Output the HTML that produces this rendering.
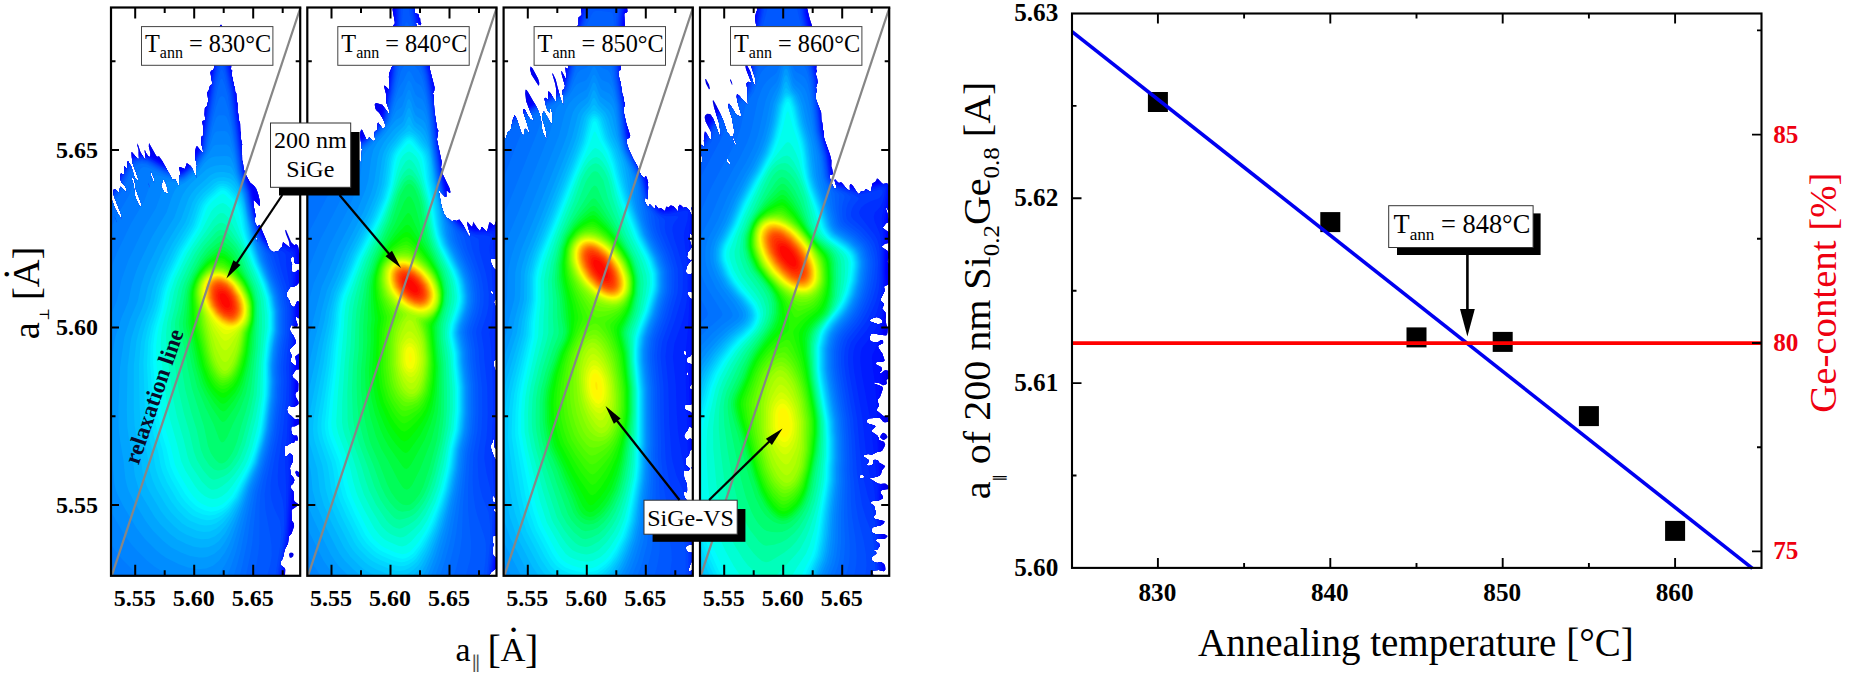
<!DOCTYPE html>
<html lang="en"><head><meta charset="utf-8"><title>Figure</title><style>html,body{margin:0;padding:0;background:#fff}svg{display:block}text{font-family:"Liberation Serif","DejaVu Serif",serif}.b{font-weight:bold}.r{font-weight:normal}</style></head><body>
<svg width="1850" height="676" viewBox="0 0 1850 676">
<defs></defs>
<rect width="1850" height="676" fill="#fff"/>
<clipPath id="r0"><rect x="111.0" y="7.5" width="189.2" height="568.3"/></clipPath><clipPath id="c0" clip-path="url(#r0)"><path clip-rule="evenodd" d="M221 24.6l1.5 1.9 0.5 4 0.7 1 -0.2 3 0.7 1 -1 4 5 14 2.2 8 0.2 3 0.7 1 -0.4 4 1.3 1 -0.6 5 0.9 2 0.2 3 0.9 2 0.2 3 1.2 2 0.1 4 1.2 2 0.3 7 0.9 3 -0.1 8 0.8 2 0.8 7 1.1 3 0.2 8 0.5 1 -0.4 4 1.8 8 -0.9 6 0.7 1 0.1 9 0.8 2 0.6 6 2.2 6 4.3 7.9 4 3.4 2.1 2.7 1.9 5.1 2 8.2 0 3.9 -1-0.3 -5-5.4 -0.7 0.5 0.3 5 2.2 11 -1.6 2 0.4 3 1.3 3 2.1 2.6 1-2.3 1 0.7 6 14.2 3 8.8 2 2.3 3 1.4 2-0.9 2 0.1 1.2-0.9 0.9-2 0.9-0.8 1.2-0.2 0.8-5.5 6 5.1 1 0 -0.7-4.6 -3.3-8.2 -1-3.8 1-0.7 5.4 12.7 2.6 2.5 1-0.1 1-1 2 2.1 1 5.9 3 8.6 0 2.3 -1 1.2 -5 0 -1.9-1.5 0.2-4 -0.7-2 -0.6-0.6 -1 0.7 -1.3 1.9 -0.1 2 1.5 4 -0.9 6 0.8 1.3 2 0.8 2-0.8 2-2.1 1 0.5 0.7 2.3 -0.3 9 -1 2 -2.4 2.2 -2 0.8 -3 0.1 -1 0.7 -3 4.8 -0.6 2.4 0.6 2.6 2.4 3.4 1.1 4 1.5 2.1 2 0.5 0.9-0.6 2.1-5 1-0.4 4.1 3.4 0.3 7 -1.4 6 -1 1 -1-0.1 -3-1.9 -0.4 1 0.4 2.8 1.6 4.2 -0.6 2.8 -1 0.7 -1-0.5 -1.8-2 -1.2-0.5 -1 0.2 -0.8 1.3 -0.3 3 0.4 2 2.7 3.5 2.7 5.5 0.2 2 -1.1 2 -5.4 5 -0.2 1 2.5 5 -1.2 5 0.7 2 3.8 3.1 1 0.2 0.4-2.3 -1-7 3.6-3.1 1 0 2.1 5.1 0.2 3 -0.3 2.3 -2 4.9 -1 0.9 -3 0 -4 5.9 0.9 2 4.7 4 0.9 2 -0.2 7 -0.5 1 -2 1 -0.6 2 0.3 2 2.9 5 0.3 2 -0.7 1.2 -4 2.3 -5-1.2 -1.1 0.7 -0.9 3 0.4 3 1.5 2 2.1 1.3 4 3.8 3-0.9 2 0.7 1.3 3.1 -0.3 1.2 -1 0.9 -2 0.2 -3 1.5 -3-0.1 -0.9 1.3 0 3 0.9 3.5 2 1.7 3-0.3 1 3.1 -0.4 2 -0.6 0.6 -1-0.8 -1 0.2 -1 2.3 -3 0.3 -4 2.5 -2 0.2 -0.8 1.7 0.2 6 0.6 2.4 1 0.7 1-0.2 2-2.3 1-0.5 2 1.1 0.9 1.8 0 5 -2.7 5 -0.2 2 0.8 6 3.2 4 0.4 2 -1.4 3.2 -2.2 1.8 -0.6 2 3.3 4 0.6 9 0.6 1 3.2 2 0.2 1 -1.2 2 -4.9 2.9 -0.6 1.1 0.4 10 2.2 3 0.1 3 -2.5 7 -2.9 3 -0.7 7.1 -3.3 5.9 -1.9 9 -2.3 3 0.5 4 3 2.1 1.2 1.9 -0.3 8 -2.9 0.5 -173 0.5 -1-1 0.4-366 0.6-1.8 2 3.2 0.7-0.4 -3-11 0-10 0.3-0.8 1 2.4 2 7.4 3 7.9 6 10.7 1 0.1 -1-5.5 -6.5-16.2 -0.9-3 -0.1-4 0.5-1.3 1 0 4 3.6 0.6-1.3 0.4-4.2 1-0.5 5.1 5.7 0.5-1 -0.6-3.4 -1-2.4 -3-2.8 -1-1.7 -1-4.7 1-3.2 2 1.4 1.1-0.2 -0.1-8.4 3 2.7 0.3-0.3 -0.2-6 0.9-1.6 3.2 5.6 3.4 11 2.4 2.8 1.4 0.2 -0.5-3 -5.5-15 -1.1-10 0.7-0.5 6 7.5 1-0.9 -0.5-9.1 -1.5-4.9 0-2.3 0.2 2.2 0.8 0.2 2.6 7.8 4.4 7.2 1-0.1 -1.5-9.1 0.5-0.2 1.4 3.2 2.1 3 1.5 0.5 0.4-0.5 0-3 -1.6-7 0.2-3.4 7 12.5 1 1.1 2-0.5 3 4.4 10 18.3 1 1.1 2-0.8 4 7.2 0.6-1.9 -0.2-8 1-3 -1.4-6 1-0.5 5 2 1.6-5.5 0.4-0.2 3 2.2 1.7 2 4.3 10 1 0.7 -0.8-8.7 0.8-4 -1.9-8 0.2-7 0.7-3.3 1-1.3 5 6.7 1.1-0.1 -0.2-3 -1.4-5 -0.2-5 0.3-3 1.8-1 0.1-7 -1.3-7 0.8-0.8 2-0.1 0.3-1.1 -0.7-5 0.2-6 0.4-1 1.6-1 1.5-6 -1.1-8 1.5-2 1.3-4.7 2-1.2 0.3-1.1 -1.9-11 0.6-1.5 2.5-1.5 0.8-2 -0.3-4 1.7-8 -1.2-7 0.5-1 1.2 0 0.8-1 -0.9-14 1.6-4zM151 170.9l-0.7 0.6 0.6 4 3.1 8.2 0.5-1.2 -0.5-4.8zM132 176.3l-0.6 0.2 0.3 2 2 7 1.3 10.7 3 7.4 2 2.8 1 0.4 0.5-1.3 -0.2-2 -5.7-15 -1.1-9zM164 179.6l-1 0.4 -2 5.5 1 2.9 2 3.5 3 1.8 1-0.5 -0.1-3.7 -1.9-5.9zM148 182.2l0 1.7 2 4.6 0-2.3zM114 216.2l3 7.1 0.1-1.8 -2.1-4.8zM255 235.2l0 1.9 2 5 1-0.5 -0.8-3.1zM301 461l0.5 1.5 -0.3 1 -1.2 0.3 -0.1-2.3zM296 470.7l2 0.5 1.3 1.3 1.2 3 -0.5 1.7 -2-0.1 -1.5-1.6 -1.1-3zM291 552.6l2 0.5 0.7 1.4 -0.6 2 -2.1 1.4 -1.1-0.4 -0.8-3 0.4-1z"/></clipPath><g clip-path="url(#c0)" fill-rule="evenodd"><rect x="111.0" y="7.5" width="189.2" height="568.3" fill="#0000e2"/><path fill="#0000f0" d="M221 21.3l2.3 1.2 2.3 4 8.4 30.7 4 11.1 2 2.8 18 4.2 15 5.6 15 7.8 7 4.5 7 5.4 0 115.5 -17 5.7 -9 3.7 -6.1 4 -1.9 2 -0.7 2 1 4 1.9 3 1.8 1.5 2 0.5 9-0.8 10 3.1 6-0.5 1.9 1.2 0.7 2 -0.6 9 -0.2 19 -0.9 9 0.3 37 -0.9 10 -0.3 74 -1 10.7 -0.1 30.3 -0.9 10 0.2 25 -3.8 56 -6.4 42 -178 0.2 0-443 9-11.5 10-10.5 15.8-14.2 10.2-7.6 11-6.6 11-5.1 12-4.1 14-3.2 2-1.2 2-3.7 2-6.1 5.1-28.4 1.1-4 2.8-5.2 2-1.7z"/><path fill="#0000fa" d="M221 25.9l1 0.7 1.1 1.9 2.2 7 7.2 29 4.8 23 6.8 51 3.9 21 3 8.4 8.5 12.6 1.8 4 1.1 4 0.3 7 -2.7 10 -0.8 7 0.8 6.3 3 11.9 2.8 5.8 3.2 3.9 2 1.6 3 0.6 7-1 3 0.2 8 2.6 6 0.5 1 0.7 0.6 1.9 -0.4 26 -0.7 9 0.2 36 -0.9 11 -0.3 74 -1 10 -0.1 31 -0.9 10 0.1 25 -4 56 -6.5 42 -176.1 0.1 0-388.3 16.2-29.8 3.8-3.8 7-3 5-0.9 8 1.3 4 1.7 14.7 8.7 10.3 4.3 2-0.2 2-1.1 5.1-5 7.9-12.1 2-5.2 8-45.7 1.8-14 5-25 3.8-26 0.9-3 1.5-3.2 1-1z"/><path fill="#0005ff" d="M220 29l1 0.3 1 1.3 1.5 3.9 8.9 36 4.5 23 4.1 36 5 38.2 2 8.4 4.6 13.4 4.4 25.8 5 16.6 3 5.6 4 4.6 2 1.4 3 0.4 7-0.9 3 0.2 8 2.7 4 0.8 1.3 0.8 0.7 2 -0.1 23 -0.7 10 0.3 36 -0.8 10 -0.5 74 -0.9 11 -0.2 31 -0.8 9 0.1 25 -3.9 56 -6.6 43 -174.9 0.1 0-386.3 3-3.9 7.5-14.9 6.8-12 3.7-3.6 7-2.9 5-0.6 8 1.8 17.1 10.3 10.9 4.9 2 0.1 2.1-1 4.9-4 2-2.4 9-14.6 1-3.7 7.4-46.3 2-15 4.6-22.9 4-26.1 1-3.3 1-1.6z"/><path fill="#0010ff" d="M220 32.4l1.4 1.1 1.6 3.8 8.4 33.2 4.6 24 9 74.6 2 8 4.5 13.4 3.9 23 5.6 18.4 3 5.8 4 4.8 2 1.7 3 0.9 8-0.9 3.1 0.3 10.9 3.9 1.1 1.1 0.6 2 -0.1 21 -0.7 9 0.5 37 -0.8 9 -0.6 76 -0.9 10 -0.2 30 -0.9 10 0.2 25 -3.8 56 -6.5 43 -173.9 0.1 0-385 3-3.2 8.6-16.9 7-12 3.4-3 6-2.4 5-0.7 7 1.5 4 2 13.7 8.6 11.3 5.2 2 0 2.7-1.2 4.8-4 2.5-2.8 8-12.8 1.8-4.4 7.7-48 1.9-15 4.5-22 4.1-25.2 1-3z"/><path fill="#001bff" d="M220 36.7l1 0.3 1 1.8 2 5.8 6.5 25.9 4.7 24 8.8 74 1.9 8 4.7 14 4.2 24 5.3 17 2.9 6.2 4 5 3 2.6 3 0.9 8-0.8 4 0.7 8.2 3.4 1.8 2 0.4 2 -0.1 19 -0.7 8 0.7 38 -0.8 9 -0.5 22 -0.2 53 -1 10 -0.2 31 -0.9 10 0.2 25 -3.5 56 -6.2 39 -0.3 4 -172.9 0.1 0-384 2-1.5 2-2.7 7.5-14.9 7.4-13 3.1-3 6-2.5 5-0.7 7 1.6 17.7 10.6 11.3 5.1 2.8-0.1 2.2-1.2 5-4 3-3.6 8-12.8 1.6-4.4 7.6-47 2.1-16 4.5-22 3.1-19z"/><path fill="#0025ff" d="M221 41.5l1 1.3 2 5.4 4.3 16.3 5.9 29 5.5 47 4.2 31 5.9 19 4.2 23.6 5.7 18.4 3 6 6.3 7.3 2 1.1 2 0.4 8-0.5 3.8 0.7 7.2 3.5 1.2 1.5 0.6 2 -0.6 26 0.9 37 -0.7 10 -0.7 27 -0.3 48 -0.9 10 -0.4 31 -0.9 10 0.3 25 -3 55 -6.2 39 -0.4 5 -171.9 0.1 0-383 2.7-2.1 1.6-2 8.1-16 7.5-13 3.1-2.6 5-2.1 5-0.7 7 1.6 18 10.8 8.4 4 3.1 1 2.5-0.2 2-1.1 5-4 3-3.2 8.5-13.5 1.7-4 10.7-68 3.6-17 2.5-15.3 2-5.7z"/><path fill="#0030ff" d="M221 45.6l2 3.2 4.4 15.7 6 29 9.6 77 1.5 6 4.9 15 3.8 22 5.8 19 3 6.2 4.5 5.8 2.5 2.5 4 1.5 8-0.1 3 0.6 6.1 3.5 0.9 1.1 0.5 1.9 -0.1 24 1.4 27 0.1 11 -1.7 38 -0.3 46 -1 11 -0.6 30 -0.9 10 0.4 25 -0.7 23 -1.7 33 -6.1 39 -0.4 5 -170.9 0.1 0-382.2 3-2.1 2.1-2.8 8.2-16 6.8-12 2.9-2.7 5-2.2 5-0.8 6 1.3 4 2 14 8.7 10 4.7 3 0.8 2-0.3 3-1.6 5-4.2 2.5-2.7 8.8-14 1.6-4 10.8-68 6-30 1.3-3.5z"/><path fill="#003bff" d="M221 49.8l1 0.9 4 12 5.7 25.8 1.2 7 9.3 74 1.6 7 5 15 3.7 21 1.5 6 5.9 18 2.1 3.4 5 6.5 2 1.8 3 1.4 10 1.4 3.1 2.5 0.7 2 0.5 11 3.7 22.2 1.4 18.8 0.1 11 -2.5 49 0.4 14 -0.4 19 -1.1 11 -0.9 22 -1.8 22 0 10 1 24 -0.4 33 -0.8 12.4 -5.9 37.6 -0.3 5 -169.8 0.1 0-381.3 3-1.9 2.4-2.9 8.6-16.8 6.4-11.2 2.6-2.8 5-2.3 5-0.8 6 1.3 18 10.6 12 5.4 2 0.1 3-1.2 5.5-4.3 3-3 9.5-14.9 1.5-4.1 10.8-67 5.7-26.5 1-3.4z"/><path fill="#0046ff" d="M221 55.1l1 0.5 1 1.7 2 5.6 6 26.5 10.6 80.1 1.6 7 5.3 16 4.5 24.6 5 16.4 3 6.2 7 9 3 1.9 4.9 1.9 2 2 3.3 15 5.3 17 1.9 10 1.2 12 0.1 10 -0.6 17 -2 18 -1 14 0.7 14 -0.7 17 -3.3 34 -4.3 30 -0.8 14 0.6 9 4.2 14 1.3 10 0.3 12 -0.3 10 -1.8 14.8 -4.2 26.2 -0.4 5 -168.4 0.1 0-380.4 4-2.7 2.4-3 8.1-16 6.5-11.5 2.3-2.5 4.7-2.3 5-0.8 6 1.3 18 10.6 10 4.6 3 0.8 2-0.2 3-1.6 5.5-4.4 2.5-2.6 9.2-14.4 1.8-4 3.6-20 7.6-48 4.8-21.3 1-2.9z"/><path fill="#004fff" d="M222 59.9l1 1.4 2 5.4 6 27.4 10 75.4 1.6 7 5.3 16 4.4 24 5.1 17 2.1 5 6.5 9.5 6.1 5.5 1.3 2 11.1 36 2.9 17 -0.1 25 -3.1 20 -1.2 14 0.8 14 -0.9 18 -3.7 33 -5.4 30 -2.6 16 -0.6 7 0.1 9 0.9 6 2.6 8 5.8 12.3 1.2 9.7 -0.2 7.2 -1 8.7 -4.1 26.1 -0.4 5 -166.5 0.1 0-379.5 4-2.4 2.7-3.2 8.3-16.3 6.6-11.7 2.4-2.4 4-2 5-0.9 5.9 1.3 17.1 10 10 4.7 4 1.2 2-0.2 3-1.5 8.3-7.2 9.6-15 1.8-4 11.5-68 3.8-16.1 2-4.6z"/><path fill="#0058ff" d="M222 64.4l1.4 2.1 1.6 5 5 22.6 10.4 75.4 1.7 7 5.3 16 4.4 24 6.5 21 5.7 9.3 5.1 6.7 1.1 2 11.2 34 1.6 6 2.2 14 0 23 -2.6 15 -1.9 18 -0.1 7 0.8 9 -0.7 7 -0.2 10 -4.6 38 -9.4 44 -1.9 14 0.8 15 4.5 24 1.6 12 0.2 10 -1.3 9 -3.9 13 -157.5 0 0-378.4 4-2.3 3-3.2 15-28.1 3-3 3-1.5 5-0.9 5 0.9 18 10.4 10 4.5 4 1.2 2-0.2 3-1.5 8.3-6.9 10.4-16 1.7-4 11.6-66.7 4-15.6 1-1.7z"/><path fill="#0060ff" d="M222 69.6l1 1.4 1 3 5.1 21.5 10.9 75 1.5 6 5.5 16.6 4.5 24.4 5.6 19 10.3 18 1.7 6 9.4 26 2.5 9 2.3 15 0 22 -3.3 20 -1.3 14 0 7 0.8 8 -0.7 7 -0.3 10 -4.8 38 -7 31 -3.8 14 -2.4 12 -0.9 13 -0.2 37 -1.1 10 -1.8 10 -3.4 14 -144.1 0 0-377.2 4-2.2 3.6-3.6 15-28 2.4-2.8 4-2 4-0.6 5 0.9 18 10.2 10 4.5 4 1.1 2-0.2 3-1.4 9-7.5 9.9-15.2 1.9-4 12.2-66.1 3-11.4 1-2.1z"/><path fill="#0069ff" d="M222 78.7l1 1.5 2 5.6 2.8 10.7 11.6 74 1.4 6 5.7 17 4.5 24 5.5 19 8.6 17 2 7 10.3 28 2.1 8 2.3 15 0 21 -3.7 22 -1 13 0.7 14 -0.7 7 -0.1 9 -3.8 32 -4.9 23 -10.9 40 -1.6 12 -3.6 39 -1.8 11 -4.9 23 -136.5 0 0-375.8 5-2.7 3.4-3.5 14.9-28 2.7-3 3-1.5 4-0.8 5 1 17 9.4 14 5.8 3 0 2-0.8 4-2.7 6-5.2 10.8-16.2 1.8-4 12.4-62 2-6.7 1-1.9z"/><path fill="#0072ff" d="M222 95.9l2 1 1 1.7 3 9.8 3.6 18.1 7.1 44 1.8 7 5.5 16 4.9 26 4.9 17 6.9 15 3.1 10 10.2 27 2.1 8 2.4 15 -0.1 21 -2.6 14 -2 19 -0.1 8 0.7 8 -0.6 6 -0.2 10 -3.9 32 -2.3 12 -5.9 23 -8.4 27 -4.8 28 -3.1 22 -4.7 23 -3.2 13 -130.3 0 0-373.2 6-3.7 3.9-4.1 14.2-27 2.1-3 3.2-2 3.6-0.8 4.7 0.8 16.3 8.7 11 4.8 4 1.2 3 0 3-1.3 9-7.2 3.3-4.2 8.4-13 1.4-3 6.9-31.8 3-11.7 3-8.5 1-1.6z"/><path fill="#007bff" d="M224 115.2l2 1.2 1 1.5 3 9.2 4 19.9 4.2 24.5 7.2 22 4 22 5 19 5.5 13 4.1 13 10.7 28 2.2 8 2.2 13 0.1 23 -2.6 14 -2 19 -0.1 8 0.7 8 -0.8 16 -4 32 -2.9 14 -5.8 22 -8.6 25 -5.9 27 -6.4 33 -3.6 14 -4 13 -122 0 -2.2-2.3 0-343.5 9-17.8 11-18.4 6.8-18 2.9-6 2-3 1.4-1 1.9-0.5 3.8 0.5 16.2 7.5 13 5 4 0.1 3-1.2 10.3-8.4 12-18 1.4-4 5.3-21.8 3-8.4 1-1.5 2-1.5z"/><path fill="#0084ff" d="M225 131.1l2 0.8 1 1.1 2 4 4.3 17.5 3.4 18 7.3 22 3.9 21 4.8 19 5 13 4.4 14 3.4 8 7.1 19 2.2 8 2.2 13 0.2 22 -2.6 14 -2.1 20 0 8 0.6 8 -0.7 15 -4.8 37 -4 17 -4 14 -9.4 26 -15.5 62 -4.7 14 -4.8 11 -84.8 0 -7.4-6.4 -12-12.2 -6.8-8.4 -6.2-8.9 0-267 4-12.1 4.1-10 13.9-29 13-21.8 5.8-16.2 4.5-9 1.7-1.2 3 0.2 19 5.7 4-0.4 3-1.5 8-6.3 2.5-2.5 10.9-16 2-4 4.6-14.4 2-3.5 1-0.8 2-0.6z"/><path fill="#008dff" d="M226 144.6l2 0.6 2 2.1 3 8.1 4.4 19.1 7 20 4.1 22 5.1 20 8.4 25 3.9 9 6.7 18 2.5 9 2.2 14 0.1 18 -0.3 4 -3.3 18 -1.2 13 -0.1 9 0.7 8 -0.9 16 -4 32 -5.1 22 -4.5 15 -8.6 22 -17 58 -4.1 10.4 -4 8.1 -5 7.5 -5.1 5 -40.2 0 -12.7-6.3 -8-5 -7-5.8 -11-10.9 -5.2-6 -6.6-9 -15.2-26.2 0-187.6 2.9-8.2 5.1-12 4.6-21 6.7-19 14.8-31 12.9-21.4 6.3-17.6 3.4-7 1.3-1.3 2-0.7 10 1.2 3-0.5 3-1.5 9-7.1 2.9-3.1 11.3-16 4.8-8.1 2-1.3 2-0.4z"/><path fill="#0099ff" d="M225 155.9l3 0.3 2 1 1 1.3 2 4.5 3.7 12.5 7.3 20 4.4 23 4.7 19 7.8 24 4.4 10 7.3 20 1.6 6 2.2 14 0 20 -2.4 12.6 -1.3 9.4 -1 13 0.6 15 -0.8 15 -3.8 31 -3.2 15 -6.2 22 -9.3 23 -5.1 16 -11.9 34 -3 7.3 -4 7.7 -6 8.3 -6 4.9 -7 2.9 -8 0.6 -10-1.6 -9-3.3 -13-6.6 -5-3.5 -5-4.2 -11.5-11.5 -7.7-10 -13.2-22 -6-12 -2.2-6 -1.2-6 -1.8-20 -3.4-23.7 0-40.2 1.5-29.1 3.6-26 1.4-7 6.1-19 6.7-16 3.6-17 4.2-13 3.6-9 12.5-26 14.3-24 5.9-17 2.8-6 2.3-3 7.5-3.7 10.3-8.3 2.9-3 6.8-9 4-3.7 3-1.6 3-0.8z"/><path fill="#00a5ff" d="M225 165l5 1.1 2 1.9 6 13.7 5 12.9 2 8.4 2.7 15.5 4.5 19 7.8 24 8.6 21 4.5 14 2.5 15 0.1 19 -2.7 15 -2 18.3 -0.1 9.7 0.6 8 -0.7 14 -4.3 34 -1.9 9 -7 25 -9.7 23 -5.4 16 -7.5 18.5 -6 13.8 -4 7.3 -5 6.8 -6 5.2 -7 2.9 -4 0.6 -4 0 -9-1.6 -9-3.6 -10-5.2 -8-6.4 -10.2-10.3 -6.8-8.9 -12.6-21.1 -4.5-9 -1.7-5 -1.9-8 -1.8-18 -3.4-20 -1.4-12 -0.3-18 1.6-43 4.3-30 5.7-18 7.6-18 3.2-15 3.8-12 3.7-9 12-25 14-23 6.4-18 2.2-5 3.1-5 4.9-6 15.6-14 4.5-2.5 4-1.3 5-0.7z"/><path fill="#00b2ff" d="M224 171.9l6 1.3 3 2.4 4 6.9 5 11.8 2 7.3 3.5 18.9 4.1 18 7.5 23 8.7 21 4.5 14 2.6 15 0 19 -3.7 22 -1.1 13 0.6 16 -0.8 15 -3.9 31 -3 14 -6.4 22 -10 23 -5.9 16 -7.7 16.4 -8 14.6 -6 7.4 -5 3.8 -6 2.5 -7 0.6 -7-1 -8-3 -9-4.5 -7.4-5.8 -9-9 -6.2-8 -12.6-21 -3.3-7 -3.7-13 -2-17 -4-21 -1.5-11 -0.5-17 0.8-43 2.8-23 1.1-6 5.3-17 5.3-12 2.9-8 2.7-13 3.6-11 9.2-21 6-12 14.5-23.9 7.6-21.1 3-5 4.4-5.5 14-12.5 3-1.8 3-1.1 4-0.7z"/><path fill="#00beff" d="M224 177l6 1.6 4 3 5 8.6 3 7.1 2 7.7 3.7 20.5 2.9 13 7.6 23 8.8 21 4.6 14 2.6 16 0 18 -3.7 22 -1.1 13 0.5 16 -0.6 14 -4.1 32 -3 14 -6.5 22 -9.9 22 -6.4 16 -7.4 14 -6 9.5 -6 7.2 -5 4 -6 2.5 -7 0.6 -7-1.2 -9-3.7 -6-3.3 -6-5.1 -7.4-7.5 -5.6-7.3 -11.7-19.7 -2.7-6 -3.9-13 -2.3-17 -2.9-13 -2.9-17 -0.8-17 0-43 2.6-24 2.7-11 3.2-10 4.7-10.8 3-8.6 2.4-11.6 3.1-10 3.2-8 7-15 6.6-13 12.7-20.5 2.7-6.5 4.7-14 4.1-7 5.2-6 11.3-9.9 5-2.2z"/><path fill="#00caff" d="M223 180.7l5 1.1 3 1.6 2 1.8 6 8.5 3 7 7.7 37.8 8.1 24 8.8 21 4.5 14 2.4 15 0 18 -2.6 14 -2.1 19 -0.1 10 0.5 8 -0.6 14 -4.5 34 -1.9 9 -7.1 24 -10.5 23 -5.8 14 -9.8 16.1 -6 7.4 -7 5.8 -6 2.6 -6 0.6 -7-1.2 -10-4.2 -5-3.4 -7.1-6.7 -4.5-5 -4.3-6 -9.9-17 -3.5-8 -3.1-10 -2.4-16 -3.5-15 -3-16 -1-16 -0.7-43 1.9-22 2.2-10 3.3-11 5.6-14.4 2.3-7.6 2.3-11 5.8-16 12-25 14.5-24 6.7-19 2.6-5 4.8-6 11.2-10 3.8-2.2z"/><path fill="#00d6ff" d="M223 183.6l4 0.9 4 2.6 7 8.5 3 5.8 1.9 7.1 3.4 20 2.4 10 8.3 24 9 21.5 4.3 13.5 2.5 15 0 17 -2.6 15 -2.1 19 -0.1 11 0.4 7 -0.6 14 -4.5 34 -2.2 10 -6.8 23 -16.5 36 -8.8 13.2 -7 7.3 -6 4.2 -5 1.9 -6 0.5 -6-1.1 -9-3.8 -4.5-3.2 -7.3-7 -6.9-9 -9.2-16 -3.6-8 -2.9-9 -2.7-16 -3.6-14 -3.2-16 -1.3-16 -1.4-44 1.4-20 2-10 2.4-9 4.8-12.7 2.8-9.3 2.8-13 5.5-15 12-25 14.1-23 2.8-6.8 4.3-13.2 2.1-4 4.7-6 10.9-9.7 3-1.7z"/><path fill="#00e3ff" d="M223 186l4 1 3 2.3 7.7 9.2 3.1 6 2.2 9.6 2.5 15.4 2.2 9 8.8 25 8.5 20 4.6 14 2.4 15 0.1 17 -2.7 15 -2 19 0.2 18 -0.4 13 -2.2 18.1 -3.5 21.9 -3.5 13.3 -4 12.8 -3 7.3 -8.3 16.6 -5.7 12.6 -8 11.3 -6 5.8 -5 3.2 -6 2.4 -5 0.4 -6-1.1 -8-3.4 -4-2.9 -7-6.8 -5.1-6.5 -9.8-17 -4.8-11 -1.7-6 -2.6-14.3 -3.8-13.7 -3.5-16 -1.5-15 -2.2-41 1.2-24 3.2-15 5.7-17 2.4-9 2.5-12 5.7-15 11.5-24 11.3-18 3.3-6 6.7-19 2.1-4 4.4-5.6 10-8.9 3-1.7z"/><path fill="#00efff" d="M223 188.1l3 0.8 3 2.3 8 9.3 2.9 6 2.2 9 2.2 14 2.4 9 8.9 25 8.6 20 4.5 14 2.5 15 0.1 17 -2.7 15 -2 19 0.2 18 -0.5 13 -2.3 19 -3 19.3 -4 15.3 -4 12.5 -5 11.4 -6.6 12.5 -2.4 5.6 -3.8 7.4 -2.2 3.1 -6 7.1 -5 3.9 -7 3.2 -6 0.8 -6-1.1 -7-3.1 -4-2.9 -6.2-6 -4.6-6 -9.8-17 -4.9-11 -1.4-5 -2.5-13 -4-14 -3.7-16 -1.8-15 -2.9-41 0.4-19 1.6-11 2-9 4.9-15 4.7-21 5.6-15 11.5-24 11.4-18 3.2-6 6.4-18 1.8-4 4.6-6 8.9-8 2.8-1.9z"/><path fill="#00fbff" d="M223 190.3l2 0.5 2 1.4 6.7 7.3 2.9 4 1.9 4 2.3 9 2 12 2.8 10 9 25 4.4 9.4 5 12.6 3.8 12 2.5 15 0.1 16 -2.7 16 -2 19 0.2 18 -0.7 15 -4.2 31 -2 9.2 -4 14.3 -5 14.1 -13 25.6 -4 7.1 -6 6.8 -4 3.3 -6 2.8 -6 1 -6-1.2 -6.6-3 -3.4-2.5 -5.5-5.5 -4.6-6 -9.9-17 -4.4-10 -3.8-17 -4.3-14 -3.9-16 -2-15 -3.5-41 0.1-18 1.3-10 1.5-7.4 5.2-17.6 3.8-18 2.8-9 3.2-8 11.5-24 14.7-24 3.2-8 3.6-10.8 1.5-3.2 4.5-5.8 8.1-7.2 2.9-1.9z"/><path fill="#00ffed" d="M223 193.8l2 0.9 6 5.8 3 3.7 2 3.5 2.8 8.8 2.6 13 2.8 9 9.3 25 4.5 9.8 7 18.3 2 7.2 2 12.7 0.2 17 -2.5 15 -2.1 20 0.1 18 -0.7 15 -4.2 30 -1.8 8.5 -4 14.5 -4 11.8 -2 4.4 -16 29.3 -6 6.5 -4 3 -4.7 2 -5.3 0.8 -4.1-0.8 -6.6-3 -3.3-2.4 -4.6-4.6 -4.4-5.9 -10-16.8 -4.1-9.3 -4-17 -5.9-19.5 -2.5-10.5 -2-14 -4.2-41 -0.1-17 1.1-10 1.6-9 4.6-16 3.5-17.4 3-9.5 2.8-7.1 11.2-23.4 15.7-25.6 6.3-16.8 2-4.1 5-5.8 7-5.9z"/><path fill="#00ffd4" d="M223 203.1l3 1.3 3.4 3.1 2.6 3.6 2.7 5.4 5.7 17 12 31 4.6 10 5 12.7 3.4 11.3 2.2 17 0 12 -2.2 15 -2.1 20 -0.9 33 -4.7 30 -5.7 22.6 -4 11.5 -3 6.3 -4 7.1 -9 13.3 -5 6 -5 3.9 -5 2.3 -4 0.5 -4-0.8 -4-1.9 -3.6-2.8 -3.4-3.6 -3-4 -9.7-15.4 -4-9 -4.4-18 -7.2-25 -3-16 -5.1-41 -0.8-17 0.4-9 1.4-10 5-20 2.5-13 4.9-14.2 11.9-24.8 15.3-24 8.8-17.7 2.5-3.3 3.5-3.1 3-1.7z"/><path fill="#00ffbb" d="M222 212.9l2 0.6 3 2.7 3 3.7 3 5.3 11 22 7.3 19.3 8.1 19 2.5 8 1.6 7 1.4 14 0.1 13 -3.7 35 -1.5 33 -3.9 22 -7.2 29 -5.4 14 -4.3 7.6 -5 6.8 -6 6.5 -6 4.9 -5 2.8 -4 0.7 -2-0.4 -3-1.6 -6-6.1 -10.3-15.2 -2.4-5 -1.7-5 -4-17 -6.7-23 -3.6-17 -5.6-40 -1.3-14 -0.3-12 1.1-11 4.1-17 2.8-14 3.6-11 6.4-14 8.9-16.9 12.7-18.1 7.3-11.5 5-5.5 2-1.2z"/><path fill="#00ffa2" d="M222 222.7l3 1.3 4 3.7 11.1 16.8 3.4 7 5.8 16 7.7 18 2.4 8 1.6 8 0.9 14 0 12 -1.6 22 -1.4 13 -2.3 33 -3.9 20 -7.7 29.7 -5.3 13.3 -3.7 6.1 -4.6 5.9 -3.4 3.2 -4 2.5 -6 2.6 -4 0.9 -2-0.4 -2.7-1.8 -6.3-7.6 -5.9-9.4 -3.3-9 -4.3-19 -5.6-19 -5.3-23 -7.4-52 -0.5-11 0.6-6 3.5-14 3.6-18 2.7-8 7.4-16 6.5-12.6 6.3-9.4 13.7-17.2 4-3z"/><path fill="#00ff89" d="M221 229.7l4 1 3 2.5 9 11.3 4.4 8 5 14 8.2 19 2 6 2.1 11 0.4 18 -1.2 28 -1.6 14 -2.7 32 -3.8 18 -7.8 29 -4.9 13 -6.1 9.4 -3 3.2 -3 2 -3 1 -4 0.4 -4-1 -4.6-4 -5.3-8 -3.2-8 -4.3-20 -5.3-17 -6.1-23 -7.2-44 -2.3-11 -0.8-10 0.6-5 2.7-10 4.2-21 2-6 5.9-13 7.2-14 5.9-9 12.6-14.2 2.4-1.8z"/><path fill="#00fe70" d="M222 235.3l2 0.5 2 1.4 6 6.1 4 4.8 3.1 5.4 4.9 13 8.7 19 1.7 5 2.4 11 0.4 14 -1.6 33 -4.4 39 -1.5 9 -3.7 14.4 -4.7 14.6 -4.2 16 -3.1 8.1 -2 3.9 -4.1 6 -2.9 2.8 -3 1.2 -2-0.2 -1.6-0.8 -3.4-3.2 -4-5.9 -3-7.5 -4-19.4 -12.1-38 -4.1-20 -2.9-17 -1.7-8 -3.4-12 -0.9-7 0.5-5 2.2-9 3.7-21 1.8-6 4.4-10 8.6-16 5.9-8.6 12-12.1 2-1.2z"/><path fill="#00fd59" d="M222 241.4l2 0.6 4 2.9 4 3.7 3 3.8 2.3 4.1 6.8 15 4.7 9 3.5 8 2.3 8 1.2 7 0.1 10 -2.4 35 -3.8 27 -3.7 18 -6 16 -7.3 15 -5.7 13 -3 4.3 -2 0.6 -1.4-0.9 -1.6-2.7 -5.3-14.3 -8.2-17 -8.2-20 -4.9-19 -5.1-26 -3.8-13 -0.8-6 4.5-33 1.7-6 3.7-9 9.4-16.2 6-7.5 3-3.1 6-4.9 3-1.9z"/><path fill="#00fd41" d="M222 246.3l2 0.5 3 1.9 3 2.5 3 3.5 3 4.8 11.4 21 3.3 7 2.6 8 1.5 7 0.2 6 -0.3 12 -1.9 14 -1.1 14 -2.8 18 -4.3 19 -3.1 9 -6.7 13 -7.8 11.6 -2 2.1 -2 0.8 -1-0.3 -2-1.9 -8-11.9 -7-12.8 -4.4-9.6 -5.2-18 -5.3-26 -3.7-13 -0.6-5 2.7-31 1.6-7 3.7-9 6.2-10.7 6-8.1 8-7.4 5-3.3z"/><path fill="#00fc29" d="M222 249.9l2 0.5 3 1.9 5 5.2 14.2 23 3.4 7 2.6 7 1.6 7 0.5 7 -0.5 13 -2.4 13 -2 19 -2.2 12 -4.4 17 -3.8 9.5 -5 8.2 -7 9 -2 1.7 -2 0.5 -3-1.7 -6-7.3 -6.4-9.9 -4.5-9 -5.6-18 -5-24 -3.5-13 -0.7-6 1.4-29 1.7-8 3.2-8 6-10 6.4-8 9-7.3 4-2z"/><path fill="#00fb12" d="M221 253l2 0.2 2 0.9 6 5.5 14.1 20.9 3.6 7 2.7 7 1.9 8 0.3 5 -0.1 9 -0.8 7 -2.5 11 -2.4 20 -2 10 -2.6 10 -3.7 10 -4.5 8.2 -8 9.1 -2 1.5 -2 0.5 -2-0.6 -2-1.7 -6-6.8 -4.9-7.2 -3.3-7 -5.3-16 -5.1-24 -3.2-12 -0.8-6 0.4-28 1.1-7 2.9-8 4.4-8 7.8-9.8 9-6.7z"/><path fill="#05fa00" d="M221 255.7l2 0.3 2 1 5 4.3 7 8.9 7.8 11.3 3.5 7 2.3 6 1.9 7 0.5 6 -0.1 9 -0.7 6 -3.1 12 -2.6 20 -2.2 10 -2.6 9 -4.2 10 -3.5 5.6 -6 6.2 -3 2.1 -2 0.4 -2-0.5 -3-2.2 -6.7-7.6 -4.3-7.8 -4.2-11.2 -10.2-43 -0.8-26 0.2-7 1.2-6 2.5-7 3.3-5.9 5-6.7 5-4.9 8-5.1z"/><path fill="#16fb00" d="M221 258.1l2 0.4 2 1.1 5 4.2 7 8.2 7 9.8 3.5 6.7 2.8 7 1.8 7 0.4 5 -0.1 9 -0.8 6 -3.4 11 -2.7 20 -2.6 11 -2.5 8 -4.1 9 -3.3 4.8 -6 5.3 -2 1 -2 0.5 -2-0.5 -3-1.9 -3-2.8 -2.7-3.4 -4.3-7.8 -3.9-10.2 -9.6-41 -1.7-28 0.3-6 1.3-6 2.3-6 3.4-6 4.9-6.1 4-3.6 7-4.2z"/><path fill="#27fb00" d="M220 260.4l2 0.1 2 0.8 5 3.7 7 7.4 7 9.1 3.3 6 3 7 2 7 0.6 5 0 9 -0.8 6 -3.8 12 -2.8 19 -3.9 15 -3.2 8 -4.4 7.3 -5 4.4 -3 1.5 -2 0.4 -2-0.3 -2-1.1 -3-2.5 -2.2-2.7 -4.6-8 -3.9-10 -9.1-39 -2.4-29 0.3-6 1.4-6 2-5 2.9-5 4.6-5.6 4-3.6 6-3.3z"/><path fill="#39fc00" d="M220 262.4l4 1 5 3.5 6 5.8 7.8 9.8 2.8 5 3.4 8 2 7 0.5 5 -0.1 8 -0.8 6 -4.3 12 -2.9 19 -3.8 14 -3.3 8 -4.3 6.4 -4 3.2 -5 1.7 -2-0.3 -2-1 -4-4 -4.3-7 -3.9-10 -2.5-9 -6.4-29 -3.2-30 0.2-5 1.4-6 2-5 3.1-5 4.6-5.3 4-3.1 6-2.9z"/><path fill="#4afc00" d="M219 264.2l4 0.6 5 2.9 7 6.4 6.3 7.4 3.1 5 3.7 8 2.1 7 0.7 5 0 9 -0.7 5 -1.2 4.4 -3.6 8.6 -2.8 18 -3.6 13.2 -3.3 7.8 -3.7 5.6 -4 3.4 -5 1.4 -2-0.3 -2-1.1 -3.7-4 -4.1-7 -3.1-8 -2.7-10 -5.9-27 -1-10 -2.3-13 -0.7-8 0.4-5 1.5-6 2.2-5 2.4-3.6 4-4.5 3-2.4 6-2.9z"/><path fill="#5bfd00" d="M219 265.7l5 1.2 5 3 6 5.4 6 6.9 3.3 5.3 3.6 8 1.8 6 0.8 5 -0.1 9 -0.8 5 -1.1 4 -3.7 8 -3.3 19 -3.3 12 -3.2 7.4 -3 4.8 -4 3.5 -4 1.2 -2-0.1 -2-0.9 -3.1-2.9 -3.9-6.2 -3.6-8.8 -2.8-10 -5.5-26 -1.2-10 -2.8-13 -0.8-8 0.2-4 1.3-6 2.1-5 2.5-4 3.6-3.9 4-3.1 5-2.1z"/><path fill="#6dfe00" d="M218 267l5 0.9 5 2.6 6 4.9 6 6.6 3.1 4.5 3.9 8.3 2.2 6.7 0.8 5 -0.1 8 -0.8 6 -1.3 4 -3.9 8 -3.4 19 -3.5 11.9 -3 6.6 -3 4.5 -3 2.6 -4 1.1 -2-0.3 -2-1 -3-3.2 -3.6-6.2 -2.7-7 -2.6-9 -5.5-26 -1.5-10 -3.1-13 -0.9-8 0.1-4 1.3-6 1.6-4 2.4-4 3.5-3.9 3-2.4 4-2z"/><path fill="#7efe00" d="M218 268.2l5 0.9 5 2.5 6 4.8 5.6 6.1 3.3 5 3.8 8 2 6 0.8 5 -0.1 8 -0.7 5 -1.6 5 -4.1 8 -3.4 18 -3.6 12 -2.7 6 -2.6 4 -2.7 2.6 -3 1 -3.4-0.6 -3.3-3 -3.3-5.5 -3-7.3 -2.6-9.2 -5.6-26 -1.4-9 -3.3-12 -1.2-9 0-4 1.3-6 1.8-4.3 2.4-3.7 3.6-3.8 3-2.1 4-1.7z"/><path fill="#8fff00" d="M217 269.3l5 0.5 5 2.2 6 4.4 5.8 6.1 3.2 4.6 4 8.1 2.1 6.3 0.9 5 -0.1 8 -0.9 5.6 -1.6 4.4 -3.1 5 -1.2 3 -4 19 -3.1 9.7 -2 4.5 -3 5 -2 2.1 -3 1.2 -3-0.7 -3-3.1 -3.2-5.7 -2.8-7.2 -2.2-7.8 -7.2-34 -3.6-12.1 -1.3-8.9 0-4 1-5 1.4-4 2.3-4 3.6-3.8 3-2.2 3-1.3z"/><path fill="#a1ff00" d="M217 270.2l5 0.6 5 2.1 6 4.5 5 5.1 3 4.1 4.1 7.9 2.2 6 1.1 6 0 8 -0.9 5 -1.5 4.2 -3.7 5.8 -1.3 3 -4 16.6 -3 9.1 -2 4.8 -3 5 -2 2.2 -2 0.8 -2-0.6 -3-3.4 -3-5.6 -3-8.1 -9.3-37.8 -3.8-12 -1.4-9 0-4 0.9-5 1.5-4 2.1-3.6 3-3.3 3-2.2 3-1.4z"/><path fill="#b2ff00" d="M217 271l4 0.4 5 1.9 6 4.1 5.1 5.1 3.7 5 4.1 8 2.1 6 0.9 5 -0.2 9 -1.7 6.4 -5.8 9.6 -5.2 15.2 -3 6.9 -4 6.8 -2 1.6 -1 0.2 -2-0.9 -2-2.6 -5-10.4 -10.4-33.8 -3.5-10 -1.8-10 0-4 0.8-5 1.6-4 1.7-3 2.6-3 3-2.2 3-1.4z"/><path fill="#c3ff00" d="M216 272l4 0 5 1.6 6 3.9 4.4 4 4 5 3.6 6.4 2.4 5.6 1.8 7 -0.2 10 -2 6.7 -5.7 8.3 -9.3 15.8 -3 3.4 -2 0.7 -2-1.1 -2-2.6 -8-16 -9.2-24.2 -1.6-5 -0.8-5 -0.4-5 0.5-4 1.1-4 2-4 2.4-3 3-2.4 3-1.4z"/><path fill="#d4ff00" d="M216 272.7l4 0.1 5 1.6 5 3.1 5 4.5 4 5 3.6 6.5 2.4 5.6 1.6 6.4 0.2 4 -0.4 6 -0.7 3 -1.7 3.8 -2 2.9 -9 10.3 -4 3.7 -3 1.6 -2-0.4 -3-2.8 -7-10.8 -3-5.7 -5.5-12.6 -2.1-6 -1.1-5 -0.4-5 0.4-5 0.7-3 1.8-4 2.2-3 3-2.5 3-1.5z"/><path fill="#e5ff00" d="M216 273.5l4 0 5 1.7 5 3.1 4 3.5 3.9 4.7 3.6 6 2.6 6 1.7 6 0.4 5 -0.4 5 -0.9 4 -1.9 3.8 -3 3.7 -4 3.4 -5 3.3 -4 1.6 -3-0.4 -2-1.4 -4-4.5 -4-5.6 -3-4.9 -4.4-9 -3.3-10 -0.5-5 0.2-5 0.5-3 1.6-4 1.9-2.9 2.2-2.1 2.8-1.8z"/><path fill="#f6ff00" d="M214 274.7l4-0.7 4 0.7 4 1.8 5 3.4 3.7 3.6 3.1 4 3.5 6 2.2 5 1.4 5 0.7 5 -0.3 5 -0.9 4 -2 4 -2.4 3.1 -3 2.5 -4 2 -4 0.9 -3-0.1 -3-1.3 -4-3.3 -3-3.2 -4-5.5 -4-7.1 -2.5-6 -1.2-4 -0.6-4 0-6 0.6-4 1.6-4 2.1-3 3-2.4z"/><path fill="#fff800" d="M213 275.8l4-1 3 0.1 4 1.3 5 2.9 4 3.4 2.6 3 3.9 6 2.6 5 1.7 5 1 5 0.1 4 -0.7 5 -1.2 3.4 -2.3 3.6 -2.7 2.6 -3 1.7 -4 1 -4-0.3 -3-1.1 -4-2.6 -3-2.8 -4-4.8 -5.5-9.7 -2.8-9 -0.3-5 0.3-5 0.7-3 2-4 2.6-2.9z"/><path fill="#ffe900" d="M213 276.6l4-1.1 3 0.1 4 1.2 4 2.4 4 3.1 2.8 3.2 6.2 10 1.6 4 1.4 6 0.3 4 -0.4 4 -1.1 4 -1.6 3 -2.2 2.6 -3 2.1 -3 1.1 -4 0.1 -3-0.7 -4-2.1 -4-3.2 -3.6-3.9 -5.6-9 -2.4-6 -1-4 0-10 1.2-4 1.6-3 1.9-2z"/><path fill="#ffdb00" d="M214 276.9l3-0.8 3 0.1 4 1.3 4 2.4 3.3 2.6 2.8 3 6.2 10 1.6 4 1.3 5 0.5 4 -0.3 4 -0.9 4 -1.5 2.9 -2.5 3.1 -2.5 1.8 -3 1 -4 0 -4-1.2 -3-1.7 -3-2.3 -4-4.1 -5.4-8.5 -2.5-6 -1-4 0-10 1.2-4 1.7-2.9 2.2-2.1z"/><path fill="#ffcc00" d="M214 277.7l3-0.9 3 0.1 4 1.3 4 2.4 5.4 4.9 6.3 10 1.6 4 1.3 5 0.3 7 -0.8 4 -1.4 3 -2.3 3 -2.4 1.9 -3 1 -3 0.1 -3-0.6 -4-1.9 -3-2.1 -4-3.9 -5.7-8.5 -3.3-9 -0.5-4 0.1-6 1-4 1.6-3 1.8-2z"/><path fill="#ffbe00" d="M214 278.4l3-0.9 3 0.1 3 0.8 4 2.2 3.7 2.9 2.3 2.4 6.1 9.6 1.6 4 1.3 5 0.5 4 -0.3 4 -0.8 3 -1.5 3 -2.6 3 -2.3 1.5 -3 0.7 -3-0.2 -3-0.8 -4-2.2 -6.4-6 -5.1-8 -3.1-9 -0.1-9 0.7-3 1.4-3 1.6-2z"/><path fill="#ffaf00" d="M214 279.2l3-1 3 0 3 0.9 4 2.2 3 2.3 2.8 2.9 5.6 9 1.7 4 1.3 5 0.5 4 -0.2 3 -0.6 3 -1.4 3 -2.4 3 -2.3 1.6 -3 0.8 -3-0.1 -3-1 -4-2.2 -6-5.7 -4.8-7.4 -3.1-9 -0.2-9 0.8-3 1.3-2.7 2-2.3z"/><path fill="#ffa100" d="M214 280l3-1.1 3 0 3 0.9 3.2 1.7 5.9 5 5.7 9 2.8 8 0.6 7 -0.5 3 -1.2 3 -2.2 3 -2.3 1.8 -3 0.9 -3-0.2 -6-2.5 -6-5.4 -5-7.3 -3.1-8.3 -0.4-9 0.5-3 1.4-3 1.6-2z"/><path fill="#ff9200" d="M215 280.3l3-0.8 3 0.3 6 2.9 5.1 4.8 5.6 9 2.5 8 0.5 4 -0.2 3 -0.8 3 -1.7 3 -2 2.2 -2 1.2 -2 0.5 -3-0.1 -3-1 -3.2-1.8 -2.8-2.2 -3.6-3.8 -4.4-7 -2.7-8 -0.2-8 0.6-3 1.3-2.6 2-2.4z"/><path fill="#ff8400" d="M215 281.1l3-0.8 2.8 0.2 3.2 1.2 3 1.8 5 4.8 5 8.2 2.6 8 0.4 6 -0.7 3 -1.3 2.8 -2 2.4 -2 1.4 -2 0.6 -3-0.2 -3-1 -3-1.7 -5.8-5.3 -4.2-6.4 -2.8-7.6 -0.5-8 1.3-5.2 2-2.8z"/><path fill="#ff7600" d="M216 281.5l2-0.5 3 0.3 3 1.1 3 1.9 5 5 4.3 7.2 2.6 8 0.4 6 -1.7 5 -1.6 2.1 -2 1.6 -2 0.7 -3-0.1 -5.3-2.3 -5.7-5.1 -4.6-6.9 -2.8-8 -0.1-8 0.5-2.3 1.4-2.7 1.6-1.8z"/><path fill="#ff6800" d="M216 282.4l2-0.5 3 0.2 3 1.1 3 1.9 4.4 4.4 4.2 7 2.4 7 0.7 4 -0.1 3 -1.6 4.5 -2 2.5 -1.5 1 -2.5 0.6 -2-0.2 -5.5-2.4 -5.5-5.1 -3.8-5.9 -2.9-8 -0.2-7 0.6-3 1-2 1.3-1.7z"/><path fill="#ff5a00" d="M216 283.5l2-0.7 2 0 3 0.8 3 1.7 4.5 4.2 4.4 7 2.2 6 0.8 7 -0.6 3 -1 2 -1.6 2 -1.7 1.2 -2 0.5 -2-0.2 -5-2.1 -5-4.4 -4.1-6 -2.6-7 -0.5-7 1.2-4.8z"/><path fill="#ff4c00" d="M216.5 284.5l2.5-0.7 2 0.2 5 2.3 4 3.8 4 6.3 2.2 6.1 0.9 6 -1.1 4.6 -3 3.4 -3 0.6 -5-1.7 -5-4 -4-5.6 -2.9-7.3 -0.5-5 0.4-4 0.7-2 1.3-1.8z"/><path fill="#ff3e00" d="M217 285.8l2-0.7 2 0.1 5 2.3 4 4 3 4.8 2.3 6.2 0.8 6 -1.1 4 -1.6 2 -1.4 1 -2 0.4 -2-0.3 -4-2 -4-3.5 -3.2-4.6 -2.5-6 -0.7-5 0.6-5 1-2z"/><path fill="#ff3100" d="M218 287.2l3-0.5 4.4 1.8 3.6 3.3 3 4.7 2 5 1 6 -1 3.9 -2 2.2 -3 0.6 -4-1.3 -4-3.3 -3-4.1 -2.6-6 -0.7-5 0.3-2.9 0.7-2.1z"/><path fill="#ff2300" d="M219 289l3-0.3 3.9 1.8 2.1 2 3 4.5 2 5.1 0.6 4.4 -0.6 3.1 -2 2.2 -3 0.5 -3-1.1 -3.4-2.7 -2.8-4 -2.1-5 -0.7-4 0.7-4 1.3-1.9z"/><path fill="#ff1500" d="M220 291l2-0.3 3 1.1 2.8 2.7 2.2 3.6 1.4 3.4 0.6 4 -0.7 3 -1.3 1.3 -2 0.5 -3-0.9 -3-2.7 -2-3 -2-4.8 -0.4-3.4 0.8-3z"/><path fill="#ff0700" d="M221 293.5l2-0.2 2 1 3 3.9 1.4 3.3 0.6 3 -0.5 2 -0.9 1 -1.6 0.3 -2-0.9 -3-3.5 -2.3-5.9 0.3-2.9z"/></g>
<clipPath id="r1"><rect x="307.3" y="7.5" width="189.2" height="568.3"/></clipPath><clipPath id="c1" clip-path="url(#r1)"><path clip-rule="evenodd" d="M406.3 4.8l7.4 0.7 1.5 8 3.1 0.6 0.8 3.4 1.1 1 0.1 3 1 2 -1 1.8 -1.5-0.8 -1.5-2.3 -1 0 -0.3 1.3 1.5 6 8.1 19 2.8 8 -0.2 4 1 1 -0.3 3 0.7 1 0.1 3 4.9 19 -0.3 3 -1.4 3 0.7 2 0.7 15 2.8 18 1.2 2 -1.4 9 4.7 22 -0.6 6 1.8 7 6.5 13.3 1.1 3.7 -0.1 1.2 -1 0 -2-1.9 -1 0 0.1 5.7 -1.1 0.5 -6-6.6 -0.5 1.1 2.5 14.1 2.5 7.9 2.5 4.1 3 1.3 2 2.1 1 0.3 2-1 2 0.6 3-1.3 4 5.7 5 9.7 2 2 0.3-1.5 -3.3-11 0-3 4 5 1 0.2 1-5.2 3.6 6 3.4 4.3 1-4.7 1 0 4 4.4 1-0.3 2-9.2 1 0.2 4 3.8 1.5-4.5 0.5-0.6 2-0.4 0.5 7 -0.8 9 0.8 9 -0.5 17.1 -1.9-3.1 -1.1-0.7 -3.2-0.3 -1.8 1 1 4 2 4.2 1.7 1.8 3.3 1.5 0.6 4.5 -0.1 22 -0.5 5.1 -3-3 -1 0.6 -0.3 2.3 0.9 3 3.4 2.3 0.6 17.7 -1.1 10 0.9 6 0.1 15 -0.5 4 -1.2-1 -1.8-0.2 -1.1 1.2 -0.6 3 0.8 5 0.9 1.6 3 0.8 0.4 2.6 -0.4 7.4 -1 0.2 -0.8 1.4 -0.7 3 0.5 3 2 4.6 0.5 4.4 -0.2 33 -0.3 4 -1.2 2 1.2 2.5 0.1 5.5 -0.1 1.3 -3 2.8 -0.9-2.1 0.1-5 -1.2-3.6 -0.5 0.6 -0.4 4 -2 3 0.9 4.2 3 8.1 2 2.5 1-2.3 1-0.4 0.4 19.9 -0.4 8.6 -0.9 1.4 1.3 7 -0.4 14.4 -2 0.5 -2-1.1 -1.1 1.2 0.1 1.3 1 0.9 2 0.6 2 3.2 0 6.2 -0.6 3.8 0.7 6 -0.1 5 -1 0.2 -3-1.4 -1.1 0.2 -0.7 5 0.9 4 -1.1 7 1 4 3.3 3 1.4 6 -1.7 3.7 -5.5 4.3 -0.9 2 0 3 -1.6 0.4 -29 0.5 -154 0.1 -1-1 0.2-385 0.8-11.8 1 1.3 3.4 8.5 1.6 1.5 1-1.5 -2-6.1 -5-10.1 -0.4-8.8 0.4-1.4 1 1.5 6 13 3 3.6 1-0.9 0.3-3.8 -2.5-14 0.2-1.1 1-0.2 2 0.9 0.9-5.6 1.1-1.3 1 0.4 6.7 8.9 0.3 1.3 0.6-0.3 -1-8 0.4-1.8 5 5.2 4 5.2 1 0.6 2-0.4 4 2.8 1 0.2 0.9-1.8 0.1-2 -2.1-10 -0.3-4 0.4-1.2 1-0.5 3.5-0.3 1.5-2 3 3.1 3 2.1 5 8.3 1 0.4 0.7-12.9 -1.9-14 0.2-3.8 1-2.2 1 0.6 4 9.4 1 1.3 1-2.6 1-0.8 4 3.6 1 0.1 0.9-0.6 -0.7-8 0.8-1.5 2.4-0.5 -0.1-7 0.5-1 4.2 5.7 1 0.3 2-1 0-3 -1.9-5 -4.1-6.4 -3-2.8 -1-1.9 -0.6-3.9 0.6-1 1-0.5 6 1.7 6 8.6 1 0.2 -0.3-4 -2.7-7.3 0.2-6.7 -2.5-9 0.3-0.9 1 0.3 3 3.1 1.1 0.5 -0.5-13 0.4-3.6 1.6-3.4 0.4-2 1.2-1 1.9-4 -0.7-8 -2-8 0.6-1.8 1 0.7 1-0.9 0.8-3 -0.2-7 -1.6-9 1.6-2 -0.1-2 -2.3-12 1.2-4zM328.3 166.8l-0.4 0.7 0.4 2 1 2.3 0.1-2.3zM490.6 290.5l-0.2 1 0.9 1.9 2 1.2 0.1-2.1 -0.5-1 -1.6-1.3zM493.3 495.6l-1 0.4 -0.2 2.5 1.2 3.7 1 0.5 0.9-1.2 0.4-2 -0.6-2z"/></clipPath><g clip-path="url(#c1)" fill-rule="evenodd"><rect x="307.3" y="7.5" width="189.2" height="568.3" fill="#0000e2"/><path fill="#0000f0" d="M390.4 5.5l30.8 0 1.1 9 4 17.2 3 10.4 3 6.2 2 1.7 11 3.9 9 4.2 8 4.9 7 5.3 6.8 6.2 6.6 7 15.6 20.8 0 93.3 -6.5 3.9 -21.5 11.4 -6 4.5 -0.7 2.1 1 2 2.4 2 6.1 3 4.2 0.9 10.9-0.9 7.1-5.1 3-1.3 0 352.2 -0.8 7.2 -192.4 0 0.2-441.4 4.4-13.6 7.8-16 6.4-10 12.7-16 10.7-10.5 10-7.7 12-6.7 14-5.3 2-2 2-6.7 0.7-4.1 0.7-10 1.2-7z"/><path fill="#0000fa" d="M392.7 5.5l26.2 0 0.4 6.5 5 24.5 9.6 38 3.7 22 3 23 0.7 8.3 2 12.5 3.7 17.2 3.9 41 2.4 10.2 1.7 4.8 2.2 3 6.3 6 6.5 3 5.3 1.7 13-0.7 2.2-1 4.8-3.4 3-0.9 0 332.2 -2.7 24.1 -190.5 0 0.2-414.5 5.2-1.5 12.2-5 22.4-10 15.4-10 10.8-10.1 7-9 2-6.3 4-18.6 3-18.5 3.9-34.5 0.3-11 1-8z"/><path fill="#0005ff" d="M393.9 5.5l23.8 0 0.4 7 4.2 20.9 10.2 42.1 3.4 21 2.6 23 1.8 23 5 37.2 3.1 18.8 4.9 15 2 3.1 7 6.7 4.3 2.2 7.7 2.9 3 0.3 11-0.8 2-0.7 6-3.5 1-0.1 1 0.7 0 311.8 -0.3 8.4 -3.7 33 -189.1 0 0.1-413.1 6.4-1.9 31.2-13 15.3-9 4.1-3 10.8-10 7.2-9.5 2-7 4-20.1 2.5-17.4 3.6-33 0.4-12 0.9-8z"/><path fill="#0010ff" d="M394.9 5.5l21.8 0 0.4 7 4.2 21.1 10.2 41.9 3.4 21 2.5 23 1.7 23 4.2 32.1 4 24 5 15.1 2.5 3.8 6.5 6.3 3 1.8 8 3.3 5 0.9 11-0.7 2.2-0.6 3.8-2.1 2-0.4 1 0.9 0.4 1.6 -0.1 17 0.7 7.7 0 265.3 -1.2 25 -3.8 34 -188.1 0 0.1-412.1 6-1.7 32-13.2 15.3-9 4.2-3 10.8-10 7.7-10 2-7 4-20.3 2.5-17.7 3.6-33 0.3-11 1-8z"/><path fill="#001bff" d="M395.9 5.5l19.8 0 0.4 7 4.2 20.7 10.3 42.3 3.4 21 2.6 23 1.6 23 4.3 32 4 24 4.8 15 3 4.7 6.4 6.3 3.6 2.2 7 3 5 1.2 11-0.5 3-0.4 4-1.5 1 0.1 1.1 1.9 -0.1 16 0.8 9 0.3 31 0.9 8.3 -0.4 39.7 0.4 84.4 -0.9 9.6 0 21 0.9 49 -2.2 45 -3.7 34 -187.2 0 0.1-411.2 6-1.6 31.8-13.2 15.5-9 4.7-3.3 10.5-9.7 7.9-10 1.5-4 5.1-25 2.3-16 3.7-34 0.3-11 1-8z"/><path fill="#0025ff" d="M396.8 5.5l18 0 0.4 7 6.7 32 7.9 31 4.8 32 2.9 35 4.4 33 4.1 24 5 15 2.6 4 6.7 6.8 3 1.9 10 4.3 3 0.6 12-0.4 5-0.6 1 0.5 0.7 1.9 -0.1 13 0.7 9 0.5 31 1 11 -0.7 37 0.6 82 -0.9 11 -0.1 23 1.1 48 -1.9 44 -3.8 35 -186.2 0 0.1-410.4 6-1.5 33-13.8 15-8.9 4.7-3.4 10.9-10 7.7-10 1.7-5.3 4.4-21.7 2.7-18 3.7-34 0.4-11 1-8z"/><path fill="#0030ff" d="M413.9 5.5l0.6 8 4.1 20 10.4 42 3.5 21 1.4 11 3 35 4.4 33 4 23.8 4 12.7 2 4.5 2 2.7 6 6.3 4 2.8 11 4.7 3 0.4 14 0 1 0.4 1 1.7 -0.2 12 0.7 8 0.8 32 0.9 10 -1.2 36 1.1 82 -0.9 12 -0.1 24 1.4 47 -1.6 44 -3.7 35 -185.2 0.1 0-409.7 7-1.9 29.9-12.5 6.1-3 12-7.4 4-2.9 11-10.2 7-8.8 1.9-3.7 5.4-26 2.5-17 3.9-34 0.3-11 1.1-8 0.3-16z"/><path fill="#003bff" d="M412.9 5.5l0.6 8 6.9 32 7.7 29 2.6 15 3.8 30 1.8 23.1 4.4 32.9 3.8 23 1.8 6.5 3 8.8 1.8 3.7 9.2 10 12 6.4 5 1.2 7 0.2 4 0.6 1.5 0.6 0.8 2 -0.9 8 -0.1 4 2.2 23 1.6 28 -1.1 16.4 -2.8 15.6 1.7 16 1.5 34 0.3 33 -0.7 10 -0.5 29 2.5 43 -0.5 30 -0.7 14 -3.7 35 -184.1 0.1 0-408.9 3-0.5 4-1.3 31-13.1 5-2.5 16-10.3 11.4-10.5 7.2-9 1.9-4 5.5-26 2.6-17 3.9-34 0.4-10 1.1-9 0.4-16z"/><path fill="#0046ff" d="M411.9 5.5l0.9 10 6.2 28 8.3 31.2 3.8 21.8 2.9 24 1.8 23 4.5 33 4.4 25 5.1 15 2.5 3.7 5 5.7 5 4.3 8 4.6 7.6 3.7 0.8 1 0.7 11 6.5 23 1.8 10 1.2 11 -0.3 11 -1.8 9 -5 15 -0.5 3 2.6 17 0.4 10 2.9 27 0.5 28 -0.6 15 -0.7 9 -1.6 10 -0.5 10 2 13.4 5 21.4 0.6 5.2 0.5 14 -0.6 30 -3.6 35 -182.9 0.1 0-408 3-0.5 4-1.3 32-13.7 5-2.6 12-7.5 4-3 11-10.2 7.4-9.3 1.8-4 5.5-26 2.7-17 4.1-34 0.4-10 1-8 0.6-17z"/><path fill="#004fff" d="M410.5 5.5l1 10 6.7 29 8.2 30 4 22 2.9 24 2 23 4.4 33 4.4 25 4.2 13.1 2.6 4.9 7.4 8.9 9.1 7.1 2.6 3 2.3 11.1 8.4 24.9 2 10 1.1 10 -0.3 10 -1.8 9 -5 15 -0.7 4 2.7 17 0.5 11 2.9 28 0.2 25 -0.7 15 -1 9 -2.6 15 -0.4 7 0.8 18 1.3 9 2.6 10.2 6.4 15.8 1.5 14 -0.1 16 -3.5 35 -181.3 0.1 0-407.1 3-0.4 4-1.3 32-13.8 5-2.7 16-10.4 11.2-10.4 7.9-10 1.8-4 5.4-25 2.8-17 4.3-34 0.6-11 1.2-9 0.6-16z"/><path fill="#0058ff" d="M408.5 5.5l1.3 10 7.1 29 8.6 30 4.1 22 3.1 24 2 23 4.5 33 4.3 25 4.1 13 1.7 3.8 8 10.6 5.3 5.6 1.7 3 2.8 11 5.9 15 3.8 11 1.8 8 1.3 9 0.2 9 -0.6 6 -1.6 7 -5.1 15 -0.7 4 2.9 17 0.5 11 2.7 24 0.3 28 -1 18 -4.2 24 -0.7 25 0.7 14 1.9 14 2.1 8 7 20.7 1.4 6.3 0.3 8 -0.5 9 -2.2 18 -178 0.1 0-406 7-1.7 32-14.1 5-2.6 13-8.2 4-3.1 11.1-10.4 7.8-10 1.4-3 5.8-26 2.9-17 4.6-34 0.8-11 1.3-8 1.1-17z"/><path fill="#0060ff" d="M407.3 22.3l2 3.4 3 8.8 12 39.6 2 9.4 4.3 25 3.5 35 4.5 33 4.4 25 5.3 16.4 10.9 16.6 4.3 14 6.7 16 3.5 10 2 8 1.4 10 0.2 8 -0.7 6 -1.7 7 -4.8 14 -0.9 5 3 18 0.4 10 2.7 24 0.3 27 -1.2 19 -4.6 25 -1.7 31 -0.1 22 3.1 34 -0.2 10 -1 8 -4.6 17 -160 0 0-404.5 4-0.8 4-1.4 36-16.6 13-8.3 4-3.1 12-11.3 7.1-9 1.6-3 6.4-28 4.5-26 5.4-35.9 2-5.9 1-1.5z"/><path fill="#0069ff" d="M410.3 47.2l2 1.1 1 1.2 4 8.1 6 17.6 2 8.9 4.4 24.4 3.8 35 4.6 33 4.6 26 4.6 14.8 7.6 13.2 2.4 9 3 8.2 10.3 24.8 2.3 8 2 13 0 8 -1.1 7 -6.1 19 -0.9 5 3.1 18 0.5 11 2.6 23 0.3 29 -1.6 19 -3.9 18 -0.8 6 -4 48 -1.1 32 -2 16 -3.8 16 -3.3 9 -147.5 0 0-402.2 7-2.1 37-18 16-10.6 14.7-14.1 6.2-8 1.9-4 5.9-25 6.3-33 3-10.3 2-2.6 2-0.6z"/><path fill="#0072ff" d="M409.3 61l2 1.1 7 7.9 3 5.7 2 6.6 3.6 15.2 1.9 11 4.1 35 4.6 33 4.4 25 4.7 16 6 12 2.7 12 10.5 24 3.1 8 2.2 8 1.8 12 0.1 8 -0.9 6 -1.6 6 -4.5 13 -1.2 6 3.1 18 0.5 11 2.7 24 0.2 27 -1 15 -1.2 8 -3.8 17 -1.6 18 -7.4 62 -2.2 13 -4.6 19 -4.4 13 -139.8 0 0-373.2 7.1-13.8 6.1-14 2.8-4 9.1-6 17.9-9.4 16-10.6 14.1-13 7.3-9 2-3 1.2-3 11.6-46 1.8-4.1 3.3-4.9 1.7-1.9z"/><path fill="#007bff" d="M409.3 71.1l2 2.2 4 8.2 1 1.1 4 2.6 1 1.3 2 4.2 2 6.4 4.3 23.4 2.6 22 4.8 34 4.3 25 4.5 16 4.3 10 2.6 13 11.3 25 3.8 10 2 8 1.4 10 0.2 7 -0.8 6 -1.9 7 -4.5 13 -1.1 6 3.2 19 0.4 10 2.8 25 0.1 26 -0.9 14 -1.2 8 -3.9 17 -1.8 18 -3 21 -7.1 43 -2.2 10 -4.5 17 -5.6 17 -134.1 0 0-336.7 4.1-9.3 18.9-37 6-14.6 2.8-11.4 0.9-2 3.1-3 10.2-6.6 15-10.8 13-12.3 7.5-9.3 1.9-3 1.1-3 4.5-16.7 4-12.5 2-4 3-4.5 4-8.6 1-1z"/><path fill="#0084ff" d="M409.3 80.6l2 2.8 4 10.8 2 2.4 5 2.6 2 3.8 2 6 2.5 12.5 7.7 56 4.4 25 4.1 15 2.9 8 1.4 9 1.5 6 12 26 4 11 1.7 7 1.4 10 0 7 -1 6 -6.2 19 -1.2 6 3.4 19 0.4 10.7 2.7 24.3 0.1 26 -1 15 -1.1 7 -3.9 16 -2 19 -3.4 21 -7.7 39 -2.9 12 -5.1 18 -6.3 18 -129.3 0 -0.1-302.3 5-11.1 9.5-23.6 18.5-36.1 6.1-13.9 4.2-12 2.1-14 0.8-3 4-5 11.8-9.6 12-11.7 8.7-10.7 2.6-5 5.7-17 2-3.4 4-4.2 5-12.7 1-1.4z"/><path fill="#008dff" d="M409.3 89.8l1 1.1 5 14.4 2 2.5 4 1.8 2 1.4 2 3.9 1.8 5.6 5 29 3.8 28 3.8 22 6.4 25 2 12 2.2 6.8 10.6 22.2 3.6 9 2.3 8 1.6 11 0.2 7 -0.9 6 -1.9 7 -4.5 13 -1.1 6 3.4 19 0.4 11 2.6 23 0.2 28 -1.4 16 -4.9 22 -1.8 17 -3.6 21 -8.4 38 -3 11 -6.1 20 -7.2 19 -108.5 0 -8.2-12 -8.4-16.6 0-230 4.8-22.4 3.6-13 6.6-15 9.2-23 19.8-38.7 8-19.2 2.7-10.1 2.6-19 1-4 2.9-4 8.1-9 7.1-7 7.8-10 6.8-13.4 5-3.7 1-1.4 5-14.3 1-1.6z"/><path fill="#0099ff" d="M409.3 98.9l1.9 3.6 2.1 7.2 2 5 2 2.1 6 3.6 2 2.8 3 10.5 3.1 15.8 5.7 39 2.5 14 4.7 20 2 13 2.6 8 12.8 27 2.8 8 1.6 7 1.4 10 -0.4 8 -1.6 7 -5.2 15.3 -1.3 6.7 3.4 19 0.4 11 2.7 24 0.2 26 -1.4 16 -1 6 -3.9 16 -2.2 19 -3.7 20 -9 37 -9.2 29.2 -5.8 14.8 -3.2 7 -89.3 0 -7.4-8 -6.1-9 -13.1-26 -5.1-11.2 0-171.9 16.4-64.9 6.7-15 9.2-23 19.7-38.5 8.4-20.5 2.7-10 2.8-21 2.2-9 4-7 7-8 9.9-12.8 2-2 4-2.4 2-2 2-4.5 3-9.8 1-1.8z"/><path fill="#00a5ff" d="M409.3 107.9l1 1.3 4 11.3 2 2.5 4 2.6 3 2.8 2 3.1 2 5.2 3.4 13.8 4 28 4 23 2.9 13 3.4 21 2.6 8 12.5 26 3.3 9 1.6 7 1.4 10 -0.2 7 -1.8 8 -5.2 15 -1.3 7 3.5 20 0.3 10 2.8 25 0.1 25 -1.2 15 -1.2 7 -4 16 -2.1 18 -4 21 -9.4 36 -9.9 29 -6.4 15 -4.5 8 -71.6 0 -12-12.1 -3.7-4.9 -3.8-6 -12.5-25 -6.4-14 -3-8 -3.6-13 0-114.5 8.4-36.5 6-23 1.9-10 5.3-20 7.4-16.9 8.8-22.1 20.2-39.6 7.7-18.4 3.3-11.7 3.3-23.3 2.1-8 4.1-8 8.4-11 3.8-4 5.3-3.9 2-2.3 4-11.2 1-1.9z"/><path fill="#00b2ff" d="M409.3 116.7l1 1.2 2.3 5.6 1.7 2.9 6 5.1 3.2 4 2.8 5.2 3 7.8 2 9.8 2.6 20.2 6.4 34.6 2 15.4 1.2 6 2.8 9 13.1 27 3.3 9 1.3 6 1.4 10 -0.2 7 -1.5 7 -5.5 16 -1.3 7 0.2 3 3.3 17 0.4 10 2.7 25 0.1 24 -1.1 15 -1.4 8 -3.8 15.1 -2.2 17.9 -4.8 24 -4.5 17 -5.3 18 -3.9 11 -6.1 16 -5.2 11.4 -3 5.4 -5.4 7.2 -53.2 0 -5.4-3.7 -4.8-4.3 -8.9-9 -4.5-6 -3.4-6 -11-22 -9.1-21 -4-15 -1.3-15 -1-7 -5-16.6 0-44 2.8-14.4 7.1-31 3.7-19 5.6-23 1.5-9 5.6-21 6.7-15 8.7-22 20.3-39.7 8-19.2 3.2-11.1 3.4-24 1.1-5 1.5-4 3.3-6 7.7-10 8.8-8.7 4-8.8z"/><path fill="#00beff" d="M409.3 124.9l3.7 4.6 6.6 6 6.7 10 2 4 2 8.3 2.6 20.7 5.7 31 2.3 18 1.4 7 3 9.2 13.1 26.8 3.3 9 1.4 6 1.4 10 -0.3 7 -1.5 7 -5.5 16 -1.3 7 0.2 3 3.4 17 0.4 11 2.6 23 0.1 26 -1.1 14 -0.9 6 -4.3 17 -2.4 19 -4.9 23 -4.4 16 -6.7 21 -8.7 22 -5.4 11 -2.5 4.5 -3 4 -4 4.3 -3.8 3.2 -30.4 0 -8.8-3.8 -7.1-4.2 -4.9-4 -9-9 -6.3-9 -12.1-24 -7.9-18 -4.1-14 -2.8-23 -7.7-26 -1.4-9 0-6 1.2-12 10.4-52 3.3-19 5.1-23 1.5-10 4.9-19 6.9-15.8 8.8-22.2 20.2-39.5 8-19.2 3.3-11.3 3.6-25 0.9-4 1.5-4 2.7-5 8-10.3 6.9-6.7 3.1-4.3z"/><path fill="#00caff" d="M409.3 131l5 2.9 2.9 2.6 9.1 12.5 1.6 3.5 1.6 7 2.3 19 4.5 23.8 3.3 24.2 1.6 8 3.4 10 12.9 26 3.3 9 1.4 6 1.5 11 -0.4 6 -1.5 7 -5.5 16 -1.3 7 0.2 3 3.4 17 0.4 11 2.7 23 0.1 25 -2 20 -4.5 18 -2.3 18 -3.9 19 -5.9 21 -8.2 24 -8.3 19 -5.4 10 -3 4.4 -5 5 -5 3.5 -5 2 -6 0.6 -5-0.8 -6-1.8 -11-4.5 -6.2-3.4 -4.8-3.7 -8.5-8.3 -3.3-4 -3.2-4.9 -12.1-24.1 -8.2-19 -3.5-13 -1.7-15 -1.4-8 -7.7-24 -1.2-6 -0.5-7 0.8-11 3.6-22 6.1-32 2.9-19 4.6-23 1.1-9 2.1-10 2.5-9 6.9-16 9.2-23 19.5-38 8-19 4-13.9 3.2-23.1 2.3-8 2.8-5 8.7-11 5-4.1z"/><path fill="#00d6ff" d="M409.3 134.2l3 0.9 3.1 2.4 9.7 13 1.9 4 1.8 8 1.7 16 4.6 23 3.2 23.5 1.9 9.5 3.4 10 12.9 26 3.1 8 1.7 7 1.4 10 -0.1 6 -1.7 8 -5.5 16 -1.3 7 0.4 4 3.2 16 0.4 11 2.7 23 0.2 24 -1.2 15 -0.9 6 -4.5 18 -2.4 18 -5 23 -4.4 15 -6.8 20 -10.5 23 -8 12.9 -4 3.9 -5 3.3 -4 1.6 -5 0.7 -4-0.5 -6-1.6 -11-4.5 -6-3.2 -4.7-3.6 -8.1-8 -3.2-3.9 -2.5-4.1 -12-24 -7.8-18 -3.1-12 -2-15 -1.7-9 -8.4-25 -1.2-7 -0.2-5 0.7-10 8.6-52 2.5-19 4.2-23 1-10 1.6-9 2.8-10 6.6-15 9.1-23 19.8-38.7 8.1-19.3 3.9-13.9 3.3-23.1 2-7 2.8-5 7.9-10.2 4-3.2z"/><path fill="#00e3ff" d="M409.3 136.3l3 0.9 2 1.7 9.5 12.6 2 4 1.7 8 1.8 16 4.6 22 3.3 23 2 10 3.4 10 13 26 3 8 1.8 7 1.5 11 -0.2 5 -1.5 7 -5.7 17 -1.2 7 0.3 4 3.3 17 0.4 10 2.7 24 0.1 23 -1.9 20 -4.5 18 -2.5 18 -5 23 -3.9 12.9 -7.3 21.1 -3.9 9 -7 14 -7.8 11.8 -3 2.9 -5 3.2 -4 1.5 -4 0.4 -4-0.5 -5-1.4 -11-4.5 -5-2.7 -4.9-3.7 -7.1-7 -5.1-7 -12-24 -7.4-17 -3.2-12 -2.1-15 -1.9-9 -7.3-20 -1.8-6 -1-6 -0.2-5 0.5-8 7.8-53 2.2-19 3.5-22 0.9-10 1.6-10 2.4-9 7-16 8.7-22 20.4-40 7.8-19 3.5-12 1.8-10 1.7-14 1.9-7 2.7-5 7.9-10 2.7-2.3z"/><path fill="#00efff" d="M409.3 138.2l2 0.5 2.2 1.8 9.1 12 1.9 4 1.6 7 1.8 16 4.9 22 3.4 23 2 10 3.8 11 13 26 3.3 9 1.4 6 1.3 10 -0.2 5 -1.5 7 -5.5 16 -1.4 8 0.3 4 3.3 17 0.5 11 2.6 23 0.1 23 -1.9 19.5 -4.6 18.5 -2.4 17.5 -5 22.6 -4 13 -7.1 19.9 -4.4 10 -7.5 14 -7 9.9 -3 2.8 -4 2.4 -4 1.4 -3 0.3 -4-0.6 -5-1.5 -10-4.2 -5-2.7 -4-3.1 -6.7-6.7 -5-7 -11.4-23 -7-16 -3.3-12 -2.3-15 -2-9 -7.7-20 -1.8-6 -1.2-7 -0.1-5 2.8-26 4.5-32 1.8-19 3.4-23 0.6-10 1.5-10 2.1-8 15.6-38 20.2-39.8 8-19.3 4-13.9 3.2-22 1.8-7.1 2.7-4.9 7.9-10 2.4-1.9z"/><path fill="#00fbff" d="M409.3 140.2l1.2 0.3 1.8 1.4 9 11.6 1.8 4 1.5 7 1.9 15 5.3 23 3.3 22 1.8 9 4.1 12 11.3 22.3 4 9.8 2.3 8.9 1.5 12 -1.4 8 -6 18 -1.3 8 0.3 4 3.3 17 0.5 11 2.5 23 0 25 -1.7 17.1 -4.7 18.9 -2.3 16.8 -2.6 12.2 -3.2 13 -5.2 16 -6 15.6 -5 10.4 -7 12.1 -7 9 -5 3.5 -3 1.1 -3 0.5 -3-0.4 -5-1.5 -11-4.7 -4-2.3 -4-3.2 -5.1-5.1 -5.1-7 -10.9-22 -7-16 -3.4-12 -2.5-15 -2.2-9 -7.8-20 -2-6 -1.1-6 -0.2-6 2.4-25 4.1-32 1.5-18 3-23 0.5-10 1.4-10 2.3-9 15.5-38 19.8-39 8.2-20 3.7-13 3.7-23 2-7 2.2-4 7.2-9 1.8-1.7z"/><path fill="#00ffed" d="M409.3 143.6l2 1.3 7.3 8.6 2.7 5.1 1.4 5.9 2.5 16 5.4 22 3.6 23 2.2 10 3.4 10 12.5 25 3.1 8 1.9 7.2 1.5 10.8 -0.3 5 -1.3 6 -5.7 17 -1.2 8 0.4 5 3.2 17 0.4 10 2.5 23 0.1 22 -1.6 18.4 -4.7 19.6 -3.3 21 -5 20.8 -5 15 -9 21.5 -5 8.7 -5.9 9 -7.2 8 -3.9 2.1 -4 0.7 -7-1.9 -10-4.4 -4-2.3 -8-7.3 -5-7.3 -10.3-20.6 -6.7-15 -3.5-12 -2.8-15 -2.3-9 -9.6-25 -1.5-7 -0.3-5 2-24 3.6-32 1.4-18 2.8-24 0.5-10 1.3-10 2-8 15.4-38.7 19.7-39.3 7.7-19 4.2-14 4-22 1.6-6 3.6-6 6.2-7z"/><path fill="#00ffd4" d="M409.3 151.6l3 1.5 3.6 3.4 1.9 3 1.5 3.6 9.9 39.4 3.7 23 2.5 11 3.6 10 12.3 25.2 3 8.3 1.7 7.5 1.1 9 -0.4 5 -1.4 6.6 -5.3 16.4 -1.1 8 0.3 5 3.3 18 0.4 10 2.3 24 0 19 -1.9 20.9 -4.4 18.1 -3.1 19 -5.5 22 -5 14.3 -8 17.5 -6 9.5 -10.1 11.7 -4.9 3.8 -4 1.2 -4-0.8 -10-4.1 -4-2.4 -4.3-3.7 -5.6-7 -10.9-20 -5.2-11 -2-5.3 -3.2-10.7 -2.6-12 -3.4-12 -8.9-24 -1.6-7 -0.4-5 1.8-30 6-66 0.3-9 1.2-11 1.9-8 14.7-39 18.7-38 4.6-11 4.1-11 3.1-10 4.4-18 3.3-10.4 2-3.5 2-2.4 3-2.2z"/><path fill="#00ffbb" d="M409.3 159.6l2.2 0.9 2.8 3.2 2.6 4.8 3.4 8.4 7 23.7 4.3 25.9 2.3 10 3.5 10 11.9 24.9 2.8 8.1 1.6 7 1 10 -0.4 5 -1.2 6 -5.1 17 -0.9 8 0.2 5 3.2 20 2.2 33 0.1 18 -1.9 20 -4.2 19 -3.4 18 -5.4 21 -5.2 14 -7.4 14.4 -6 8.9 -6 6 -7 5.6 -3 1.7 -3 0.5 -4-1.1 -6-2.6 -4-2.8 -4-4.1 -2.5-3.5 -9.5-15.9 -6.4-13.1 -4.7-14 -2.8-11 -4-13 -7.6-21 -1.7-6 -1.1-7 0.2-20 2.4-39 1.8-19 1.6-27 1.2-11 1.9-9 7.1-22 6.1-16 20.2-43 6.6-18 8.5-26 2.9-6 2.8-4.4 2-1.9z"/><path fill="#00ffa2" d="M409.3 168.3l3 1.7 3 3.9 3 5.1 3 7.2 4.8 16.3 3.8 24 2.6 11 3.2 9 11.1 24 2.6 8 1.8 8 0.7 9 -0.6 7 -5.7 22 -0.7 7 0.2 7 2.2 13 1 9 1.6 30 0 18 -1.7 19 -6.9 33.6 -6.5 24.4 -4.5 11.8 -5.3 10.2 -4.7 7.1 -3 3.7 -4 3.4 -5 3.2 -6 3.1 -3 0.7 -3-0.6 -3.3-1.6 -3.7-2.9 -2.8-3.1 -10.6-16 -6.8-14 -3.8-11 -3.8-13 -8.8-25 -4.2-14 -0.9-7 -0.3-28 1.5-29 1.7-17 1.3-26 0.9-11 1.6-9 2.2-9 4.4-15 5.4-15 6-14 13-27.7 9.4-27.3 4.6-11.7 3-5.9 2-2.9 3-3z"/><path fill="#00ff89" d="M409.3 174.8l3 1.3 3 3.3 3 5 2.1 5.1 3.9 13 3.6 23 2.8 12 3.1 9 10.7 24 2.6 8 1.6 8 0.6 7 -0.7 9 -5.3 21 -0.7 7 0.2 8 3.1 24 1.1 29 -0.1 18 -1.3 16 -2.9 16 -7.6 32 -5.8 17.6 -3 6.6 -3 5.2 -5 7 -3 3.4 -3 2.2 -4 1.9 -5 1.7 -4 0.7 -3-0.7 -2-1.3 -3-3 -5-6.1 -6-9.2 -6-13 -6.7-20 -8.6-23 -4.6-16 -0.9-5 -0.7-8 -0.9-24 1-25 1.7-18 1-26 1-12 3-16 2.8-12 7.9-23 16.9-38 10.2-30 3.8-8 2.1-3.3 3-3.3z"/><path fill="#00fe70" d="M409.3 179.4l3 1.2 3 3.4 2.8 5.5 2.9 8 2.1 9 2.9 19 2.5 11 3.4 10 11 25 2.8 10 1.2 7 0.2 5 -1 11 -4.8 18 -0.8 5 0.1 11 2.9 25 0.6 39 -0.4 14 -1 9 -2.5 15 -8.4 33 -4.2 13 -4.1 9 -4.6 7 -5.6 6.2 -4 2 -7 1 -4-1 -3-2.1 -5-5.6 -4.4-6.5 -4.9-10 -7.9-22 -6.7-16 -2.9-9 -4.4-18 -1.9-18 -0.6-19 0.4-18 1.8-18 0.6-25 1.1-13 5.1-30 7.3-22 16.6-38 8.8-27 6-11 3-2.6z"/><path fill="#00fd59" d="M409.3 183.8l2 0.7 2 2 2 3.5 3 7.5 2 7.3 3.6 21.7 2.8 11 3.6 10 11.3 25 2.6 9 1.5 11 -1.1 12 -5.3 18 -0.8 5 0.2 12 2.7 25 0.1 28 -0.6 21 -3.6 25.2 -8 29.8 -6 18 -4 7.9 -5 6.6 -4 3.5 -4 0.8 -3.7-0.8 -3.3-2.1 -3.8-3.9 -4.2-6 -4-8.1 -8.1-20.9 -7.9-18 -2.3-7 -3.7-15.6 -2.3-13.4 -2-20 0-19 1.9-21 0.4-10 -0.1-14 1-14 2.9-26 1.8-8 5.8-18 17.2-38 8.4-26 5-8.9 2-2.1z"/><path fill="#00fd41" d="M409.3 196.3l1 0.4 1.5 1.8 2.5 5 3 9.9 3.4 14.1 4.4 13 14.8 31 3.1 10 1.7 11 -1.1 12 -1.6 6 -4.7 13 -0.6 4 0.2 12 2.7 28 -1.1 36 -0.8 9 -1.8 10 -4.6 18 -11 28 -8 16.3 -3 3.7 -2 1.1 -1 0 -2-0.9 -2-2 -4-6.1 -10.8-21.1 -6.4-11 -5.1-12 -5.8-20 -3-15 -1.7-14 -0.4-17 2.3-30 -0.4-13 0.8-8 0-8 1.4-24 1.8-11 4.8-15 4.9-11 14.3-27 9.3-22.1 3-4.4z"/><path fill="#00fc29" d="M408.3 213.1l1.2 0.4 1.8 2.4 10.3 23.6 11.7 21.3 5.4 10.7 3.3 10 1.6 8 0.3 4 -0.4 7 -0.9 5 -1.8 6 -5 12 -0.8 4 0.4 12 2.6 28 -1.3 27 -2.4 17 -3.4 12 -6.1 16 -13.5 24.4 -3 4.1 -2 1.1 -2-0.8 -2-2.2 -13.5-19.6 -5-9 -3.5-8.2 -5.5-15.8 -3.3-14 -1.9-13 -0.7-16 2-30 -0.2-12 0.9-9 -0.6-14 0.1-18 1.8-12 4-13 6.4-13.1 22-33.7 2-2.3z"/><path fill="#00fb12" d="M407.3 224.7l2 0.8 2 2.5 20 32 5.8 10.5 4.4 12 1.4 7 0.3 4 -0.4 8 -1.1 5 -2.1 6 -5.3 11 -1 4 3.2 39 -1.5 24 -2.5 15 -1.8 7 -3.1 8 -7.3 14.4 -11 15.6 -2 1.9 -2 0.6 -3-1.7 -6-6.5 -4-5.3 -4-6.5 -3.7-7.5 -4.9-12 -2.4-7 -2.2-9 -2-12 -0.9-15 1.7-30 -0.1-11 1.2-10 -1.9-21 -0.3-11 0.7-8 1-5 2.5-9 3.1-7 4.2-7.5 5-7.2 7-8.7 9-9.5z"/><path fill="#05fa00" d="M407.3 231.9l2 1 2 2.1 12 15.7 7 10.1 5.8 9.7 2.2 5 2.5 7 1.4 7 0.4 5 -0.4 7 -1.4 6 -2.9 7 -5.1 9 -0.9 3 3.2 40 -1.3 19 -2.3 14 -3.8 12 -5.4 10.2 -6 8.4 -6 7.3 -3 2.9 -3 1.1 -3-1.5 -4-4.3 -5-6.9 -4-7 -7.2-16.2 -2.1-7 -2.1-10 -1.7-19 1.5-29 0-10 1.5-12 -3.1-20 -0.8-12 0.7-9 1.7-7 1.8-6 2.8-5.7 5-8 6-7.2 10-9.5 3-1.9z"/><path fill="#16fb00" d="M406.3 237l2 0.6 2 1.5 11 11.9 8 10.5 5.1 8 2.7 5 2.7 7 1.9 8 0.4 5 -0.4 7 -1.8 7 -3.6 7.4 -5.1 7.6 -0.9 3 2.9 29 0.6 10 -1.2 17 -2.4 14 -4.4 12 -4.5 7.4 -4 4.9 -7 7 -4 3.3 -2 0.6 -3-1.2 -3-3 -4-5.1 -4-6.4 -6.4-13.5 -4-15 -1.1-8 -0.8-11 1.4-38 1.8-12 -4.3-20 -1.2-13 0.5-8 1.7-8 1.7-5 2.7-5.2 5-7.3 5-5.5 10-7.9 2-1.1z"/><path fill="#27fb00" d="M406.3 241.2l2 0.6 3 2.2 10 9.5 7 8.5 5.8 8.5 2.6 5 2.8 7 1.8 8 0.3 5 -0.5 7 -2.2 7 -3.6 6.6 -5.1 6.4 -1.3 3 3.2 30 0.4 10 -1.2 16 -2.4 13 -4.6 11.1 -4 6 -9 8 -4 2.7 -3 1.1 -2-0.4 -3-2.3 -4-4.8 -3-4.6 -5.9-11.8 -3.7-13 -1.6-12 -0.4-8 1.3-36 2.2-13 -5.6-20 -1.3-9 -0.3-5 0.4-7 1.5-7 1.7-5 2.9-5 4.8-6.5 5-4.9 9-5.7z"/><path fill="#39fc00" d="M405.3 244.7l2 0.2 3 1.5 10 8.2 7 7.9 5.8 8 2.9 5 2.8 7 1.9 8 0.4 5 -0.5 7 -2.3 7.2 -4 6.5 -5.8 6.3 -1.1 3 2.3 17 1.3 13 0.3 9 -1.3 16 -2.6 13 -4.1 8.9 -4 5.7 -3 2.6 -9 5.2 -3 0.7 -2-0.4 -3-2.3 -3-3.6 -4-6.4 -3.7-7.4 -3.4-12 -1.8-13 -0.2-10 1.3-30 2.4-12 0.1-3 -6.7-19 -1.8-10 -0.3-7 0.4-5 1.8-8 1.9-4.3 3-4.5 4-4.9 5-4.2 6-3.3z"/><path fill="#4afc00" d="M405.3 247.6l2 0.2 3 1.4 9 6.5 7 7.3 6 7.7 3 4.9 3 7.1 1.9 7.8 0.4 5 -0.7 8 -2.6 7 -4 5.7 -6.7 6.3 -0.8 2 2.9 18 1.3 13 0.2 8 -1.2 15 -2.7 13 -3 6.7 -5 6.8 -6 3.8 -7 2.2 -3-0.6 -2-1.5 -6.2-8.4 -3.4-7 -3.1-11 -2-15 0.4-21 1-16 2.7-11 0.3-3 -0.8-3 -3.5-7 -4-10 -1.9-9 -0.5-8 0.3-4 1.7-8 2-4.2 3-4.2 4-4.4 4-3.1 5-2.5z"/><path fill="#5bfd00" d="M405.3 250.1l2 0.2 3 1.3 8 5.1 7 6.6 6 7.3 3.2 4.9 3.1 7 1.9 7 0.7 6 -0.8 8 -2.7 7 -3.4 4.7 -8 6.3 -1.1 2 3.4 19 1.3 13 0.2 7 -1.1 14 -2.9 14 -2.8 5.8 -3 4.2 -2 2 -5 2.6 -6 1.3 -3-0.7 -2-1.4 -5.3-6.8 -4.1-9 -2.1-8 -1.9-14 0.5-24 1.2-13 3.1-11 0.2-3 -1.2-3 -4.4-7.5 -4.3-9.5 -2.1-9 -0.7-8 1-7 1-4 2-4 3.1-4.1 4-4 4-2.6 5-1.9z"/><path fill="#6dfe00" d="M404.3 252.2l5 1 9 5.1 7 6.4 5 5.9 4 5.9 3 6.8 1.9 7.2 0.5 5 -0.5 7 -1.2 4 -1.9 4 -3.8 4.6 -4 3 -4.4 2.4 -1.4 2 0.1 2 3.7 16 1.7 17 0 7 -0.8 9 -2.9 14.5 -2.3 5.5 -4.7 6 -4 2.2 -5 0.9 -3-0.5 -2-1.1 -5-5.4 -4-8.1 -2.1-8 -2-14 0.3-24 1.4-12 4-12 0.3-2 -0.7-2 -6.2-8.9 -4.8-9.1 -2.5-9 -0.8-8 1.5-10 1.9-4 2.7-3.7 4-3.9 4-2.5 4-1.4z"/><path fill="#7efe00" d="M403.3 254l5 0.6 8 3.8 6 4.8 5 5 5 6.2 3 5.6 2.4 6.5 1.5 8 -0.1 5 -0.7 4 -1.1 3.4 -2 3.7 -2 2.6 -3 2.5 -3 1.9 -5 1.9 -1.2 1 -0.4 1 0.3 3 3.5 12 1.3 8 1.3 16 -1.1 13 -2.5 12 -2.8 7 -4.4 5.1 -3 1.5 -3 0.5 -3-0.4 -2-1 -5-4.8 -3.6-6.9 -2.2-8 -2.2-14 0.3-23 1.7-12 2-6 3.1-7 0.1-2 -1.2-2 -7-8.3 -5.2-8.7 -3-9 -0.9-7 0.1-4 1-6 1.7-4 2-3 3.3-3.4 4-2.8 4-1.6z"/><path fill="#8fff00" d="M402.3 255.5l6 0.6 7 3 4 2.7 7 6.5 5 5.9 3.1 5.3 2.7 7 1.5 8 -0.5 8 -1.7 5 -2.1 3.4 -2 2.2 -3 2.2 -3 1.6 -6 1.7 -1.4 0.9 -0.4 1 0.5 3 4.2 13 1.2 6 1.5 14 -0.1 8 -2 14 -3.4 11 -1.8 3 -2.3 2.4 -2 1.4 -3 0.7 -3-0.5 -2-1.2 -3.1-2.8 -2.7-4 -1.8-4 -2.1-7 -2.3-12 0-21 1.4-11 2.6-8.6 4.5-8.4 0.3-2 -1.3-2 -8.5-8.4 -5.8-8.6 -3-8 -1.4-8 0.1-4 0.9-6 1.3-3 1.9-3 3-3.1 4-2.9 4-1.5z"/><path fill="#a1ff00" d="M401.3 256.7l6 0.4 7 2.7 4 2.5 7 6.1 5.3 6.1 3.5 6 2.4 6 1.6 8 0 5 -0.8 4 -2 4.7 -2 2.8 -3 2.6 -3 1.7 -3 1.1 -6.9 1.1 -1.5 1 -0.1 2 4.5 11.9 2.7 10.1 1.7 14 0 6 -1.4 11 -2 8 -3 7.6 -2 2.6 -2 1.7 -2 0.7 -3-0.4 -2-1.3 -2.9-2.9 -2.1-3.3 -4-10.7 -2.3-12 0.2-19 1.9-11 4.1-11 4.8-7 -1-2 -7.3-6 -4.4-4.5 -5.3-7.5 -1.7-3.2 -1.7-4.8 -1.5-8 0.7-9 1-3 1.9-3 2.7-3 3.9-2.8 3-1.3z"/><path fill="#b2ff00" d="M393.3 260.4l4-1.9 5-0.8 4 0.3 5 1.6 5 2.5 6 4.5 8.1 8.9 2.9 4.9 2.2 5.1 1.6 6 0.5 5 -0.5 5 -1.7 5 -2.1 3.3 -3 2.7 -4 2.1 -3 0.8 -6 0.2 -5-0.8 -5-2.8 -7-5 -5-5 -6.1-8.5 -2.1-5 -1.7-6 -0.4-6 0.5-5 1.3-4 2.9-4zM409.3 320l2 0.4 1.8 2.1 7 16 1.8 7 1.5 13 -0.2 5 -1.3 8 -2.6 8.7 -2 4.4 -2 3 -2 1.6 -2 0.4 -2-0.7 -2-1.6 -4-5.7 -4-10.4 -1.3-5.7 -0.3-4 0.3-16 2.1-9 1.2-3.5 5-10.5 1-1.3z"/><path fill="#c3ff00" d="M393.3 261.5l4-2 4-0.7 4 0.1 5 1.4 5 2.2 6 4.4 3.9 3.6 4.3 5 2.8 4.5 2.5 5.5 1.5 5.3 0.6 4.7 -0.3 5 -1.3 4.4 -2.1 3.6 -2.9 2.8 -4 2.1 -4 0.9 -5-0.1 -4-1.1 -5-2.2 -6-4 -4-3.6 -4.3-4.8 -3.5-5 -2-4 -1.9-6 -0.7-6 0.3-5 1.2-4 2.6-4zM409.3 331.2l2 0.5 2 1.7 3 4.1 2 3.8 2 6.2 1.4 11 -0.2 4 -1 6 -1.9 6 -3.3 5.9 -2 2.1 -2 0.7 -2-0.6 -2-1.6 -4-5.8 -2.7-6.7 -1.1-7 0-11 1.1-7 3.8-8 2.9-3.4z"/><path fill="#d4ff00" d="M393.3 262.6l4-2.1 4-0.8 4 0.1 5 1.4 5 2.4 5 3.5 4 3.6 4.2 4.8 2.8 4.2 2.7 5.8 1.5 5 0.7 5 -0.2 4 -1.1 4 -2.1 4 -2.5 2.5 -4 2.2 -4 0.9 -4-0.1 -4-1 -5-2 -5-3.1 -4-3.3 -5-5.2 -3.5-4.9 -2.2-4 -2-6 -0.7-5 0.1-5 1-4 2.3-4zM409.3 337.9l2 0.3 2 1.5 3.4 4.8 1.6 4.5 1.4 9.5 -0.4 5 -2 7.5 -3 4.6 -3 1.7 -3-1 -3.5-3.8 -2.4-5 -1.1-6 0.1-10 1.1-6 2.8-4.8 2-1.9z"/><path fill="#e5ff00" d="M394.3 263l4-1.9 4-0.6 4 0.4 4 1.2 5 2.4 5 3.5 3.8 3.5 3.4 4 2.9 4 2.5 5 1.6 5 0.9 5 -0.1 4 -0.9 4 -2.1 4 -2 2.2 -3 1.9 -4 1.3 -4 0.2 -4-0.9 -6-2.4 -4-2.5 -4-3.1 -5.4-5.7 -3.6-5 -2-4 -1.7-5 -0.8-5 0.2-5 1-4 2.3-3.8zM409.3 342.8l3 0.9 2.4 2.8 1.6 4 1.2 7 -0.2 5 -1.7 6 -2 3 -2.3 1.3 -3-0.7 -2-1.8 -2-3.8 -1-5 0-8 0.7-5 2.3-4.1z"/><path fill="#f6ff00" d="M394.3 264l4-2 4-0.7 4 0.4 4 1.3 4 1.8 6 4.2 3 2.7 4.1 4.8 2.7 4 2 4 1.7 5 0.9 5 -0.2 4 -1.1 4 -1.6 3 -2.5 2.7 -3 1.7 -4 1.1 -4-0.1 -4-1.1 -5-2.1 -4-2.5 -4-3.3 -5-5.4 -3.6-5 -1.9-4 -1.6-5 -0.5-4 0.1-5 0.7-3 2.3-4zM409.3 346.6l2 0.5 2 2.4 1.1 3 0.9 6 -0.4 4 -1.3 4 -1.3 1.9 -2 0.7 -2-0.8 -1.4-1.8 -1.1-3 -0.5-4 0.1-6 0.5-3 1.4-2.8z"/><path fill="#fff800" d="M394.3 265l3-1.8 4-1.1 3 0 4 0.9 4 1.6 4 2.3 5 3.8 3.6 3.8 3.4 4.4 2.1 3.6 2.1 5 1.3 5 0.2 4 -0.8 4 -1.8 4 -2.1 2.5 -3 1.9 -4 1.2 -3 0.1 -4-1 -5-1.9 -4-2.4 -4-3.2 -4.2-4.2 -5.5-8 -1.7-4 -1.2-5 -0.2-5 0.6-4 1.9-4zM410.3 352.8l1 1.8 0.6 3.9 -0.6 3 -1 1.1 -1.2-1.1 -0.6-4 0.8-4.6z"/><path fill="#ffe900" d="M395.3 265.2l3-1.6 4-0.8 3 0.2 5 1.5 4 1.9 5 3.5 3 2.7 6.2 7.9 2.1 4 1.8 5 0.8 4 -0.1 4 -1.1 4 -1.6 3 -2.1 2.3 -3 1.6 -4 1 -3-0.2 -5-1.5 -4-1.8 -4-2.6 -4-3.5 -3.8-4.3 -2.9-4 -2.2-4 -1.6-5 -0.6-4 0.2-5 0.9-3 1.7-3z"/><path fill="#ffdb00" d="M396.2 265.5l3.1-1.4 4-0.6 3 0.4 5 1.7 4 2.2 5 3.7 6.1 7 2.6 4 1.7 4 1.3 4 0.6 4 -0.2 3 -1.2 4 -1.8 3 -2.1 2 -3 1.4 -4 0.7 -3-0.4 -5-1.6 -4-2.1 -4-2.9 -6.7-7.1 -2.8-4 -2-4 -1.3-4 -0.6-4 0.2-5 1-3 1.9-3z"/><path fill="#ffcc00" d="M396.3 266.3l3-1.4 3-0.7 3 0.2 4 1.1 4 1.8 5 3.4 5.7 5.8 3 4 2.3 4 1.7 5 0.8 4 0 3 -1 4 -1.6 3 -1.9 2 -3 1.6 -3 0.7 -3-0.1 -4-1.1 -4-1.7 -4-2.6 -7.1-6.8 -5.3-8 -1.5-4 -0.7-4 0-5 0.7-3 1.7-3z"/><path fill="#ffbe00" d="M396.3 267.3l3-1.7 3-0.7 3 0.2 6 1.9 4 2.3 4 3 3.1 3.2 5.7 8 1.7 4 1.3 5 0 4 -0.7 3 -1.4 3 -1.7 2 -3 1.8 -3 0.8 -3-0.1 -4-1.1 -7-3.7 -4-3.3 -3.3-3.4 -5.3-8 -2.2-7 -0.3-4 0.6-4 1.5-3z"/><path fill="#ffaf00" d="M396.3 268.3l2-1.4 3-1.1 3-0.2 3 0.6 4 1.5 3 1.7 4.3 3.1 3 3 5.8 8 1.7 4 1.3 5 0 4 -0.7 3 -1.6 3 -1.8 1.9 -3 1.5 -3 0.5 -6-1.2 -3.8-1.7 -3.2-2.1 -6.5-5.9 -5.4-8 -2.3-7 -0.2-4 0.4-3 1.2-3z"/><path fill="#ffa100" d="M397.3 268.4l2-1.2 3-0.8 3 0 3 0.8 3.3 1.3 3.7 2.3 3.5 2.7 2.9 3 5.5 8 2.6 8 0.1 3 -0.6 3 -1.4 3 -1.7 2 -2.9 1.6 -3 0.6 -6-1.2 -3-1.3 -4-2.6 -6.5-6.1 -4.7-7 -1.3-3 -1-4 -0.2-4 0.4-3 1.4-3z"/><path fill="#ff9200" d="M397.3 269.4l2-1.4 3-0.9 3 0 3 0.7 6 3.1 4 3 2.6 2.6 5.7 8 1.6 4 0.9 4 0.1 3 -0.7 3 -1.2 2.6 -2 2.1 -2 1.1 -3 0.7 -6-1.2 -6.1-3.3 -6.6-6 -5.3-8 -1.8-6 -0.2-4 0.4-3 0.9-2z"/><path fill="#ff8400" d="M398.3 269.6l2-1.2 3-0.6 5 0.7 6 3.1 6 5.2 5.5 7.7 2.5 7 0.3 3 -0.5 3 -1.3 3 -1.5 1.7 -2 1.3 -3 0.7 -5-0.7 -6-3 -4-3.1 -3-3.1 -5-7.3 -2.2-6.5 0.2-6.3 1.2-2.7z"/><path fill="#ff7600" d="M398.4 270.5l1.9-1.2 3-0.8 5 0.8 6 3.1 5.8 5.1 5.2 7.3 2.3 6.7 0.2 3 -0.5 3 -1 2.3 -1.4 1.7 -1.6 1.1 -3 0.9 -5-0.8 -6-3 -6-5.2 -5-7.1 -2.3-5.9 -0.4-4 0.4-3 0.8-2z"/><path fill="#ff6800" d="M399.3 270.9l4-1.5 5 0.6 5 2.5 6 5.1 5 6.9 2.3 6 0.5 3 -0.3 3 -0.7 2 -1.8 2.4 -2 1.2 -2 0.5 -3-0.1 -3-0.9 -5.5-3.1 -5.5-5 -4.7-7 -2-6 -0.2-3 0.4-3 1-2z"/><path fill="#ff5a00" d="M400 271.5l2.3-1 2-0.3 5 1 5.5 3.3 4.5 4.2 4.8 6.8 2 6 0.2 3 -0.4 2 -0.8 2 -1.8 2 -2 1 -2 0.3 -5-1 -6-3.6 -4.9-4.7 -4.1-6.2 -2-5.8 0.2-5 0.8-2.1z"/><path fill="#ff4c00" d="M400.3 272.6l2-1.1 2-0.3 4 0.6 5 2.6 5 4.3 4.9 6.8 1.8 5 0.2 5 -0.9 2.3 -1.5 1.7 -1.5 0.9 -2 0.4 -5-0.9 -5.6-3.4 -4.3-4 -4.1-6 -1.9-5 -0.1-5.4 1-2.4z"/><path fill="#ff3e00" d="M401.2 273.5l3.1-1.2 2.8 0.2 2.2 0.7 5 2.9 3.6 3.4 4.3 6 1.6 4 0.5 5 -0.7 2 -1.3 1.8 -3 1.3 -2 0 -3-0.8 -5-2.9 -4-3.7 -4-5.8 -1.9-4.9 0-5z"/><path fill="#ff3100" d="M402.3 274.7l3-1.1 4 0.8 4 2.2 4 3.7 3.8 5.2 1.7 4 0.3 4 -0.6 2 -1.2 1.7 -3 1.1 -4-0.7 -4-2.2 -4.3-3.9 -3.7-5.3 -1.8-4.7 0-4z"/><path fill="#ff2300" d="M403.3 276.3l3-1.1 3 0.6 4 2.2 3 2.8 3.5 4.7 1.7 4 0 4 -1.2 2.1 -3 1.1 -3-0.5 -3.3-1.7 -3.7-3.2 -3.5-4.8 -1.7-4 -0.1-4z"/><path fill="#ff1500" d="M405.2 277.5l2.1-0.4 3 0.7 3 1.9 3 3.2 2.5 3.6 1.1 3 -0.1 3 -1.5 2 -2 0.4 -3-0.7 -3-1.9 -3-3.1 -2.5-3.7 -1.2-3 0.1-3z"/><path fill="#ff0700" d="M406.3 280.1l1-0.7 2 0.1 2 1 2.3 2 3.7 5.1 0.6 2.9 -0.6 1.4 -1 0.6 -2 0 -2-1 -3-2.6 -3.3-5.4 -0.3-2z"/></g>
<clipPath id="r2"><rect x="503.6" y="7.5" width="189.2" height="568.3"/></clipPath><clipPath id="c2" clip-path="url(#r2)"><path clip-rule="evenodd" d="M604.6 4.7l20 0.3 2.2 0.5 0.8 6.1 -0.9 0.9 -2.1 0.6 -0.4 1.4 0.7 12 -1.9 1 -0.5 1 -0.9 8 -1.1 2 1.5 12 -0.4 3 -1 0.7 -0.3 1.3 0.7 13 -0.4 1.5 -2.1 0.5 -0.3 2 1.3 7 0.9 2 1.8 12 1.3 4 0.4 4 0.7 1 0 3 -0.9 3 0.1 4 2.5 11 3.9 12 -0.6 2 -3.4 2 0.9 5 1.7 5 4.8 10.2 3.4 5.8 3.6 8.8 3 3.5 1 0.3 1-2.1 1 1 1.6 5.5 -0.7 3 0.7 1 -0.6 12.8 -3-1.9 -0.5 1.1 1.5 5.1 2 3 1 0.2 1-2.9 5 5.3 1-4.2 3 3.9 2-0.7 1 0.4 3 2.5 0.9-0.6 0.4-3 0.7-0.9 2 1 1.7-2.1 1.3-0.1 2.2 1.1 3.8 4.8 0.9-0.8 0-4 1.1-1.7 1 0.3 3 2.9 2-0.9 3.3 2.4 3.4 7 1.3 0.8 0.5-0.8 -2-5 -0.6-4 1.1 0.1 2 3.8 0 26.1 -4-3.9 -0.9 0.9 0.4 7 1.5 4.5 0 1.5 -3.8 5 -0.8 4 0.8 2 2.8 1.8 2-0.9 1.1 1.1 -3.1 0.4 -3 4.1 -1.1 2.5 -0.8 4 0.9 2 1 0.5 2 0.2 5-1.1 0.6 2.4 -0.6 30.4 -1 0.4 -2.1 8.2 0.4 2 2.7 3.6 0.4 2.4 0 27 -0.4 2.1 -1-0.1 -1 0.7 -2 3.9 -3.2 1.4 -1.1 3 0.3 1.4 1 1.2 5 1.3 2 1.2 0.2 6.9 -2.2 2.1 -0.8 1.9 1.7 4 -0.2 2 -2.8 3 -1 2 0.2 1 1.9 1.1 3-0.7 -0.3 5.6 0.3 7.2 -3 2.6 -2 0.5 -4-0.3 -0.7 1 -0.3 2 1 2.8 4 0.9 2.7 2.3 0 7 2.3 3.7 0.2 2.3 -0.2 2.1 -1 0.1 -4-2.1 -1 0.8 -1.2 3.1 -2.4 3 -0.9 2 0.2 2 2.3 2.4 1 0.3 2.4-1.7 1.6 0.8 1.8 3.2 0.4 2 -1.1 4 -3.1 2.6 -0.7 4.4 -2.7 2 -0.8 2 0.3 5 4.1 4 -1 2 -1.2 0.4 -2.7-0.4 -1.3-1 0.5 8 2.9 7 0.1 6 -0.5 1.8 -3-1.1 -0.4 1.3 1.4 5 4.6 6 -0.9 2 -2.7 3.1 -0.5 2.9 0.5 1.5 1 0.9 4-0.6 4 1.2 0 3.1 -2.3-0.1 -0.7 1.4 -0.4 3.6 0.2 2 2.5 4 0.6 2 0.4 13 -0.3 1.1 -4-0.4 -3.2 1.3 -1.4 1 -0.3 1 0.3 2 1.6 2.4 2 0.8 3 0.1 2 1.2 0 8.3 -2-0.7 -1.6 0.9 -2.5 7 0.1 1.2 1 0.9 3-1.5 2 1.6 0.4 2.8 -0.4 3.2 -22 0.6 -171 0.2 -1-1 0.5-442 0.5-2 3 4.7 1 0.3 0.8-1 1.2-5.6 2-0.7 1.2-1.7 1.8-9.1 2-5.4 2 3.7 4.5 13.8 1.2 2 1.5 1 0.8-5.4 1-1.3 4 5.1 0-2.5 -6.1-18.9 -0.2-3 0.3-0.6 1 0 3.6 7.6 2.4 3.1 3 1.3 0.1-1.4 -7.5-18 -0.9-8 0.3-3.7 1 0.3 2 2.9 7.1 12.5 3.3 7 1.8 6 1.5 13 2.3 5.1 2 2.2 0.4-1.3 -0.4-3.6 -2-8.3 -2.4-7.1 0-4 1.4-2.7 1 0.1 5 9.7 2 2.3 0.7-0.4 -0.2-6 0.5-2 -1-5 -2-4.1 0 6.7 -2-2.6 -2-6.2 -1.1-5.8 1.1-0.7 3 2.6 -0.6-7.9 0.6-1.6 2 2.3 4 7.3 1 1.2 0.7-1.2 0.4-6 -0.3-4 -1.3-7 -2.7-9 0.2-1.6 3.1 6.6 4.9 20 2 4.4 1 1.1 0.3-0.5 0-5 -1.8-8 0.5-1.6 2-0.8 0.4-3.6 -3.4-11.3 -0.3-2.7 0.3-0.7 4 8 0.9-0.3 -1.1-11 1.9 1 1.3 2.1 0.1-1.1 -2.6-12 0-4 0.5-0.9 2 1.2 2-0.1 3 3 0.6-0.2 0.3-1 -2-12 0.1-4 1-2.6 1.8-2.4 0.5-3 -0.1-3 0.8-2.3 2-1 -0.1-7.7 2.1-1.4 1.3-1.6 -1.1-9zM530.6 66.6l2 1.9 5.4 10 1.2 4 0 2 -0.6 1.3 -7.2-11.3 -1.3-5zM501.6 106.6l1 6.2 -1-0.1 -0.2-1.2zM687.6 292.1l-0.5 1.4 1.5 2.7 2 2.2 1 0.6 1-0.5 1.2-2 -0.2-3 -2-1.5zM684.6 350.4l-0.8 1.1 -0.2 2 1 1.8 1 0 0.7-0.8 0.1-2 -0.8-1.7zM687.6 371.9l-1 0.4 -0.4 2.2 0.4 1 1 0.2 1.2-1.2zM694.6 465.1l0.3 4.4 -0.3 1.2 -1-0.1 -1.5-1.1 -0.5-2 1-1.5z"/></clipPath><g clip-path="url(#c2)" fill-rule="evenodd"><rect x="503.6" y="7.5" width="189.2" height="568.3" fill="#0000e2"/><path fill="#0000f0" d="M577.4 5.5l52.2 0 -0.1 6 -1.9 22.1 0 2.9 1 4.4 2 2.4 11 6.5 9.7 7.7 8.3 8.8 6.7 9.2 4.4 8 3.5 8 5.2 16 6.9 16 4.8 17 1.1 9 -0.2 8 -1.2 6 -2.7 6 -3.7 5 -4.1 4 -5.3 4 -16.4 10.8 -1.3 1.2 -0.9 2 0.4 2 2.9 4 2.9 2.7 2 0.7 7.4-1.4 18.6-5.2 2-0.3 2 0.3 0 378.2 -193.2 0 0.2-463 4.6-3 3.7-4 4.3-14 3.8-9 5.6-10 6.6-9 7.4-7.7 7-5.9 9-5.9 10-5 2-1.9 2-3.5 3-7.3 6-17.9z"/><path fill="#0000fa" d="M579.9 5.5l47.4 0 -0.2 6 -3.3 25 0.2 14 -0.7 8 0.5 16 4.6 29 3.2 29.8 3 12.8 13.2 29.4 1.4 5 3.3 17 1.1 2.2 7 6.8 2 1.2 2 0.4 3.9-0.6 22.1-6 2-0.1 2 1 0 163.5 -0.5 7.6 0.4 80 -0.8 11 0.9 40.8 0 72.2 -193.2 0 0.2-459.3 4-1.4 9-5.6 17.4-8.7 12.6-7.6 11.2-5.4 2.8-2.4 1-2 3-10.6 5.4-26 10.6-35.7z"/><path fill="#0005ff" d="M581.1 5.5l44.9 0 -0.1 5 -3.3 25 0 14 -0.7 9 0.4 17 4.2 28 2.8 30 3.3 14.5 13.7 28.5 4.9 21 1.3 3 2.1 2.3 6 5.3 2 1 2 0.4 4-0.7 22-5.7 2.3 0.4 1.2 2 0.4 15 -0.4 19 0.2 53 -0.8 68 -0.9 11 0.4 82 -0.7 11 1.8 71 0.5 5 0 37 -193.2 0 0.2-458 5-1.7 9-5.5 15.8-7.8 14.2-8.3 9.9-4.7 4.2-3 1.5-3 2.4-8.7 5.6-27.3 10.5-36z"/><path fill="#0010ff" d="M582.1 5.5l42.9 0 -0.2 5 -3.2 25 0 14 -0.7 9 0.3 17 4.3 29 2.7 29 3.4 15 13.6 28 1.7 6 3.5 16 1.2 2.5 2 2.2 6 5.5 4 1.8 4-0.2 22-5.6 2.6 0.8 0.8 2 -0.1 87 -1.1 66 -0.8 11 0.6 82 -0.7 10 2.1 72 1.1 11 0.1 31 -192.7 0 0.1-457 5-1.6 10-6 15.1-7.4 14.9-8.7 9.2-4.3 3.3-2 1.9-2 1.6-4 3-11.5 5.4-26.5 10.3-35z"/><path fill="#001bff" d="M583 5.5l41.1 0 -0.2 5 -3.2 25 0.1 14 -0.8 9 0.4 17 4.3 29 2.7 29 3.2 14.8 13.7 28.2 1.5 5 3.7 17 1.1 2.5 2 2.5 7 6.4 4 1.8 5-0.4 19-4.8 3 0.4 1 1.6 0.1 12 -0.6 19 0.4 54 -1.8 68 -0.7 9 0.9 82 -0.6 10 2.7 74 1.1 10 0.1 31 -191.7 0 0.1-456.1 5-1.5 10-6 16.9-8.4 13.1-7.7 11-5.3 4-3.3 1.2-2.7 2.8-10 5.3-26 11.1-38z"/><path fill="#0025ff" d="M583.9 5.5l39.3 0 -0.2 5 -3.2 25 0.2 14 -0.7 8 0.3 18 4.3 29 2.7 29 3 14 2 5 12.3 25 4.8 21 1.2 3 1.7 2.2 8 7.5 4 1.6 5-0.2 18-4.3 2.2 0.2 0.8 0.7 0.5 1.3 -0.1 10 -1 18 0.9 30 -0.1 26 -1.9 35 -2 20 -0.4 19 2.2 84 -0.3 10 2.2 39.7 1.4 34.3 1.1 10 0.1 31 -190.7 0 0.1-455.3 5-1.4 10-6 16.7-8.3 13.3-7.9 12-5.8 3.7-3.3 1.4-3 3.2-12 5.3-26 10.7-36z"/><path fill="#0030ff" d="M584.8 5.5l37.5 0 -0.2 5 -3.1 25 0.2 14 -0.7 8 0.4 18 4.4 29 2.7 29 3.2 15 13.9 29 1.3 4 3.8 18 1.4 3 1.6 2 7.4 7.3 2 1.3 3 1 5 0 17-3.6 2 0.8 0.5 1.2 -0.5 7 -3.3 12 -0.5 4 3.7 32 0.1 22 -0.7 10 -1.3 8.2 -2.9 12.8 -8.3 23 -1.5 13 2.9 28 0.9 28 1.3 19 3.5 23 3.1 14.6 3 27.3 2.3 41.1 1 9 0.2 31 -189.6 0 0.1-454.4 3-0.6 3-1.2 9.3-5.8 15.7-7.8 14-8.2 12-5.9 4-3.3 1.8-3.8 3-11 5.1-25 11.3-38z"/><path fill="#003bff" d="M585.8 5.5l35.5 0 -0.2 5 -2.9 24 0.2 14 -0.7 9 0.5 18 4.5 30 2.7 28 2.9 14 2.3 5.8 7.7 15.2 4.5 10 4.6 21 1.8 4 8.4 8.9 4 2.7 5 1.1 9-0.2 2.7 0.5 -0.1 1 -3.2 4 -1.7 3 -0.8 3 -0.1 3 1.7 8 4 12 4.4 16 0.5 7 -0.3 18 -1.6 8 -5.8 20 -8.3 23 -1.6 14 2.9 29 1 38 2.2 32 1.3 7 3.6 13 6.2 13.9 2 6.6 1 5.4 1.5 13.1 1.6 24 1 8 0.2 31 -188.4 0 0.1-453.6 4-0.8 3-1.4 8.2-5.2 16.8-8.5 14-8.3 11-5.3 2.9-1.9 1.8-2 1.8-4 3.3-12 5.2-25 11.2-37z"/><path fill="#0046ff" d="M586.8 5.5l33.5 0 -3 29 0.3 14 -0.7 9 0.6 18 4.6 30 2.7 28 2.2 11 2.1 7 13 27 4.3 20 1.3 4 1.9 2.8 7 7.8 3 2.7 4 2.7 1.5 2 -0.4 7 0.9 5 7.6 20 4.6 16 0.3 17 -0.6 8 -7.3 26 -8 22 -1.5 11 -0.1 5 2.9 29 0.6 36 1.5 36.2 2.9 18.8 3.4 14 4.3 10 6.4 10.2 2 6 3.5 28.8 0.3 31 -186.9 0 0.1-452.7 4-0.8 3-1.3 10-6.2 15-7.6 14-8.3 12-6 2.9-2.1 1.7-2 1.7-4 3.3-12 5.4-25.4 11.3-36.6z"/><path fill="#004fff" d="M588.1 5.5l30.9 0 -2.7 29 0.4 14 -0.6 9 1.1 22 4.3 26 1.5 18 1.9 14 3.2 13 9.5 19.4 4.2 9.6 5 23 1.7 3 8.8 11 1.7 3 0.6 8 1.2 5 8.4 20 4.9 16 0.5 9 -0.6 15 -6.9 25 -8.4 23 -1.5 11 -0.2 6 2.9 30 0.5 35 0.8 24 -0.2 10 3.2 33 1.6 9 2.2 8 5.6 12.6 8 14 2 6.7 1.2 5.7 0.8 7.3 0.1 24.7 -184.2 0 0.1-451.7 4-0.7 3-1.3 10-6.3 16-8.2 14-8.4 11-5.5 2.8-1.9 2-2 1.9-4 3.4-12 5.9-26.6 11.5-36.4z"/><path fill="#0058ff" d="M617.2 5.5l-2.1 29 0.5 14 -0.4 9 0.8 18 4.8 30 3.2 31 3.4 14 9.3 19 4.3 10 4.8 23 1.5 3 5.1 7 1.9 4 1.3 10 1.2 5 10.1 23 3.8 12 0.9 5 0.1 16 -0.7 6 -6.9 24 -6.1 16 -2.2 7 -1.7 15 3 32 0.9 58 -0.3 10 1 14 0.9 25 1.4 12 2.6 11.6 4.6 15.4 3.3 17 0.3 10 -1.8 13 -0.9 4 -167.5 0.1 0-450.6 4-0.7 3-1.3 10.3-6.5 15.7-8.2 14.5-8.8 10.5-5.2 4.9-3.8 1.4-2 1.5-4 3.6-13 4.6-20.9 13.6-42.1 0.6-5z"/><path fill="#0060ff" d="M609.6 11.9l2 0.7 1 1.2 0.9 3.7 0.3 6 -0.4 11 1 14 -0.4 8 1.3 21 4.8 28 3 29 2.3 11 2.2 7 8.8 18 3.9 9 4.6 23 1.2 3 3.7 6 1.1 3 1.2 10 1.5 6.1 2.7 6.9 8 17 4 12 1 5 0.1 15 -0.6 6 -6.8 24 -8.4 23 -1.7 14 0 6 2.9 29 0.7 57 -0.5 9 0.8 15 -0.1 33 1.3 14 1.8 12 1 16 -0.2 7 -1.5 10 -1.8 8 -2.5 8 -152.2 0.1 0-449 4-0.8 4-1.8 9.9-6.5 16.1-8.6 13.5-8.4 11.5-5.9 4.1-3.1 2.1-3 1.4-4 3.5-12 3.9-17.3 3-10.4 7-19.3 6-13 2-2.7 2-0.8 6 0.1z"/><path fill="#0069ff" d="M606.6 36.1l2 0.7 1 0.9 1 1.8 1.4 6 2.4 33 5 27 3 29 2.8 13 1.8 5 8.6 17.8 3.9 9.2 4.1 22 4.2 11 1.4 10 1.7 7 2.7 7.3 9 18.7 3.6 11 1.1 5 0.1 15 -0.6 6 -6.9 24 -5.8 15 -2.5 7.9 -1.7 13.1 0.1 8 2.8 27 0.6 57 -0.6 10 0.6 14 -0.2 12 -1.1 22 1 26 -0.6 15 -1 7 -3.5 15 -4.3 12 -142.1 0 0-443.3 1.5-1.7 7.5-4.4 10.6-7.6 14.4-8.2 13.7-8.8 12.3-6.5 3-2.2 2-2.3 1.6-3 4-13 6.4-24.3 3-7.5 3-5.7 2-2.3 3-1.2 8-0.2z"/><path fill="#0072ff" d="M594.6 49.4l6 3.9 7 1.7 2 2.4 1 3 2.6 18.1 5.4 27 3.3 30 2.7 12 1.7 5 8.3 17.4 4.1 9.6 1.3 6 2.4 16 2.7 10 1 7 2.1 9 3.4 9.4 9.5 19.6 3.6 11 0.9 4 0.2 15 -0.7 6 -7 24 -5.5 14.2 -2.5 7.8 -1.8 13 0 9 2.7 27 0.6 57 -0.6 10 0.3 15 -0.3 11 -1.7 21 -0.2 24 -2.1 19 -4.7 18 -5.6 15 -135.1 0 0-394.7 19.5-49.3 4.8-11 3.8-4 20.3-14 11.6-6.3 4.6-3.7 3-5 7.4-23.5 3-7.7 3-3.4 5-1.6 5-3.6z"/><path fill="#007bff" d="M594.6 58.4l2 2.1 4 6.5 2 1.3 5 1.6 2 2.3 1 2.7 4 15.4 3 14.7 3.4 29.5 3.2 14 1.8 5 7.6 16 4.1 10 1.4 7 2.3 18 2.6 14 2.1 8 3.5 10 9.9 20 3.7 11 1 5 0.1 14 -0.8 6 -6.6 23 -8.3 22.6 -1.8 13.4 0 9 2.8 28 0.4 55 -0.7 10 0.3 15 -0.5 12 -2.2 21 -1 23 -2.3 16 -5.5 20 -6.8 17 -129.7 0 0-356.2 35.2-87.8 2.5-7 2.7-10 1.3-3 2.4-3 4.6-4 12.3-7.5 4.3-3.5 3.3-5 4.4-11.5 3-6.2 3-2.8 6-2.2 2-2.2 4-6.6 1-0.6z"/><path fill="#0084ff" d="M594.6 66.8l2 2.9 4 8.7 2 1.8 6 2.6 2 2.4 2 4.6 4 15.7 3.6 29 3 13 2 6 9.4 20.7 2.5 7.3 2.6 25 2.9 13.5 5 15.4 10.8 22.1 3.7 11 0.7 4 0.1 14 -0.8 6 -6.6 23 -8.1 22 -0.9 4 -1.1 10 0 9 2.8 28 0.4 55 -0.7 10 0.2 14 -0.7 13 -2.5 21 -1.6 22 -2.2 13 -1.6 7 -4.6 15 -3.4 9 -4.6 10 -125.3 0 0-322.1 4.9-14.9 12.1-29 29.7-75 2.8-8 5.1-20 3-4 6.4-5.3 3.7-3.7 5.3-8.6 2-2.3 3-1.8 5-1.9 2-1.3 2-3.2 4-8.9 1-0.8z"/><path fill="#008dff" d="M594.6 74.8l1.7 2.7 4.3 10.7 2 2 7 3.6 2 2.4 2 4.4 2 7.1 3.8 27.8 2.9 12 2 6 8.3 18.7 2.7 8.3 1.5 21 1.5 8 2.6 10 5.3 16 10.9 22 3.7 11 0.8 4 0.2 13 -0.7 6 -6.9 24 -5.5 14 -2.6 8 -1.9 13 0 10 2.8 28 0.3 56 -0.7 8 0.1 15 -0.7 12 -2.8 21 -2.5 25 -3.2 15 -4.5 14 -4.2 11 -5.7 12 -121.5 0 0-258.2 5.5-21.8 0.4-22 0.8-7 3.3-13 3.7-11 12.3-29.6 31.4-79.4 5.4-21 1.7-5 3.2-6 4.3-5.1 5-4.2 8-4.7 2-3.4 4-10.4 1-1z"/><path fill="#0099ff" d="M594.6 82.7l1 1.4 3 8.3 2 4 9 6.6 2.1 2.5 1.9 4.1 2 8.5 2.6 17.4 3.7 14 8.5 21 2.1 7 1.4 19 2.9 14 7.3 23 11.8 24 3.4 10 1.2 5 0.2 13 -0.7 6 -6.6 23 -5.8 14.7 -2.7 8.3 -1.8 13 0 10 2.8 28 0.2 56 -0.7 8 0.1 15 -0.9 12 -3 21 -2.5 23 -3.7 16 -5.1 15 -4.5 11 -6.1 12 -107.6 0 -10.5-20.4 0-210.9 5-14.2 2.4-12.5 5.3-20 0.5-4 0.4-23 1.9-9 4.6-15 12.9-30.9 29.4-74.1 3.2-9 4.4-18 1.3-4 2.1-4 3-4 3.3-3 4.3-2.9 2-2.2 5-12.7 1-1.2z"/><path fill="#00a5ff" d="M594.6 90.4l1 1.5 4 9.7 8.6 7.9 1.9 3 1.8 4 4.8 20 4.7 15 4.2 10.7 2.6 8.3 1.5 8 2 18 3.6 14 8.3 24.6 11.6 23.4 3.6 11 0.8 4 0 13 -0.7 5 -6.6 23 -5.5 14 -3 9 -1.7 13 0 11 2.8 28 0.1 55 -0.7 8 0.1 14 -1 13 -3.2 21 -2.6 21 -4 17 -5.4 15 -5.2 12 -6.6 12 -94 0 -3-5 -13-25 -4.8-10.7 0-172.3 10.5-31 2.3-13 5.3-20 0.6-5 0.5-23 1.4-7 4-13 13.4-32.6 29.5-74.4 3.2-9 5.8-22 3.5-5.7 6.4-6.3 1.6-3 3-7.9 1-1.3z"/><path fill="#00b2ff" d="M594.6 98l4 7.6 6.8 6.9 3 6 4.7 16 4.5 10.3 6 17.7 1.5 6 4.8 28 4.1 14 8.3 24 11.4 23 3.5 10 1.3 5 0.2 13 -0.7 6 -6.7 23 -5.6 14 -2.9 9 -1.7 13 0 11 2.8 29 0.2 53 -0.8 9 0 15 -1 12 -3.5 21 -2.8 21 -4 16 -5.2 14 -3.9 9 -3.6 7 -6.2 10 -81.6 0 -5.7-9 -15.4-30 -6-17 -2.8-10.5 0-130.3 15.4-48.2 1.8-12 5.2-21 0.5-25 1.3-7 3.2-11 43.6-109 3.6-10 5.4-21 2.2-4 5.8-6.8 3-6.6 1-1.2z"/><path fill="#00beff" d="M594.6 105.1l3.6 4.4 4.2 4 1.9 3 1.7 4 4.6 15.6 6.4 13.4 4.2 13 5.3 26 3.1 12.5 11.6 33.5 12 24 4.4 14 0.2 12 -0.5 6 -6.7 23 -5.8 15 -2.9 9 -1.7 13 0 11 2.9 30 0 52 -0.7 8 -0.1 15 -1 12 -6.7 43 -4.3 16 -5.5 14 -3.6 8 -5.6 9.6 -5.9 8.4 -69.8 0 -7.6-11 -16-31 -6.2-18 -4.3-18 -2.7-16 -1.5-13.4 0-66.7 1.7-10.9 3.1-12 14.1-47 1.5-12 5-22 0.4-24 1.3-7 2.5-9 2.7-8 12.2-29 29.5-74.4 3.4-9.6 5.4-21 1.7-3 4.2-5 2.3-3.5 1-0.9z"/><path fill="#00caff" d="M594.6 110.6l5 3.4 2.6 3.5 1.6 4 4.8 15.9 6.5 13.1 3.8 12 5.7 25 3.5 13 12.6 35 11.9 24 3.4 10 0.8 4 0.2 12 -0.9 6 -6.4 22 -5.5 14 -3 9 -1.8 13 -0.1 12 2.9 30 0.1 52 -0.9 8 0 15 -1 12 -7.1 43 -4.2 15 -5.7 14 -4.8 9.7 -6.7 10.3 -5.8 7 -57.8 0 -4.9-5 -4.9-7 -14.3-27 -3.6-8 -5.8-18 -3.7-16 -2.4-15 -5.2-43 0-6 1.7-24 2.2-15 2.8-12 13.2-47 1.5-13 4.6-23 0.4-24 3.4-14 2.7-8 12.6-30 29-73.1 3.9-10.9 5.1-20 1.6-3 4.4-4.3z"/><path fill="#00d6ff" d="M594.6 113.8l3 1.2 3 3.6 6 18.9 7.2 15 3.5 11 2.9 13 6.6 24 12.9 35 11.1 22 4 11 1.3 6 0 12 -1.1 6 -5.5 19 -6.6 17 -2.6 8 -0.8 4 -1 10 0 10 2.9 31 0 51 -0.8 9 -0.1 15 -1.3 13 -7 41 -4.3 15 -6.3 15 -6 11 -6 8.2 -7.7 7.8 -44.8 0 -5.4-4 -3.2-3 -6.9-10 -15-29 -6.1-18 -4.6-20 -3.6-23 -4.5-33 1.2-28 2.1-16 2.6-12 12.4-47 1-12 4.2-23 0.4-24 3.3-14 3.1-9 11.7-28 29.8-75 3.6-10 5.1-20 2.6-4 1.7-1.3z"/><path fill="#00e3ff" d="M594.6 116l3 1.4 2.4 4.1 5.2 17 6.1 12 3.5 10 6.8 26.8 4.3 14.2 13.2 35 9.5 18.5 3 6.8 3.5 11.7 0.2 12 -1 6 -5.7 19.9 -6.6 17.1 -2.6 8 -0.7 4 -1 10 0 10 2.9 31 0 50 -0.9 10 -0.1 14 -1.2 13 -7.3 41 -1.2 5 -4.2 13 -8.5 18 -6.6 9.6 -8 8.1 -6.5 4.3 -27.4 0 -9.1-4 -5.3-4 -3.8-4 -5.7-9 -12.5-24 -3.3-8 -4.2-13 -3.7-16 -4.5-26 -4.8-32 -0.2-5 0.8-22 1.8-16 2.4-12 11.6-47 0.9-13 3.8-23 0.2-22 1.9-10 4.5-14 12.1-29.1 32-80.9 6.1-23 1.9-3.1 1.2-0.9z"/><path fill="#00efff" d="M594.6 118.2l2 0.8 1.6 2.5 5.7 18 6.9 14 3.3 10 3.4 14 6.5 22 12.1 32 3.3 8 8.2 15.6 3 6.8 3.5 11.6 0.3 11 -0.8 6.1 -6 20.9 -6.6 17 -3.1 11 -1 10 0 11 2.9 32 -0.1 49 -0.9 10 -0.1 14 -1.3 13 -7.7 42 -4 13 -2.1 5.3 -7 14.2 -5.6 8.5 -5.4 5.7 -8 6.1 -8 2.6 -5 0.5 -9-1.3 -7-2.2 -6-2.6 -6.4-4.8 -2.6-3 -4-6.1 -14.1-26.9 -6.3-18 -4-17 -9.9-58 -0.2-8 0.5-19 1.7-16 2.3-12 10.7-46 0.7-13 3.4-22 0.2-22 1.5-9 4.6-15 12-29 32.6-82 5.9-22 1.4-2.4z"/><path fill="#00fbff" d="M594.6 121.2l1 0.3 1 1.4 5.4 16.6 5.6 10.6 2 4.8 3.3 9.6 3.2 13 6.2 21 15.9 41 8.4 16 3 6.8 3.4 11.2 0.3 11 -0.8 6 -5.9 20.9 -6.6 17.1 -2.3 7 -0.8 4 -0.8 10 0 12 2.9 31 -0.2 49 -0.9 10 -0.2 14 -1.3 13 -7.9 41 -5.9 17.7 -6 12.1 -6 9.4 -5 5.4 -8 5.8 -4 1.7 -8 1.2 -8-1.2 -7-2.1 -6-2.6 -5.7-4.4 -2.5-3 -3.9-6 -14-27 -4.8-14 -2.4-9 -10.1-52 -3-18 0.1-21 1.4-17 2.1-12 10.4-47 0.6-13 3.1-23 0.2-22 1.5-8.7 4.7-15.3 18-44 13.3-34 10.4-25 3.8-10 4.8-17.9 1-1.9z"/><path fill="#00ffed" d="M594.6 131.5l1 0.4 4.4 9.6 5.6 9.4 2 4.4 4 11 6.3 23.2 4.2 13 14.1 36 11.4 22.5 4 12.5 0.4 10 -1.1 8 -5.3 19.2 -6.5 16.8 -3.1 11 -0.9 11 0.1 12 2.9 30 -0.4 51 -0.9 8 -0.2 15 -1.3 12 -8.3 41 -3.4 10.6 -3 7.5 -6 11.4 -6 8.8 -5 5 -7 4.6 -4 1.5 -6 0.8 -7.9-1.2 -6.5-2 -5.6-2.5 -4.6-3.5 -2.5-3 -3.9-6 -13.6-26 -4.5-13 -2.7-10 -10.5-51 -3.2-18 0-20 1.1-16 2-12 10.2-47 0.7-14 2.7-23 0.1-22 1.7-9 4.2-14 18.3-45 12.5-32.4 14.8-33.6 4.2-11.8z"/><path fill="#00ffd4" d="M595.6 148.1l3 1.3 4 4.2 3 4.9 3 6.3 3 8.5 5.5 20.2 3.3 10 13.7 35 9.5 18.5 3 7.4 3 10.1 0.4 9 -1.3 9 -4.3 17 -7.4 20 -2.2 8 -0.7 11 0.1 13 2.9 30 -0.5 49 -1 10 -0.4 14 -1.3 12 -5.7 27 -3.8 15 -3.8 10 -3 6.5 -7 11.3 -5 6.2 -5 4.4 -8 4.1 -6 0.8 -6-0.7 -6-1.8 -5-2.3 -4-3.2 -6-8.2 -12.8-23.1 -7.1-22 -12-51 -3.1-17 -0.3-19 1-16 1.9-12 10.9-49 1.1-21 1.4-13 -0.1-23 3.1-15 7-20.2 27-68.5 5-10.7 4-7.3 6-8.1 2-1.4z"/><path fill="#00ffbb" d="M596.6 157.1l3 1.4 3 3.2 3.7 5.8 2.7 6 2.6 7.9 3.4 14.1 3.1 10 11.3 29 10.7 22 2.9 7 3.5 12 0.6 8 -1.5 11 -3.3 15 -7.6 21 -1.5 6 -0.1 24 2.9 29 0 25 -0.7 21 -1.3 15 -0.5 13 -1.7 13 -2.2 10.4 -3.9 15.6 -4.3 14 -3.5 8 -4.3 8.1 -7 9.7 -7 6.9 -3 2.1 -4 1.9 -3 0.9 -3 0.3 -5-0.6 -5-1.5 -4-2.1 -3-2.6 -3.5-4.1 -4.5-6.6 -8-13.4 -1.9-4 -8.8-28 -11.3-43 -3.2-17 -0.4-18 0.9-16 1.7-11 4.8-21 6.7-26 1.1-6 0.4-17 1-14 -0.6-21 1-7 2.6-12 9.4-28 14.4-35 8.2-22.5 4.9-9.5 4.1-5.7 4-3.5 2-0.9z"/><path fill="#00ffa2" d="M595.6 163.3l3 0.9 3 2.8 3 4.4 2.9 6.1 2 7 2.8 13 6.5 19 7.2 18 10.8 22 2.4 6 3.7 13 0.8 8 -1 11 -2.9 15 -2.1 7 -5.4 14 -1 5 0.7 26 2.8 28 0.1 23 -1.1 22 -2.4 28 -2.4 16 -3.6 15 -5.2 16 -3.6 8.7 -5 8.9 -7 9 -6 5.5 -7 4 -3 1 -3 0.3 -4-0.7 -3-1 -3-1.9 -3-2.7 -4-4.5 -4.8-6.6 -6.9-12 -9.2-28 -12-41 -3.3-17 -0.6-8 0-10 0.7-15 1.8-12 4.8-20 7.8-27 1.5-7 -0.2-15 0.6-15 -0.9-21 3.2-19 4.8-17 3.5-10 14.9-35 7.3-21.1 4-7.6 3-4.2 4-3.4z"/><path fill="#00ff89" d="M595.6 171.2l2 0.9 1.4 1.4 4.4 7 4.4 17 4.3 12 10.4 24 12.6 25 3 9 1.8 8 0.7 8 -0.5 11 -2.7 15 -2.1 7 -5.4 14 -0.8 4 1.7 27 2.7 27 0.1 23 -0.8 15 -3.6 36 -2.5 15 -3.5 14 -3.4 10 -4.6 11 -4.6 8.1 -6 7.8 -6 5.5 -7 3.7 -6 1.6 -3-0.5 -2-0.9 -7-5.7 -6.8-8.6 -5-9 -22-66 -3.4-17 -0.7-8 -0.1-10 0.5-15 1.7-11 5-20 10.6-34 0.2-4 -0.8-12 0.2-16 -1.3-21 1.8-15 4.8-20 3.8-11 16-33 7.5-19.3 2-3.7 4-5.5 2-1.4z"/><path fill="#00fe70" d="M594.6 185.6l1.9 0.9 1.1 1.6 4.3 10.4 4.4 9 26.5 50 3.7 11 1.9 9 0.3 5 -0.6 12 -2.8 15 -2.2 7 -5.1 13 -0.9 4 2.1 19 1.4 20.4 1.7 14.6 0.2 24 -1.8 22 -3.6 29 -2.8 15 -3.5 13 -1.7 5 -5.2 12 -5.4 9 -4.9 5.9 -6 5.3 -5 2.3 -7 1.2 -4-1.3 -5-3.8 -4.9-5.6 -3.6-6 -12.1-33 -2.9-9 -8.2-21 -2.9-11 -1.5-8 -0.9-8 0-23 1.4-12 4.3-17 7.8-24 4.5-11 1-4 0.1-4 -1.3-12 -0.4-17 -1.8-14 -0.5-7 1.2-15 3.4-16 4-12 5.3-10.7 14.5-23.3 8.5-14.5 2-2.1z"/><path fill="#00fd59" d="M593.6 198.2l2 0.7 4 5.4 17.6 28.2 12.7 22 3.2 7 2.1 7 1.9 9 0.3 5 -0.5 11 -3 15 -1.8 6 -5.8 14 -1 4 0.2 4 2.6 16 1.5 21 1.7 14 0.1 23 -2 22 -4 29 -4.3 20 -3.4 11 -5.1 11 -3.5 6 -5.4 7 -6.1 5.3 -4 2 -5 0.7 -4-0.6 -4-2.2 -4-3.9 -3.4-5.3 -5.6-15.1 -7.7-18.9 -2.3-7 -5.8-14 -3.4-7 -2.4-8 -2.3-12 -1.1-10 0-18 1.3-12 4.3-17 8-23 5.6-12 1.4-6 -0.1-4 -2-12 -1.4-18 -2.1-13 -0.6-7 0.8-14 3.2-17 4.4-12 7.2-12.4 6-8.2 13-15.6z"/><path fill="#00fd41" d="M593.6 205.7l2 0.8 2 2 11 14.3 11.7 17.7 7.8 13 3.4 7 2.7 8 1.9 9 0.3 5 -0.6 11 -2.9 14 -2.3 7 -6 14 -0.9 4 0.1 3 3.2 17 1.6 21 1.6 13 0.2 26 -1.2 13 -5.6 36.5 -3.4 15.5 -3.7 12 -6.9 14.2 -5.5 7.8 -3.9 4 -5.6 4 -2 0.7 -3 0.3 -4-0.8 -3.8-2.2 -2.9-3 -2.4-4 -4.9-12.9 -8.7-20.1 -2.9-8 -9.6-21 -3.3-13 -2-13 -0.4-20 1.4-12 4.1-16 8-23 6.1-13 1.5-6 -0.1-4 -1.9-11 -1.8-19 -3.1-20 0.3-13 3.1-18 4.1-11 7.2-11.5 7-8.4 10-9.6z"/><path fill="#00fc29" d="M593.6 211l2 0.9 2 1.8 10 11.3 8.5 11.5 10.2 16 3.8 7 2.8 8 2.2 9 0.4 6 -0.5 11 -3.3 14 -2.1 6.1 -6.2 13.9 -1.2 5 0.2 3 3.6 18 1.6 20 1.8 14 0.1 24 -1.2 13 -6.1 36 -3.6 15.3 -5 14.8 -5 9.4 -4 6.1 -5 5.8 -6 4.3 -4 0.8 -3-0.7 -3-1.8 -2-2.2 -2.4-3.8 -4.3-11 -9.6-21 -3-8 -9.7-20.6 -3.4-12.4 -2.2-14 -0.4-19 1.2-11 4.5-18 7.2-21 6.2-13 1.9-8 -2.9-29 -4-25 -0.1-12 2.6-17 4-11 6.4-9.9 5-5.7 6-5.5 6-4.6z"/><path fill="#00fb12" d="M592.6 215.2l2 0.4 2 1.2 9 8.9 9 10.9 9.4 13.9 4.6 8 2.5 6 3 11 0.7 7 -0.6 11 -3.3 13 -2.3 6.3 -7 14.7 -0.9 4 0.3 4 3.8 18 3.7 37 -0.1 22 -1.3 13 -6.5 34.4 -4 14.4 -6 15.4 -6 9.9 -6 7.4 -5 4 -2 0.9 -2 0.3 -2-0.6 -1.6-1.1 -3.4-4.6 -28-59.4 -3-10.8 -2.4-14.2 -0.7-19 1.2-11 4-17 7.4-22 6.1-13 2-8 0-6 -1.8-20 -1.5-10 -2.6-12 -1.1-8 -0.2-11 2.2-16 3.7-10 6.7-9.9 4-4.2 5-4.1 6-4z"/><path fill="#05fa00" d="M592.6 218.7l2 0.4 3 1.9 9 8.3 8 9.3 8.9 12.9 4.7 8 2.8 7 2.4 9 0.7 7 -0.7 11 -3.6 13 -2.2 5.4 -7.7 14.6 -1 4 0.4 5 4.3 18 3.9 35 0 22 -1.2 13 -1.3 8 -6.4 27.6 -7 19.3 -5 9.9 -6 8.6 -6 6.4 -2 1.4 -2 0.5 -2-0.8 -2-2.7 -14.5-26.2 -14.7-30 -3.8-13 -2.1-12 -0.8-17 1-11 3.9-18.2 6.7-20.8 6.4-14 1.7-6 0.7-4 0.2-12 -1.1-11 -5.6-26 -1.3-11 0.2-9 1.7-12 1.5-5 2.3-5 3.6-5.5 3-3.6 8-6.6 6-3.4z"/><path fill="#16fb00" d="M592.6 221.6l2 0.5 3 1.8 9 7.6 8 8.9 8 11.2 4.7 7.9 2.5 6 2.9 10 0.8 7 -0.8 11 -3.7 12 -3.4 7.2 -7.9 12.8 -1.1 4 0.6 5 5.1 20 4 34 0.2 22 -1.4 13 -1.2 7 -3.3 13.7 -4 12.7 -7 16.2 -3 5.5 -5.8 8.9 -5.2 6 -3 1.8 -2-0.5 -2-2.1 -9-13.2 -4.2-7 -14.8-27.9 -2.4-7.1 -2.6-10.7 -1.5-9.3 -0.8-14 0.9-11 3.4-17.9 6-20.1 6.3-14 2-6 1.2-5 1.4-10 -0.1-4 -1.8-11 -5.6-21 -1.9-10 -0.7-11 1.7-14 3.5-9.2 6-8.1 4-3.5 4-2.7 6-2.8z"/><path fill="#27fb00" d="M591.6 224.2l2 0.2 3 1.3 9 6.8 8 8.3 8 10.8 5.4 8.9 2.8 7 2.5 9 0.5 7 -0.8 10 -4.2 12 -4.2 7.3 -8.7 11.7 -1.1 3 0.6 5 6.5 23 4.2 33 0.2 21 -1.5 14 -1.1 6 -4.1 14.6 -7 16.4 -6 10 -5 7.1 -5 5.9 -3 1.4 -2-0.8 -2-2 -7.4-9.6 -8.6-13.9 -8.4-15.1 -2.6-7 -2.6-10 -1.8-10 -1-13 0.5-9 1.3-10 4.1-19 3.8-12 5.4-12 2.9-8 4.1-15 -0.2-3 -2.5-11 -6.8-21 -2.1-9 -1.2-12 1.2-13 1.1-4 2.2-5 5.6-7.7 3-2.7 5-3.2 5-2.1z"/><path fill="#39fc00" d="M591.6 226.4l3 0.6 3 1.5 8 5.8 8 8 7.7 10.2 4.9 8 3.2 8 2.2 8 0.6 7 -0.9 10 -1.7 5.2 -3 6.7 -6 8.3 -9 9.1 -1.1 1.7 -0.3 2 0.8 4 5.3 15 2.6 9 4.1 27 1 11 0.1 15 -1.5 14.6 -1 5.5 -2 7.3 -3 8.4 -3 6.2 -4 6.9 -4 5.4 -8 9.3 -3 2.7 -2 0.7 -3-1.3 -5-5.5 -9-12.7 -7.9-13.5 -3.9-11 -2.6-11 -1.8-17 0.3-8 1.2-11 4-20 3.4-11 13.9-32 0.5-2 -0.4-3 -3.6-11 -8-21 -2.6-9 -1.2-7 -0.4-5 1-13 1.5-5 1.9-4 5.7-7.2 3-2.4 4-2.3 4-1.5z"/><path fill="#4afc00" d="M591.6 228.4l3 0.6 3 1.4 8 5.5 7 6.6 8 10.3 5 8 3.2 7.7 2.2 8 0.6 7 -0.2 6 -0.8 4.2 -2 5.3 -3 5.8 -6 7 -12.2 8.7 -1.8 1.8 -0.5 1.2 0.6 3 6 13 5 14 1.3 6 3.2 20 1.4 13 0.1 13 -2.3 20 -1.5 6 -2.3 6.1 -2.8 5.9 -3.2 5 -4 4.9 -5 4.9 -6 4.9 -3 1.4 -3-0.9 -6-6.2 -6-7.9 -6.1-10.1 -3.9-10.4 -2.7-10.6 -2.1-17 0.1-7 1.4-15 2.5-14 2.6-10 2.2-6 6-12.9 4-7.4 5.5-7.7 1-3 -0.9-3 -12.6-27.1 -4.5-11.9 -1.9-8 -0.6-5 -0.1-5 0.6-8 1-4 2.2-5 2.3-3.5 3-3.3 3-2.4 4-2.2 4-1.2z"/><path fill="#5bfd00" d="M589.6 230.1l5 0.7 6 3 8 6.1 5.4 5.6 6.9 9 4.7 7.8 3.5 9.2 1.8 8 0 8 -0.9 6 -3.4 7.6 -3 4.2 -5 4.6 -5 2.9 -7 2.8 -9 2.2 -3-1.2 -4.4-5.1 -13.4-23 -5.5-13 -2.1-8 -0.8-5 0-6 0.7-7 1.6-5 2.1-4 3.8-4.6 3-2.4 5-2.4zM595.6 323.4l2 0.8 2 1.7 6 7.9 4 7.3 5 12.8 2 8.2 3.4 20.4 1.2 12 0 11 -1.6 15 -1.2 6 -2.3 7 -3.5 7 -4 5.2 -5 4.3 -8 4.8 -4 0.9 -3-1.3 -5-5.1 -6-8.2 -3.4-6.6 -3.2-9 -2.9-11 -1.5-11 -0.3-9 0.7-13 1.9-14 2.5-11 2.1-6 5.1-10.9 5-7.8 6-5.7 4-2.3z"/><path fill="#6dfe00" d="M582.6 233.1l5-1.3 5 0.1 6 2.2 5 3.1 6 4.8 4.2 4.5 6.9 9 4.7 8 3.1 8 1.5 6 0.5 7 -0.7 7 -1.7 5 -3.5 5.9 -4 3.8 -4 2.5 -6 1.9 -6 0.8 -6-0.1 -3-1.2 -3-2.6 -5-6.4 -8.5-12.6 -4.5-8.5 -2.9-7.5 -2.1-8 -0.5-6 0.5-8 1.4-5 2.7-5 3.9-4.3zM594.6 329.7l2 0.4 2 1.1 3 3 3 3.8 3.2 5.5 4.7 11 2.2 8 3.5 19 1.3 13 0.1 9 -0.3 6 -2 14 -1.7 6 -2.8 6 -3.2 4.5 -4 3.6 -6 2.9 -6 1.3 -4-0.9 -3-2.4 -4.9-6 -3.3-6 -3.1-8 -3.1-11 -1.8-11 -0.5-9 0.3-13 1.4-13 2.2-11 1.6-5 4.2-9 5-7.1 5-4.1 3-1.3z"/><path fill="#7efe00" d="M580.6 235.1l5-1.8 5-0.3 5 1.1 6 3 7 5.2 4 4 6.6 8.2 4.5 7 3.4 8 2.1 7 0.7 6 -0.3 6 -1 5 -3 5.8 -3 3.6 -4 2.8 -4 1.6 -6 0.6 -7-0.8 -5-1.8 -3-2.3 -5-5.4 -8-10.1 -4-6.7 -3.3-7.3 -2.5-8 -0.9-6 0.2-7 1-5 2.2-5 3.3-4.2zM593.6 334.6l2 0.2 2 0.9 4.1 3.8 3.6 5 4.3 9 3 9 3.1 14 1.1 7 1.1 12 0 10 -1.1 10 -1.4 8 -1.8 5.5 -2.9 5.5 -3.1 3.5 -4 2.5 -5 1.1 -5-0.6 -4-1.9 -3-2.8 -3.2-4.8 -3.5-8 -3.3-10.1 -2.3-11.9 -0.7-8 -0.2-13 0.8-12 2.9-15 3.5-8 4-5.9 4-3.4z"/><path fill="#8fff00" d="M580.6 236.2l4-1.6 5-0.5 5 0.9 6 2.6 7 4.9 4 3.8 7 8.6 4.3 6.6 2.7 5.9 2.7 8.1 0.8 5 0.1 6 -0.7 5 -1.9 4.7 -3 4.3 -4 3.1 -4 1.7 -5 0.5 -7-1.3 -6-2.4 -4-3 -5-4.8 -6.8-7.8 -3.9-6 -3.4-7 -2.8-8 -0.9-5 0-7 0.7-5 2.1-5.1 3-4zM592.6 338.6l2 0.2 2 0.8 4 3.4 3 4.2 4.3 8.3 2.9 8 3.3 14 2.1 17 -0.1 12 -1.5 10.7 -2 8.3 -2 4.6 -2.4 3.4 -2.6 2.3 -4 1.4 -4-0.3 -4-2.1 -3.7-3.3 -2.7-4 -3.3-7 -3.5-10 -2.3-10 -0.9-8 -0.8-12 0.3-10 2.4-15 2.5-6.7 3.2-5.3 3.8-3.5z"/><path fill="#a1ff00" d="M580.6 237.2l4-1.7 5-0.4 5 1 6 2.6 6 4.1 4 3.6 6.8 8.1 4.2 6.2 2.5 4.8 3.3 9 0.9 4 0.4 6 -0.7 6 -1.4 4 -3 4.6 -3 2.6 -4 2 -5 0.5 -6-1 -6-2.3 -4-2.6 -5-4.3 -7.1-7.5 -4.2-6 -3.2-6 -3.1-8 -1.3-6 -0.2-6 0.6-5 1.8-5 2.7-4zM591.6 342.5l3 0.3 3.8 2.7 2.2 2.5 4 6.5 4.6 11 3.2 12 1.3 8 0.9 11 -0.1 7 -2.9 16.9 -1.7 5.1 -2.3 4.2 -3 2.9 -3 0.9 -3-0.7 -3.3-2.3 -3.3-4 -3.4-5.8 -5.4-13.2 -2.1-8 -1.3-8 -1-12 0.6-12 1.8-10 1.6-5 2.8-5.3 3-3.3z"/><path fill="#b2ff00" d="M580.6 238.1l4-1.6 4-0.5 6 1.1 5 2 6 3.9 4 3.5 6.9 8 4.1 5.9 2.7 5.1 3.3 8.6 1 4.4 0.4 6 -0.5 5 -1.2 4 -2.7 4.3 -3 2.7 -4 1.9 -4 0.6 -6-1 -6-2.3 -4-2.4 -5-4.1 -7.4-7.7 -4.2-6 -3.3-6 -2.8-7 -1.4-6 -0.2-5 0.3-5 1.6-5 2.6-4zM591.6 347.6l2 0 3 1.8 4 4.5 3 4.6 4 8.9 3 10.2 1.4 7.9 0.7 15 -0.5 5 -1.6 7.3 -2 6.4 -2 4.5 -2 2.8 -3 1.5 -3-1 -3-2.9 -4-5.6 -3-5.3 -2.5-5.7 -2.6-8 -1.7-9 -0.9-12 0.3-7 0.8-5 1.6-7 2-5.1 3-4.8z"/><path fill="#c3ff00" d="M580.6 239.1l4-1.7 4-0.5 5 0.8 5 1.9 6 3.7 4 3.3 5 5.5 5 6.6 3.5 5.8 2.9 7 1.6 5.3 0.7 5.7 -0.2 5 -1.2 5 -2.3 3.9 -3 3 -4 1.9 -4 0.5 -6-1 -5-1.9 -5-3 -4-3.3 -7-7.1 -3.8-5 -3.6-6 -2.6-6 -1.9-6 -0.6-5 0.2-6 1.3-5 2.3-4zM592.6 353.9l2 0.3 3 2.2 3 3.4 3.1 4.7 1.9 4 2.8 8 1.9 10 0.5 11 -1.2 8 -2.4 7 -2.6 5 -2 2.4 -2 0.7 -2-0.7 -3-2.7 -6-8.3 -4.2-10.4 -1.8-9 -0.7-11 1.1-10 3.8-10 2.8-3.6z"/><path fill="#d4ff00" d="M580.6 240.1l4-1.8 4-0.5 5 0.8 5 1.9 6 3.7 4 3.4 5.2 5.9 4.4 6 3.4 5.7 3 7.3 1.4 5 0.7 6 -0.4 5 -1.2 4 -2.5 3.8 -3 2.6 -4 1.6 -4 0.2 -5-1 -5-2 -4-2.4 -4.6-3.8 -7-7 -3.7-5 -3.6-6 -2.6-6 -1.5-5 -0.7-5 0.2-6 0.9-4 2.2-4zM593.6 360l2 0.5 2 1.3 3 3.1 2 3 4.1 9.6 1.7 9 0.3 10 -1 6 -1.5 4 -2.3 4 -1.3 1.7 -2 1.2 -2-0.1 -3-1.9 -3-3.2 -1.8-2.7 -3.6-8 -1.8-9 -0.6-10 1.3-8 3.5-7.4 2-2.3z"/><path fill="#e5ff00" d="M581.5 240.5l4.1-1.6 4-0.2 5 1 4 1.7 6 3.8 4 3.5 5.1 5.8 4.3 6 3 5 2.8 7 1.5 5 0.7 5 -0.3 5 -1.1 4 -2 3.5 -3 2.8 -3 1.4 -4 0.5 -5-0.7 -5-1.8 -4-2.3 -4.3-3.4 -7-7 -4-5 -3.6-6 -2.7-6 -1.6-5 -0.7-5 0.1-6 1-4 2.3-4zM593.6 365.3l2 0.1 2 1 2 1.8 2 2.8 3.3 7.5 1.5 8 0.2 8 -1 6.2 -1.2 2.8 -1.8 2.6 -3 1.9 -2-0.2 -2-1.1 -4-4.7 -2.6-5.5 -1.8-8 -0.5-8 1-7 2.2-5 1.7-2z"/><path fill="#f6ff00" d="M581.6 241.4l3-1.4 4-0.5 5 0.7 4 1.5 5 2.9 4 3.2 4.6 4.7 4.6 6 3.8 6 2.3 5 2.2 6 1.1 6 0 4 -1 5 -1.6 3.2 -3 3.1 -3 1.5 -4 0.5 -5-0.7 -5-1.9 -4-2.4 -4-3.2 -7-7 -3.3-4.1 -3.7-6 -2.3-5 -2.1-6 -0.7-5 0.1-6 1.1-4 1.9-3.3zM594.6 369.3l3 1 3.4 4.2 2.1 5 1.4 8 0 6 -1.2 6 -1.9 3 -2.8 1.4 -3-1.2 -3.4-4.2 -1.7-4 -1.6-8 -0.2-6 1.1-6 1.8-3.4 1-1z"/><path fill="#fff800" d="M581.6 242.4l3-1.6 4-0.6 4 0.5 4 1.3 5 2.8 4 3 4.7 4.7 4 5 4 6 2 4 2.7 7 1.3 6 0.2 5 -0.8 4 -1.3 3 -2.8 3.2 -3 1.7 -4 0.6 -5-0.7 -4-1.5 -4-2.2 -4-3.1 -7-6.9 -3.4-4.1 -3.2-5 -2.5-5 -2.2-6 -1-5 0-6 0.8-4 1.5-3zM594.6 373.2l2 0.3 1 0.7 2 2.7 1.4 3.6 1.1 6 0.3 4 -0.8 5.5 -1.1 2.5 -1.9 1.4 -2-0.4 -1-0.7 -2-2.8 -1.3-3.5 -1.2-6 -0.2-4 0.6-5 1.1-2.7z"/><path fill="#ffe900" d="M582.6 242.6l3-1.3 4-0.3 4 0.6 4 1.6 5 3.1 4 3.3 4 4.2 7.5 10.7 2.4 5 2.1 6 1.2 6 0 4 -0.9 4 -1.4 3 -2.9 3 -3 1.3 -4 0.3 -5-0.9 -4-1.7 -4-2.5 -4-3.4 -6-6.1 -3.2-4 -3.1-5 -2.4-5 -2.1-6 -0.9-5 0.1-5 0.9-4 1.7-3.1zM595.6 381.8l1 0.2 0.8 2.5 0.2 5.3 -1 0.1 -1-2.5 -0.4-2.9z"/><path fill="#ffdb00" d="M582.6 243.5l3-1.4 3-0.4 4 0.4 4 1.4 5 2.9 3.9 3.1 4.1 4.1 3.8 4.9 3.9 6 2.1 4 2.6 7 1 5 0.2 4 -0.7 4 -1.3 3 -2.6 3 -3 1.5 -4 0.4 -4-0.6 -4-1.6 -4-2.3 -4-3.3 -6.1-6.1 -3.2-4 -5.3-9 -2.2-6 -1.1-5 -0.1-5 0.8-4 1.4-3z"/><path fill="#ffcc00" d="M583.6 243.8l3-1.2 3-0.2 4 0.6 4 1.7 5 3.2 5 4.5 7.1 9.1 3 5 2.2 5 1.7 5 0.8 5 0 4 -1 4 -1.8 3 -2 1.7 -3 1.2 -4 0.2 -4-0.9 -4-1.7 -7.2-5.5 -5.9-6 -3.1-4 -3.1-5 -2.4-5 -1.7-5 -0.9-5 0-4 0.8-4 1.6-3z"/><path fill="#ffbe00" d="M583.6 244.7l3-1.3 3-0.3 4 0.6 3 1.2 5 3.1 4 3.3 3.2 3.2 3.8 5.1 5.4 8.9 2.3 6 1.2 5 0.4 4 -0.6 4 -1.7 3.8 -2 2 -3 1.4 -3 0.2 -4-0.6 -4-1.5 -4-2.6 -4-3.3 -5.3-5.4 -3.2-4 -3.1-5 -2.4-5 -1.7-5 -0.9-5 0-4 0.9-4 1.7-3z"/><path fill="#ffaf00" d="M583.8 245.5l2.8-1.4 3-0.3 4 0.6 2.8 1.1 4.2 2.5 4 3.3 3.3 3.2 3.2 4 6.3 10 2 5 1.3 5 0.5 5 -0.4 3 -1.2 3.3 -2.2 2.7 -2.8 1.4 -3 0.3 -4-0.6 -4-1.6 -7-5.1 -5.5-5.4 -3.2-4 -5.3-9.4 -1.7-4.6 -1.2-5 -0.1-4 0.7-4 1.5-3z"/><path fill="#ffa100" d="M584.6 245.9l3-1.2 3-0.1 4 0.8 3 1.5 4 2.7 5 4.4 6 7.7 3 4.7 2 4.1 1.8 5 0.8 4 0.3 4 -0.4 3 -1.5 3.5 -2 2.1 -3 1.2 -3 0.2 -4-0.9 -3-1.3 -4-2.7 -4-3.4 -4.5-4.7 -3.1-4 -3-5 -2.3-5 -1.4-4 -1-5 0.1-4 0.7-3 1.5-2.7z"/><path fill="#ff9200" d="M585.1 246.5l2.5-1 3-0.2 4 0.9 3 1.4 4 2.8 4.7 4.1 6.3 8.2 4.3 7.8 1.8 5 0.8 4 0.3 4 -0.5 3 -1.3 3 -2 2 -2.4 1 -3 0.2 -4-0.8 -3-1.4 -4-2.7 -3.8-3.3 -7.2-8.2 -5.2-9.8 -1.4-4 -1-5 0.1-4 0.9-3 1.1-2z"/><path fill="#ff8400" d="M585.6 247.2l3-1.1 3 0 3 0.8 3 1.5 8 6.3 6.8 8.8 4.3 8 2.2 8 0.1 4 -0.5 3 -0.9 2.1 -2 2.2 -2 0.9 -3 0.3 -3-0.5 -4-1.7 -7-5.4 -7-7.9 -5.1-9 -1.8-5 -0.9-4 -0.1-4 0.7-3 1.2-2.3z"/><path fill="#ff7600" d="M585.6 248.2l2-1 2-0.4 3 0.3 3 1 4 2.5 4.8 3.9 5.2 6.1 5 7.9 2 4.6 1.2 4.4 0.4 7 -0.9 3 -1.7 2.2 -2 1.1 -3 0.4 -3-0.5 -3-1.2 -7-5 -7.2-8 -5.1-9 -2.6-8 -0.3-3 0.3-3 1.1-3z"/><path fill="#ff6800" d="M586.6 248.7l2-0.9 3-0.1 3 0.8 3 1.6 7.9 6.4 6 8 4.1 7.8 1.8 7.2 -0.3 6 -0.8 2 -1.7 1.8 -2 0.9 -3 0.1 -5.3-1.8 -7.7-5.9 -6.1-7.1 -4.9-9.1 -2.2-7.9 -0.2-3 0.7-3 0.9-2z"/><path fill="#ff5a00" d="M587.2 249.5l2.4-0.9 2 0 3 0.8 3 1.6 7 5.6 6.1 7.9 3.9 7.2 1.9 6.8 -0.1 6 -0.8 2.2 -1.7 1.8 -2.3 0.9 -2 0 -3-0.7 -3-1.5 -7-5.6 -5.9-7.1 -4.2-8 -2.1-7 -0.3-3 0.4-3 1.1-2.3z"/><path fill="#ff4c00" d="M587.9 250.5l1.7-0.7 3 0 5.6 2.7 6.4 5.3 5.8 7.7 3.3 6 1.9 7 -0.3 6 -0.7 1.6 -1.3 1.4 -1.7 0.7 -3 0 -5-2.1 -7-5.6 -5-6.1 -4.2-7.9 -2.1-7 -0.2-3 0.5-2.7 1-2z"/><path fill="#ff3e00" d="M588.6 251.9l2-0.8 2 0 5 2.2 6 4.7 5 6.3 3.7 6.2 1.9 6 0.3 6 -0.7 2 -1.2 1.6 -2 0.8 -2 0 -5-2 -6-4.6 -5-6 -4-7.2 -2.1-6.6 0-5 0.8-2z"/><path fill="#ff3100" d="M589.8 253.5l2.8-0.7 5 1.9 5.1 3.8 4.9 6.1 3.1 4.9 2.2 6 0.4 3 -0.2 3 -0.5 1.4 -1.2 1.6 -2.8 0.8 -5-1.7 -5.4-4.1 -4.6-5.5 -3.7-6.5 -1.9-6 0-5 0.6-1.6z"/><path fill="#ff2300" d="M591.2 255.5l1.4-0.6 2 0.1 5 2.5 4 3.6 4 5.4 2.8 5 1.2 4 0 4.2 -1.6 2.8 -1.4 0.6 -2 0 -4-1.6 -4-3.2 -4-4.9 -3-5 -2.1-5.9 0-4 0.7-2z"/><path fill="#ff1500" d="M592.6 257.6l1-0.4 2 0 2.8 1.3 3.2 2.5 3 3.5 3.3 5 1.7 4 0.4 4 -0.4 1.6 -1 1.4 -1 0.4 -2 0.1 -3-1.3 -3.8-3.2 -3.2-4 -2.9-5 -1.4-4 0-4z"/><path fill="#ff0700" d="M594.6 259.8l2 0.1 3 1.7 2 1.9 5 7.4 1.3 3.6 -0.3 2.8 -1 1 -2 0.1 -3-1.8 -3-3.1 -2.9-4 -1.5-3 -0.9-3 0.3-2.8z"/></g>
<clipPath id="r3"><rect x="700.0" y="7.5" width="189.2" height="568.3"/></clipPath><clipPath id="c3" clip-path="url(#r3)"><path clip-rule="evenodd" d="M757.5 5.5l8.5-0.7 33 0.1 7.4 0.6 3.2 13 2.7 8 -0.3 1.9 -1 0.3 -0.2 2.8 0.9 2 2.8 12 -0.8 5 0.5 1 0 5 2.2 9 -0.3 4 0.9 1 0 1.1 -1 0.9 -0.2 2 1.3 4 0.4 4 -1.5 5 0.6 4 -1.2 3 0.2 3 0.7 3 4.8 12 0.2 8 0.9 2 0.8 7.6 0.8 1.4 -0.2 4 0.9 4 5.4 15 1.5 6 -0.2 6 0.9 2 0.7 5 -0.8 1.5 -2 0 -0.5 1.5 1.5 5.6 3 6.2 1 0.7 1.2-1.5 -0.1-2 -1.5-5 0.4-1.2 3 3.3 1 0.3 2-0.6 1 0.7 4 5 3 2.6 1 0.1 -0.2-5.2 0.2-1 1-0.5 2 2 4 6.6 2 1.9 2-2.9 1-0.7 2 0.9 2-2.7 4 2.7 1-0.1 1.4-8.2 3.2-2 1.4-3.3 1 0.5 4 4.8 1 0.5 4-0.4 1 0.6 2.6 8.3 0.4 4.8 -0.8 1.2 -1.2 0.3 -0.5 1.7 1.1 10 -0.6 1 -3-4.4 -0.6 0.4 2.1 6 1.2 8 -0.7 1.1 -2 0.6 -3.2 4.3 0.6 1 5.6 4 1.2 5 0 3 -1.2 2.6 -4 0.3 -3.3 3.1 0.3 1 5.1 3 1.9 3 0.2 3 -1.7 5 1.5 2.9 2.2 2.1 -0.2 2.4 -1.6 1.6 -0.5 2 1 4 1.5 3 0.1 2 -0.5 1.8 -7.1 3.2 0.6 3 -0.1 2 -4 8 0.6 1.8 2.8 2.2 0.3 1 -2.1 4 3.5 4 0.4 4 -0.4 3 0.9 5 1.6 4 -0.2 4 -0.8 2.5 -1 0.4 -7-0.8 -5-1.3 -2.6 0.2 -1 1 -1 5 1.6 2.1 4 1 3-0.4 3-2.2 2 0.8 0.2 1.7 -0.6 1 -3.6 1.6 -1 1.4 0.7 2 3.6 5 2.4 7 -1.7 1.3 -6 0.3 -1.1 0.4 -0.5 1 0.6 1.1 5 2.4 1 1.5 -0.4 2 -1.8 2 0.2 1.1 1-0.2 3-2.6 2-0.7 5 1 0.6 1.4 0 4 -0.6 2.5 -2-0.2 -1.9 0.7 -0.5 1 0.5 3 -1.1 1 -3 0.7 -3-1.9 -5-1.1 -1.9 0.3 0.5 1 8.4 2.9 1 2.1 -3 8.3 -2.3 2.7 -0.1 2 1.5 4 -2.6 4 0.1 1 6.4 5.2 6 1.9 1.6 1.9 -0.1 1 -1.5 1.3 -4 0.6 -2-1 -2.2-2.9 -1.8-0.7 -10 0.4 -2 1.3 -0.7 2 1.3 2 6.8 2 1.1 1 -4.3 4 0.1 1 5.9 4 1.3 2 0.1 2 1.3 1 4.1 1.2 1.3 2.8 -0.7 2 -2.4 4 -1.2 0.8 -4 0.8 -5 2.4 -4-0.5 -4 0.7 -0.7 0.8 0.7 1.5 4 2.4 0.8 1.1 0 1 -1.8 2.8 0 1.2 2 0.5 4-1.5 0.6-1 -0.4-3 1.8-0.7 3 0.6 0.8 2.1 5.7 3 0.7 1 -3.5 4 -0.6 3 -1.5 2 -2.3 1 -8.7 2 3.4 1.4 6 3.8 3 0.4 4-0.7 1 0.3 2.2 1.8 0.9 2 -0.3 1 -1.3 1 -5.5 0.6 -1.8 1.4 0.6 2 2.3 3 -0.3 2 -4.8 2.3 -4.8-0.3 -3.1 2 0.6 1 3.3 2.2 2 7.8 -2.6 3 -0.2 1 0.9 1 1.9 0.8 8 1.6 0.8 0.6 -1.1 2 -2.7 1.7 -7 1.5 -1.5 0.8 -1.1 2 0.3 3 4.3 1.8 8-0.3 3.3 1.5 0.3 1 -1.6 1.7 -2 0.8 -5-0.5 -3.7 1 -0.2 1 4.1 3 0.3 3 -2.5 3.2 -1 0.4 -2-0.3 -0.3 0.7 2.3 1.4 0.3 1.6 -3.8 3 -1.3 2 0.7 2 1.2 1 3.9 1.5 4-0.9 3 1.9 1 1.5 0.5 4 -1.5 1.7 -5-1.3 -5 0.3 -1.6 1.3 -0.2 2 1.8 2.5 2 1.1 3.9 0.4 -18.9 0.8 -163 0.2 -1-1 0.4-417 0.6-2.2 2 3.2 1 0.7 1-0.1 0.1-4.6 -2-12 0.9-0.7 3 2 0.3-0.3 -0.4-6 1-9 1.1 0.9 4 7.6 1-1.1 0.7-5.4 -1.1-3 -5.1-9 -0.9-4 0.4-2.1 2-1.6 3 0.2 1 0.9 2.1 3.6 5.9 15.9 1 1.5 0.9-0.4 -1.6-12 -5.6-17 -1-5 0.3-1.7 2 2.9 7.4 15.8 4.6 13.3 3 4.2 1 0.5 1-0.4 2 6.8 2.3 3.6 -0.3-3.5 -2.9-6.5 1.2-4 -0.2-3 -2.3-12 -3.2-10 -0.5-3 0.9-0.7 1 0.9 6 9.6 4 2.4 1.1-0.2 0.2-2 -4.1-14 -0.5-4 0.3-2.4 2 1.3 8 9 1 0.4 -0.4-12.3 -1.1-9 1.5-1.8 3 1.4 0.5-0.6 -5.5-13.2 -0.5-2.8 0.5-2.2 1 0.9 3.1 6.3 3.4 12 1.5 1.7 1-0.4 -0.7-6.3 -5.3-15.7 -2.4-8.3 -0.7-5 1.1-2.5 2 0.8 2.2-1.3 0.5-2 -1.1-8 1.4-1.2 2 1.3 1.2-1.1 0.5-6 -1.7-12 1-4.8 1-2.2zM705 79.3l1-0.2 3 5.4 1 4 -1 1 -3-5.7zM730 79.1l1 0.9 1 2.3 0.4 2.2 -0.4 0.5 -2-4.5zM727 158.4l-0.5 1.1 0.5 2.2 1 1.9 2 1.8 0-3.2 -2-3.5zM869.2 320.5l0.8 1 8 2.7 3.5-0.7 1.2-2 -0.2-1 -1.8-2 -3.7-1.4 -3 0.4 -4 2zM883 432.8l3 1.1 1.5 2.6 -0.1 1 -0.9 1 -2.5 1.5 -1-0.2 -2.6-2.3 0.4-2zM859.4 475.5l0.2 2 1.3 1 4.4-1 -2.3-2.5 -2-0.2z"/></clipPath><g clip-path="url(#c3)" fill-rule="evenodd"><rect x="700.0" y="7.5" width="189.2" height="568.3" fill="#0000e2"/><path fill="#0000f0" d="M753.6 5.5l56.9 0 0.5 7.4 4 20.3 5 19.9 1 2.7 2 3.5 6 6.7 3.9 5.5 5 10 5 15 3.3 16 4.6 18 1.4 13 -0.7 10 -3.2 10 -5.9 12 -0.1 2 0.7 1 3.4 2 8.1 3 4.5 0.9 27-7.4 3-0.4 2 0.3 0 37.8 -0.7 5.8 0 18 -1.4 21 0 13 0.7 7 0 11 0.5 7 -3.5 37 -0.4 15 0.7 9 -0.8 8 0 18 -0.8 9 0.2 36 -0.8 10 0.8 50 -0.7 11 1.2 63.8 1 13.2 -189.2 0 0.2-440.8 2-2.7 4.3-11.5 11.1-16 5.6-6.7 12-10.3 3.4-5 5.6-14.1 2-7 2-11.9 0.5-6 6.5-34.6z"/><path fill="#0000fa" d="M755.6 5.5l52.8 0 0.6 8.6 11.5 64.4 1.6 19 3.4 32 1.5 7.4 4.5 16.6 2.5 20.3 2 4.2 2.5 2.5 3.5 1.8 16 4.3 3-0.3 25-7.2 3-0.2 2 0.9 0 14.9 -1.1 16.8 -1.1 8 0 18 -1.3 20 0 15 0.7 8 0.3 17 -3.6 36 -0.5 16 0.6 9 -0.7 7 0 19 -0.8 9 0.3 36 -0.8 11 0.9 49 -0.6 10 1.1 65 1 13 -187.6 0 0.2-438 2-0.8 1.1-1.2 5.5-14 13.1-18 4.3-4.2 16-11.4 2-2.2 1-2.1 3-11.2 1.3-6.9 2-22 5.9-35z"/><path fill="#0005ff" d="M756.9 5.5l50.3 0 0.4 8 11.6 66 4.8 50.5 6.3 25.5 2.4 19 1.9 4 3 3 3.4 1.9 17 4.6 4-0.5 24-6.9 3 0.1 1.6 1.8 0.2 2 -2.3 26 -1.2 9 0.2 18 -1.2 19 -0.1 15 0.7 9 0.2 17 -3.8 36 -0.7 16 0.4 8 -0.7 8 0.1 19 -0.7 9 0.4 35 -0.7 12 1.2 49 -0.6 10 1.2 65 1 13 -186.4 0 0.2-436.7 2-0.5 2-1.8 6.1-15 12.9-17.6 4-3.7 15.2-10.7 2.2-2 1.6-2.7 3-10.8 1.8-9.5 1.7-20 5.9-36z"/><path fill="#0010ff" d="M757.9 5.5l48.3 0 0.4 8 11.6 66 4.8 50.6 6.3 25.4 2.4 19 0.6 2 1.7 2.8 3 3 3 1.8 18 5 4-0.4 23-6.6 3 0.1 1.2 1.3 0.2 2 -3.6 34 0.3 18 -0.9 19 -0.1 16 0.6 8 0 17 -1.2 13 -2.9 22 -1.4 18 0.1 8 -0.5 7 0.3 18 -0.6 10 0.7 35 -0.6 12 1.5 48 -0.5 10 1.5 66 1 13 -185.3 0 0.2-435.6 3-0.9 2-2.1 5.7-14.4 13.1-18 4.2-3.8 15.8-11.2 3-4 3.2-11.5 1.6-8.5 1.9-21 6-36z"/><path fill="#001bff" d="M758.8 5.5l46.4 0 0.4 8 11.7 66 1.5 19 3.5 32 1.6 8 4.6 17 2.5 19.7 2 4.2 3 3.3 3 1.9 19 5.7 4-0.4 22-6.3 3 0.3 0.9 1.6 -0.7 11 -3.1 23 0.5 17 -0.6 20 -0.1 17 0.5 8 -0.2 17 -3.2 25 -3 16.8 -2 7.1 -3.5 7.1 -0.6 4 1 11 2.2 14 2.2 32 0.4 14 -0.3 12 2.2 47 -0.4 10 1.4 35 0.5 32 0.9 12 -184.2 0 0.2-434.7 3-0.7 2.7-2.6 6-15 12.5-17 4.2-4 15.6-11 2-2 1.7-3 3.3-12 1.5-8 1.9-21 6.1-36z"/><path fill="#0025ff" d="M759.8 5.5l44.5 0 0.4 8 11.8 66 5 51 1.5 7.3 4.7 17.7 2.6 20 1.8 4 3.6 4 3.3 2.1 19 5.8 4-0.3 20-5.8 3.4 0.2 1.1 2 -0.6 8 -4.2 23 1.3 19 -0.3 36 0.4 9 -0.5 15 -1.6 12 -2.8 13 -1.2 3.6 -4.6 8.4 -10 13 -1.5 4 -0.6 6 0.2 6 1.5 11.7 7.9 42.3 7.1 63 0.7 8 -0.2 9 1.8 35 0.6 33 1 12 -183.1 0 0.2-433.8 4-1.1 2.1-2.1 1.6-3 4.5-12 13.1-18 3.7-3.4 15-10.6 2.2-2 2-3 3.4-12 1.7-9 2-21 6.1-36z"/><path fill="#0030ff" d="M760.7 5.5l42.6 0 0.6 9 11.9 65 5 51 1.7 8 4.3 16 2.7 21 1.7 4 3.8 4.4 3 2.1 19 6.5 5 0 19-5.4 3 0.3 1 2.1 -1 7.4 -2 6.6 -2 3.7 -5.1 5.3 -1.2 4 0.9 5 5.1 12 1.1 6 0.7 10 0.1 32 -1.6 18.6 -3 11.3 -4.2 9.1 -6.3 10 -8.9 11 -2.4 4 -1.5 5 -0.6 6 0.2 7 1 9 8 45 3.5 33 2.8 19 1.2 5 3.2 9.5 1.4 6.5 3.1 35 1.2 41 0.9 11 -181.7 0 0.1-433 4-0.8 2.5-2.2 2.1-4 4.6-12 12.8-17.6 3.8-3.4 15.2-10.8 2.2-2.2 1.8-3 3.4-12 1.7-9 1.9-20 6.4-37z"/><path fill="#003bff" d="M761.8 5.5l40.5 0 0.6 9 12.1 65 5.3 52 6 24 2.5 20 2.2 5 3.5 4 3.5 2.5 20 7.3 5-0.2 17-4.7 1.4 0.1 1.1 1 0.1 2 -0.6 2 -2 3 -2 1.2 -8 2.8 -5 2.7 -3.7 3.3 -2.1 4 0 2 1.2 3 13.9 18 2.4 4 1.3 3.2 1.4 6.8 0.6 11 -0.5 23 -0.8 7 -1.7 8 -1.6 5 -2.9 7 -3.9 8 -2.9 5 -14.7 19.7 -2.3 7.3 -0.6 7 0.1 8 1.3 10 7.6 44 4.7 53 6.1 25 5.1 14.9 2 11 1.4 17.1 0.8 27 0.9 11 -180.2 0 0.1-432 4-0.8 3-2.3 2.2-3.9 4.8-12.6 12.7-17.4 3.3-3.1 15.3-10.9 2.7-2.8 1.4-2.2 3.8-13 1.6-8 2.1-21 6.4-36z"/><path fill="#0046ff" d="M763 5.5l38.1 0 0.6 9 12.6 65 5.3 52 6 24 3 22 2.4 4.3 5 5.1 4 2.1 13 5.5 5.2 3 0.7 1 -1.1 2 -3.8 4.4 -1.9 3.6 -1.1 4.1 0.2 3.9 1.8 2.7 10 9.1 8 9.2 3.5 6 2.4 8 1.2 11 -1 16 -1.4 9 -3 11 -4.5 11 -4.7 9 -4.6 7 -8.9 11 -2.6 4 -2.5 8 -0.8 8 0.2 8 1.2 10 7.7 45 0.5 9 1 8 2.3 37 5 31.3 3.8 12.7 5.2 13.4 2 7.2 1.3 11.4 1.3 28 -177.7 0 0.1-431 5-1.1 3-2.7 2.2-4.2 4.6-12 12.2-17 3.1-3 15.9-11.6 2.4-2.4 1.9-3 3.5-12 1.8-9 2.2-21 6.7-36z"/><path fill="#004fff" d="M764.6 5.5l34.9 0 0.8 9 13.2 65 5.3 51 1.6 8 4.4 17 3 22 2.2 4.2 5 5.6 3 1.9 8.9 4.3 3.6 3 0.2 2 -2.8 5 -1.5 5 -0.4 6 0.6 4 1.9 3 11.5 9.2 8.9 9.8 3.3 6 2.7 10 0.6 9 -1.3 12 -1.8 10 -3.1 11 -4.2 10 -4.1 8 -4.6 7 -9.4 11.6 -2.7 4.4 -2.2 7 -1.1 7 0.1 11 1.2 10 7.6 45 1.5 18 1.3 24 0 9 1.4 12 1.4 20 2.4 15 5.8 23 2.3 14 0.5 12 -1.5 11 -167.1 0 0.1-429.9 5-1 2-1.2 1.8-1.9 2.6-5 4.6-11.9 12.4-17.1 3.3-3 15-11 2.8-3 1.5-2.5 3.7-12.5 1.9-9 2.3-21 2.8-16 4.1-19z"/><path fill="#0058ff" d="M768.3 5.5l28 0 9.7 41.7 5.6 26.3 1.3 8 5.3 50 5.9 24 2.9 22 1.9 4 4.1 5.2 3 2.7 6.4 4.1 1.9 2 0.3 2 -1.9 6 -0.7 5 0.6 9 1.3 4 2.7 3 11.4 8.4 8.2 8.6 3.4 6 2.9 11 0.3 8 -1.4 12 -1.7 9 -3.3 11 -4.2 10 -3.7 7 -4.8 7 -8.9 11 -2.8 4.5 -2 5.7 -1.6 8.8 0 12 1.2 10 7.6 46 1.5 18 0.9 23 -0.2 8 1.1 13 0.5 21.4 1 12.6 3.3 21 0.9 9 0.4 10 -0.3 7 -1 7 -2 7 -155.4 0 0.1-428.4 5-1 2-1 2-1.8 3.3-5.8 4.7-12 11.2-16 4.1-4 14.7-11 2.9-3 1.9-3 3.6-12 2-9 2.6-21 3-15.5z"/><path fill="#0060ff" d="M788 26.2l8 1.8 2 1.5 3 6.5 4 13.4 6.9 31.1 5.5 51 5.9 24 2.6 21 1 3 2.1 3.8 4 5.1 5.3 5.1 1 2 -0.8 13 1.2 9 1 4 2.8 4 12.5 9 8.7 9 3.1 6 2.5 10 0.2 7 -1.5 12 -1.5 8 -3.2 11 -4.2 10 -3.7 7 -4.4 6.5 -9 11.1 -3 4.7 -2 5.4 -1.9 9.3 0.2 15 1.7 13 6.7 39 1.5 19 0.8 23 -0.3 10 0.9 12 -0.4 17 0.4 16 2.2 29 -0.1 11 -0.8 8 -1.3 6 -2.8 8 -146.8 0.1 0-425.7 6-1.9 2-1.1 2.6-2.4 2.9-5 5.5-13.6 11-16.1 3.4-3.3 14.6-11.4 2.5-2.6 2-3 1.8-5 3.2-12 4.5-27.1 2-7.7 3-7 2-2 3-1.1 14-3.3z"/><path fill="#0069ff" d="M786 34.9l1 0.2 1.5 1.4 5.5 8.6 6 2.8 2 2.3 2 4.3 3 9.9 4 17.1 5.6 50 6.1 25 2.4 20 2.2 6 7.3 11 1 15 2.6 13 1.4 3 1.5 2 13.9 10 7.8 8 3.2 6 2.4 10 0 7 -1.9 14 -1.3 6 -3 10 -3.9 9 -3.7 7 -4 6 -9 11 -3.6 5.7 -2 5.6 -1.9 9.7 0.1 15 1.8 13.3 6.6 38.7 1.5 19 0.7 23 -0.4 9 0.6 12 -1 34 1 26 -0.5 12 -0.8 7 -1.6 7 -3.6 10 -140.5 0.1 0-395.5 23.8-44.6 4-10 3.3-10 1.8-4 4.2-5 12.9-11.4 3.4-4.6 2-5 3.1-11 3.5-16 3-7.2 3-2.4 11-4.3 2-2.2 4.5-7.9 1.5-1.3z"/><path fill="#0072ff" d="M786 41.9l1.2 0.6 1.8 2.8 5 12.9 2 2.3 5 2.1 2 1.5 3 5.1 2 6 1.7 7.3 1.6 11 4.5 38 5.9 25 2.5 21 1.3 4 4.4 8 1.1 3 2.1 16 3.3 14 1.4 3 2.2 2.7 13.3 9.3 8 8 1.9 3 1.3 3 2.1 9 0.1 6 -1.5 12 -1.6 8 -3 10 -3.8 9 -3.7 7 -4 6 -9.1 11.2 -3.7 5.8 -1.8 5 -2.1 10 0.1 17 1.5 11.2 6.7 39.8 1.6 20 0.5 22 -0.5 9 0.5 12 -1.8 33 0.1 28 -1.5 16 -1.9 8 -4.2 11 -135.5 0.1 0-252.2 8.2-7.9 1.3-2 0.4-2 -1.3-4 -8.6-15.4 0-76.2 13.2-30.4 12.6-24 5.9-10 6.4-13 4.6-13 4.8-22 1.5-3 6.7-10 6.3-17.7 2-3.6 3-3.1 4-2.7 6-3.1 2-1.8 2-4 4-11.1 1.9-2.9z"/><path fill="#007bff" d="M786 48.7l1.2 0.8 1.8 3.4 4 13.5 2 4.3 2 1.8 4 2.1 3 2.2 2 2.7 1.9 5 2.1 10.1 4.7 36.9 6 26 2.3 20 4.5 13 3.6 19 3.7 14 1.5 3 2.5 3 13.2 9.1 8 7.9 2.7 5 2.2 9 0 7 -1.7 13 -1.5 7 -2.8 9 -4.3 10 -3.4 6 -3.4 5 -9 11 -3.8 6 -2 5.2 -2.3 10.8 0.2 17 1.7 13 6.6 39 1.5 20 0.4 21 -0.6 9 0.4 12 -2.4 33 -0.6 27 -1.6 15 -1.9 8 -5 13 -131.4 0.1 0-238.7 9.1-9.4 13.7-12 1.7-3 -0.9-3 -13.6-22 -4-8 -3.2-8 -2.8-9.8 0.1-18.2 2.9-10 9.9-19 9.6-23 13-25 5.5-9.2 7.7-15.8 3.4-9 1.9-7 5.6-27 4.4-11.9 2-3.6 2.7-3.5 3.3-3.3 5-3.9 2-2.4 2-4.9 4-14 1.8-3.5z"/><path fill="#0084ff" d="M786 55.3l1.4 1.2 1.6 3.7 3 11.6 2 5.8 2 2.7 4.3 3.2 2.9 3 2 3 1.8 4.4 2.5 11.6 4.1 27 5.4 23.4 2.5 22.6 11.6 45 1.9 4 2.6 3 13.4 9.2 7.9 7.8 2.6 5 2.1 9 -0.1 6 -2 14 -3.8 14 -4.3 10 -3.3 6 -3.4 5 -9 11 -3.9 6 -2 5 -2.5 11 0.1 18 1.6 12.2 6.7 39.8 1.5 20 0.3 20 -0.6 9 0.2 13 -2.9 33 -1 26 -1.6 14 -2.2 9 -5.4 14 -128 0 0-228.4 14-15.3 10-8.9 8.8-6.4 1.9-3 -0.3-2 -2.4-4.9 -13.8-20.1 -6.8-14 -2.8-8 -1.1-5 -0.3-8 0.4-6 2.5-9 9.9-19.1 9.6-22.9 12.5-24 5.9-10 7.4-15 3.8-10 1.7-6 6.8-31 4-10 2-3 4.3-4.8 2-3.7 5-18.8 1.6-3.7z"/><path fill="#008dff" d="M786 61.9l1 0.6 1.4 3 4.6 16.7 2 3.1 4 3.8 2.4 3.4 1.8 4 2.6 8 10.1 46 1.1 7 1.1 15 1.9 10 11.9 42 2.1 4 2.5 3 13.5 9.2 7.1 6.8 3 5 2.1 9 0 5 -2 15 -3.9 14 -3.9 9 -3.2 6 -3.4 5 -9 11 -4.5 7 -1.9 5 -2.5 11 0.1 18 1.9 14 6.4 38 1.5 21 0.3 19 -0.7 9 0.2 13 -3.4 33 -1.4 26 -1.7 13 -2.2 9 -5.9 15 -125 0 0-219.9 7.1-9.1 10.1-11 9.8-9.1 11.9-8.9 1.6-2 0.7-2 -0.6-3 -4.5-8 -12.7-17 -6.2-12 -3.5-9 -1.3-5 -0.3-8 0.5-6 2-7 10.3-20 9.6-23 12.1-23 5.4-9 8-16.3 5.2-14.7 3.2-13 3.8-19 3.5-9 4.3-7 2-6.3 3.3-13.7 1.7-3.9z"/><path fill="#0099ff" d="M786 68.5l1 0.7 1 2 4 14 1.2 2.3 5.6 7 4 11 3.4 16 4.7 17 1.9 9 3.5 29 2.2 9 6 18 6 21 2.5 4.9 2.7 3.1 14.3 9.8 6.3 6.2 2.8 5 1.9 8 0 5 -2.1 15 -3.6 13 -3.8 9 -3.2 6 -4.1 6 -9 11 -4.2 6.7 -1.9 5.3 -2.4 11 0.1 19 1.2 9.2 7.3 43.8 0.3 9 0.9 8 0.2 18 -0.7 12 0.1 13 -3.6 32 -1.8 26 -1.8 13 -2.2 9 -6.4 16 -122.3 0 0-212.3 9.9-13.7 10.6-12 9.5-9 12-9.2 2.3-2.8 0.9-3 -0.4-3 -1.8-3.8 -4.6-7.2 -11.8-15 -5.9-11 -3.2-8 -1.8-6 -0.4-6 0.4-7 2-7 10.3-19.9 9.2-22.1 12-23 5.8-9.8 8-16.2 4-10.7 4.8-18.3 3.5-18 6.6-16 4.1-16.3 1-2z"/><path fill="#00a5ff" d="M786 75.1l1 0.7 1 2 3.5 10.7 5.7 8 3.2 9 3.6 16.7 4.7 16.3 1.7 8 3.6 29 3 11 6.3 18 6.3 21 2.4 4.6 3 3.4 14 9.5 6 5.8 2.9 4.7 1.9 8 0 5 -2.1 15 -3.6 13 -3.8 9 -3.4 6 -3.4 5 -9 11 -4.4 7 -2.1 5.4 -2.5 11.6 0.1 19 1.4 10.5 7.1 42.5 0.3 9 0.9 8 0.2 19 -0.7 10 0 14 -4 32 -1.5 21 -2.3 17 -2.2 9 -6.8 17 -120 0 0-204.9 6.1-10.1 9.7-13 7.9-9 7.2-7 9.1-7 5-4.5 2.4-3.5 0.8-3 -0.7-4 -2-4 -4.7-7 -5.3-6 -6.7-9 -6.1-11 -3.1-8 -1.7-6 -0.3-7 0.5-5 1.7-6 10.2-19.7 9.2-22.3 11.5-22 6.3-10.7 8-16.3 4-10.4 2-6.8 3-12.1 3.4-17.7 4.9-13 3.7-13.6 1-2.1z"/><path fill="#00b2ff" d="M786 81.6l1 0.7 3.6 8.2 4.6 6 3.4 9 3.9 18 4.4 15 1.5 7 4.2 31 2.5 9 7.2 20 6.1 20 2.5 5 3.1 3.6 14 9.5 6.2 5.9 2.9 5 1.7 8 -0.1 4 -2.1 15 -3.7 13 -3.4 8 -3.2 6 -3.4 5 -9 11 -4.9 7.7 -2 5.3 -2.5 11 0 20 8.6 54 0.2 8 0.9 8 0.2 19 -0.8 10 -0.1 14 -4.2 32 -1.7 21 -2.3 16 -2.2 9 -7.3 18 -117.8 0 0-197.4 6.5-12.6 9.6-14 9.2-11 7-7 14.3-12 2.8-4 1.1-4 -0.7-4 -1.8-4 -5-7.2 -6-6.8 -6.8-9 -5.5-10 -3.3-8 -1.7-6 -0.4-5 0.4-6 1.6-6 10.7-20.9 8.7-21.1 12-23 5.3-8.8 9-18.3 4-10.7 4.7-18.2 3.2-17 4.8-13 2.3-8 1-2.1z"/><path fill="#00beff" d="M786 88l1 0.5 6.5 8 3.9 10 3.6 16.9 4.7 16.1 1.7 8 1.6 11 0.6 8 1.6 10 2.8 9.8 7.1 19.2 6.5 21 2.4 4.5 3 3.6 14.5 9.9 6.2 6 2.6 5 1.5 7 -0.1 4 -2.1 15 -3.8 13 -3.4 8 -3.3 6 -3.5 5 -9 11 -4.4 7 -2.2 5.5 -2.6 11.5 0.1 20 1.2 10 7.3 44 0.3 9 0.9 8 0.1 17 -0.8 11 -0.1 13 -4.4 32.1 -2 21.9 -2.2 15 -2.2 9 -7.8 19 -112.2 0 -3.6-8.2 0-179.9 2.2-6.9 4.6-10 10.1-16 10.1-12.5 7-7.3 9-7.3 5.2-4.9 2.8-4.1 1.4-4.9 -0.7-4 -2.4-5 -5.1-7 -5.4-6 -7.6-10 -4.5-8 -5.3-14 -0.6-5 0.3-7 1.8-6 10.1-19.7 9.2-22.3 11.5-22 5.3-8.7 9.1-18.3 3.9-10.4 2-6.6 3-12.1 3.4-17.9 6.6-16.7z"/><path fill="#00caff" d="M787 92.7l3 1.8 2.7 3 3.4 9 3.9 18 4.4 15 1.3 6 4.3 31 3 10.4 7 18.6 6.5 21 2.6 5 3.4 4 14.5 9.9 5.4 5.1 2.9 5 1.5 7 -0.1 4 -2.1 15 -3.8 13 -3.5 8 -2.7 5 -3.6 5.3 -9 10.9 -4.9 7.8 -2.1 5.4 -2.6 11.6 0.1 20 1.2 10 7.3 44 0.3 9 0.9 8 0.1 16 -0.8 12 -0.2 13 -4.6 32 -3.4 30 -2.8 14 -8.6 21 -105.4 0 -8.5-18.4 0-160.8 4.7-14.8 3.4-8 3.7-7 5.7-9 11.6-15 7.7-8 7.2-5.8 6-5.8 3-5.1 1-4.3 -1-4.7 -2.1-4.3 -5.9-8 -5.5-6 -6.8-9 -5.1-9 -3.3-8 -1.9-6 -0.5-5 0.4-6 1.5-5 10.2-20 9.6-23 11-21 5.4-9.1 9-18 6-16.9 3.2-13 3.5-18 4.3-10.5 2-2.2z"/><path fill="#00d6ff" d="M788 95.2l2 1 1.9 2.3 3.3 9 3.6 17 4.4 15 1.6 7 4.2 30.2 3.1 10.8 7.2 19 6.2 20 2.5 5 4 4.9 14 9.4 6 5.7 2.2 4 1.6 7 -0.1 4 -1.9 14 -3.6 13 -3.9 9 -2.8 5 -3.5 5 -9 11 -4.5 7 -2.4 6 -2.5 11 -0.1 21 1.3 10 7.2 43 1.3 21 0 16 -0.8 8 -0.1 13 -5 33 -3 27 -2 11 -1.5 6 -8.9 21 -99.1 0 -12.9-28.5 0-142.1 7.2-23.4 3.8-9 3.8-7 6.4-10 9.4-12 7.4-7.9 7-5.8 6.3-6.3 2.9-5 1.2-5 -1.1-5 -2.5-5 -5.8-7.6 -5.9-6.4 -6.1-8.2 -4.7-7.8 -3.9-9 -1.9-6 -0.5-5 0.3-5 1.7-6 10.2-20 9.1-22 11.5-22 5.2-8.7 9.2-18.3 5.8-16.4 3.4-13.6 3.5-18 2.3-6 1.7-3 1.1-1.1z"/><path fill="#00e3ff" d="M788 96.9l2 1.1 1.1 1.5 3 8 3.6 17 4.7 16 1.6 7.6 1.8 11.4 0.5 7 1.9 11 2.9 10 7.2 19 6.1 20 3.1 6 3.5 4.2 14.3 9.8 5.4 5 2.5 4 1.7 7 -0.1 4 -2 14 -3.7 13 -3.4 8 -3.3 6 -3.4 4.9 -9 11 -4.5 7.1 -2.1 5 -2.8 12 0 21 1.2 10 7.3 43 1.3 22 -0.1 15 -0.8 8 -0.2 13 -5.1 33 -3.1 26 -3.5 17 -9.4 22 -93.2 0 -9.5-20 -7.5-18.6 0-123.5 9.1-30.9 3.7-9 3.1-6 6.8-11 9.2-12 7.1-7.8 7-5.9 6.2-6.3 3.4-6 1.1-5 -1.2-5 -2.5-5.2 -6-7.8 -6-6.6 -6.3-8.4 -4.7-7.9 -3.4-8.1 -2-6 -0.5-5 0.3-5 1.6-5.6 10.3-20.4 8.7-21 11.4-22 5.6-9.4 9.3-18.6 4.2-11 5-19 3.3-17 3.2-7.9 1-1.1z"/><path fill="#00efff" d="M788 98.7l1 0.5 1.2 1.3 2.6 7 3.9 18 4.7 16 2.3 11 1.6 15 2.1 11 3 10 6.8 18 6.5 21 2.6 5 4.1 5 14.6 10 5 4.8 2.4 4.2 1.4 6 0 3 -2 15 -3.7 13 -3.4 8 -3.4 6 -11.7 15 -5.1 8 -2 5 -2.8 12 0.1 22 1.1 9 7.2 43 1.3 18 -0.1 19 -0.8 8 -0.2 12 -1.1 9 -4.1 24 -3.3 26 -2.4 13 -2.2 7 -8.8 20 -87.6 0 -3.7-7 -10.3-23 -4.5-12 -2.3-8.9 0-102.4 11-38.7 3.4-9 2.5-5 7.2-12 8.9-12 7-7.8 6-5.1 7.1-7.1 2.5-4 1.9-5 0.2-5 -1.3-4 -1.9-4 -6.9-9 -5.6-6.1 -6-8 -5-8.3 -5.2-13.6 -0.6-4 0.1-5 1.6-6 10.6-21 8.5-20.7 11-21.3 5.9-10 9.6-19 3.8-10 2.2-7 3-12 3.5-17.9 2.5-6.1 1.5-1.6z"/><path fill="#00fbff" d="M788 101.5l1.2 1 1.8 4.3 4.5 19.7 4.5 15 2.2 10 2 16 2.1 11 3 10 6.8 18 6.4 21 3.2 6 3.3 4 3 2.5 12.5 8.5 4.2 4 2.4 4 1.5 6 0 3 -1.8 14 -3.8 13.7 -3.4 8.3 -3.5 6 -11.5 15 -5.2 8 -2 5 -2.7 12 0.2 22 1.2 10 6.4 37 0.9 7 0.2 9 0.8 7 -0.1 19 -0.8 7 -0.3 13 -1.1 8 -4.3 25 -2.8 21.5 -3.1 16.5 -1.9 6.4 -6.5 13.6 -3.2 8 -81.7 0 -4.6-8.5 -11-24.8 -4-10.9 -2.9-12.8 -2.1-14.8 0-65.2 2.7-17 9.8-36 5.5-14 7-12.2 9-12.5 7-8 6-5.2 6.9-7.1 2.6-4 2-5 0.7-3 -0.2-3 -1.2-4 -1.9-4 -2.7-4 -10.2-11.8 -6.1-8.2 -4.9-8.2 -5-13.1 -0.6-3.7 0.2-5 1.4-5.3 10.3-20.7 8.7-21.1 26.8-50.9 5.9-16 3.5-14 2.8-15 2-5.2 1-1.4z"/><path fill="#00ffed" d="M788 111.3l1 1.6 3.7 13.6 5.3 15.9 2.6 11.1 2.1 14 2.7 12 3.1 10 6.5 17.8 6.5 21.2 2.7 5 4.2 5 13.9 10 4.7 4.3 2.5 3.7 1.5 6 -0.6 10 -1.4 8.9 -2.4 9.1 -4.8 12 -3.8 6.4 -10.5 13.6 -5.2 8 -2 5 -2.5 11 0.1 23 1.2 10 6.3 36 1.1 9 0.8 16 0 13 -1 12 -0.5 13 -8.8 54.3 -3 14.5 -3 9.1 -6.7 13.1 -3.4 8 -72.9 0 -5-8.7 -12-26.4 -4-10.8 -3-13.1 -2-14 -1.4-19 -0.1-38 1.9-17 1.3-7 9.1-36 5.2-13.2 7-12.3 8.8-12.5 6.2-7.3 6-5.5 7.7-8.2 2.9-5 1.7-5 0.4-3 -0.3-3 -3.2-8 -6.8-9 -6.4-7.2 -7-9.5 -3-5.3 -5.1-13 -0.8-4 0.3-5 1.6-5.6 9.8-20.4 8.2-20 11.7-23 15-27 4-9 2.7-7 3.3-11 3.3-13.9 1-2.6z"/><path fill="#00ffd4" d="M788 142.1l2 0.8 2.6 3.6 3.4 6.8 2.8 7.2 4.7 18 9.5 28 6.5 22 2.8 5 4.3 5 13.1 10 3.4 3 2.9 3.5 1.7 3.5 0.8 4 -0.3 10 -1.2 8.8 -1.9 8.2 -3.8 11 -5 9 -10.7 14 -4 6 -2.2 5 -2.6 11 -0.3 6 0.5 19 1.1 9 7.2 44 0.8 17 -0.2 15 -1.1 10 -0.6 12 -1.2 9 -3.1 17 -5.6 26 -4.8 16 -3.5 8.2 -9.7 14.8 -5.3 9 -48.3 0 -3.8-4 -4.9-7 -8.8-16 -8.5-19 -3.6-12 -3.2-17 -1.9-18 -1.7-35 1-20 2.6-16 5.1-22.4 1.3-4.6 3.7-9.3 7.9-14.7 8.1-12 5.7-7 10.3-10.5 3.7-4.5 3.2-6 1.6-6 0-3 -0.8-4 -2.9-7 -17.8-23 -5-9 -3-7.8 -1.4-5.2 -0.2-4 0.6-4.1 6-15.6 8-18.9 16-33.1 7-12.8 6-9.6 11-14.2 2-2.1z"/><path fill="#00ffbb" d="M787 155.4l3 1.6 4 5.3 5.6 11.2 8.4 23.6 6.8 25.4 2.5 7 2.4 4 2.5 3 4.8 4.4 8.8 6.6 6.2 7 1.6 3 0.9 3 0.6 10 -0.8 10 -1.4 8 -3.4 12 -5.2 10 -10.7 14 -3.9 6 -2.3 6 -2 9 -0.2 6 0.6 18 1.2 10 6.4 38 0.7 7 0.5 16 -0.5 15 -2 21 -1.5 10 -3.4 17 -3.2 11.9 -4.6 14.1 -3.4 8.4 -5.5 10.6 -4.5 5.8 -18 19.7 -4 2.8 -4.3 0.7 -5.7-1.5 -7-3.1 -4.7-3.4 -4.3-4.1 -5-6.4 -8-12.9 -5-9.4 -4.6-10.2 -2.6-8 -2.4-10 -4-24 -3.1-35 -0.2-21 1.3-14 2-13 2.9-12 3.7-9.5 7.9-15.5 7.4-12 5.3-7 11.4-12.7 3.1-4.3 3.5-7 1.4-6 0.2-3 -0.6-4 -2.6-7.5 -5-7.7 -6.3-7.8 -6.7-9.6 -3.3-6.4 -2.9-8 -1.1-5 -0.2-5 3.6-15 7.9-19.7 15.1-32.3 6.9-13.2 4-5.7 4-4.4 7-4.6z"/><path fill="#00ffa2" d="M785 162.9l3 1.2 4 3.7 4 5.7 3 5.9 3.1 7.1 3.7 11 6.1 25 3.1 8 2.6 4 2.7 3 13.8 11 2.5 3 2.5 4 1.5 4 0.8 5 -0.2 15 -1 9 -1.5 8 -2.4 7 -2.3 5 -3.7 6 -8.9 11 -3.3 5 -2 5 -2 9 -0.3 7 0.7 17 1.2 11 6.4 38 0.7 8 0.2 13 -0.8 16 -2.4 20 -2 13 -3.1 14 -3.8 12 -5.9 13.8 -4 7.3 -5 7.1 -5 5.5 -7 5.6 -13 7.9 -3 1.3 -2 0.3 -4-1.4 -4-3.1 -4.2-4.3 -5.8-7.5 -9.2-14.5 -3.8-8 -3-8 -4-15 -4.1-23 -3.6-29 -1.5-20 0.1-13 0.7-9 1.7-10 2-7 3.7-8.8 7.6-15.2 7-12 4.2-6 12.2-14.8 2.8-4.2 3.4-7 1.8-7 0.2-4 -0.5-4 -2.6-8 -5.1-8.5 -11.8-16.5 -2.8-6 -2.5-7 -1.1-5 -0.3-5 2-15 6.1-16 5.3-10 12.1-26.8 4.7-9.2 3.3-4.4 4-3.9 4-1.8z"/><path fill="#00ff89" d="M782 169.4l4 1.2 4 3.1 4 4.9 4 7.2 5 12.7 7 25.4 4 8.5 5 6.2 12.4 9.9 4.3 6 1.5 4 1 6 0.1 16 -1.7 16 -2.8 9 -4.8 9 -9.2 11 -3.5 5 -1.9 5 -1.8 8 -0.2 8 0.9 17 1 10 6.5 39 0.6 14 -0.3 12 -1.1 12 -4.5 30 -3 13 -4.1 12 -3.9 8 -5.5 8.9 -5 5.9 -7 5.9 -6 3.4 -7 2.1 -8 1 -3-0.9 -4-3.3 -9.3-12 -6.1-11 -5.6-15.5 -4.8-20.5 -5.4-31 -3.5-26 -0.7-18 0.9-8 2.1-8 11.5-25 5.4-10 3.8-6 15.6-21 3.2-6 2.2-6 0.9-5 0.1-4 -0.4-4 -1.5-6 -2.2-5 -3.2-5.5 -11.7-16.5 -3.7-8 -2.1-6 -1.4-7 -0.3-4 0.3-7 1.5-7 4.7-12 6.8-12 14.9-29.5 2.2-3.5 2.8-3.2 3-2.2z"/><path fill="#00fe70" d="M782 177.1l3 1 3 2.4 3 3.7 4.1 6.3 5.2 11 8.5 24 4.2 7.8 5 6.3 11.9 9.9 3.5 5 1.5 4 0.8 5 0.4 16 -1.4 17 -2.9 10 -4.1 8 -9.6 11 -3.5 5 -1.9 5 -1.6 8 -0.1 9.2 2 24.7 6.6 40.1 0.5 10 -0.1 8 -1.5 18 -6.3 36 -2.8 10 -3.2 8 -4.6 8 -4.6 6.2 -5 5 -5 3.2 -5 2 -5 0.4 -5-0.3 -5-1.1 -2.9-1.4 -2.1-1.8 -4-4.5 -3.6-5.7 -2.6-5 -5.9-15 -4.3-16 -6.5-30 -5.7-29 -1.3-9 -0.5-7 0.6-7 2.1-7 8.5-18 2.8-7 7.9-15 13.4-19 4.1-6.5 3-6.5 2-8 -0.1-9 -1.4-6 -1.5-3.9 -4.9-8.1 -11.3-15 -5.6-12 -2.5-11 0.1-7 0.6-5 3.3-10 4.5-9 22.1-34 3.7-4.2z"/><path fill="#00fd59" d="M783 183.7l2 0.9 3 3 3 3.9 4 6.6 5 10 7.3 17.4 4.7 8.3 5 6.4 11.6 10.3 2.7 4 1.6 4 1 5 0.5 15 -1.3 18 -2.7 10 -2.2 5 -1.9 3 -9.1 10 -3.7 5 -2.1 5 -1.6 8 -0.1 10 1.1 15 1.3 11 6.4 39 0.5 10 -0.1 8 -1.7 17 -6.5 35 -2.2 8 -3.1 8 -2.7 5 -4.4 6 -4.3 4.5 -4 2.9 -4 1.8 -4 0.6 -4-0.7 -4-1.6 -3-1.9 -4.2-3.6 -2.7-3 -3.4-5 -5.3-11 -6.1-19 -11.3-43.1 -4.4-14.9 -2-9 -0.7-7 0.5-5 1.9-6 7.7-16.1 3.4-8.9 4.1-9 4.4-8 16.1-24 3.3-7 1.9-8 0-9 -2.5-9 -4.7-8 -12.9-17 -5.5-12 -2.6-11 0.1-7 0.8-5 3.8-11 4.6-8 9.7-13.4 13-15.5 3-2.5z"/><path fill="#00fd41" d="M783 189.7l2 0.8 2 1.8 6 8.3 5.7 9.9 8.3 17 5.1 8 4.8 6 9.7 9 2.9 4 1.8 4 1 5 0.6 15 -1.3 18 -3.1 11 -3.5 6.6 -9 9.7 -3.6 4.7 -2.6 6 -1.4 7 0 11 2.6 26 5.6 32 1.2 9 0.1 15 -1.8 17 -6.4 34 -4 13 -2.8 6 -2.6 4 -4.3 5.3 -4 3.5 -5 2.8 -4 0.7 -3-0.5 -3-1.2 -3-2 -3.8-3.6 -5.8-8 -5.6-11 -6.2-18 -12.6-44.8 -3.7-11.2 -2.5-10 -0.8-6 0.4-4 1.9-6 8-17 6.3-16 4.8-9 16.8-25 3.1-7 1.8-8 -0.1-9 -3-9.7 -5-8.1 -12.4-16.2 -3.2-6 -2.9-7 -1.8-7 -0.6-4 0.2-7 0.9-5 3.5-10 5.3-8.5 7-8.6 5-5.3 10-9.6 2-1.4z"/><path fill="#00fc29" d="M783 194.7l3 1.7 6 7.4 5.6 8.7 9.5 17 5.9 8.6 3 3.7 9.7 9.7 2.2 3 1.8 4 1.1 5 0.8 15 -1.3 17 -3.4 12 -3.2 6 -9.5 10 -3.7 5 -2.2 5 -1.4 7 0.2 12 3.1 27 5.5 31 1.3 11 0 12 -1.7 17 -3.5 19 -4.4 20 -2.8 8 -3.4 7 -5.2 6.6 -4 3.9 -5 2.9 -4 0.7 -3-0.6 -3-1.4 -5-4.3 -5.7-7.8 -5.8-11 -6-17 -12.5-44.3 -4.1-12.7 -2.1-8 -1-7 0.4-4 1.9-6 7.9-16.9 2.8-8.1 3.6-8 4.9-9 17.1-25 2.9-7 1.5-7 -0.3-10 -2.8-9 -4.8-8 -13.7-18 -5.5-12 -2-7 -0.6-4 0.2-7 1.1-6 1.5-5 2.3-5 2.3-4 3.5-4.4 6-6.4 6-5.3 8-6.2 2-1.2z"/><path fill="#00fb12" d="M782 198.9l3 1 4 4 7 9.4 10.1 16.2 5.9 8.5 14.4 16.5 1.9 4 1.2 5 0.9 15 -0.3 7 -1.3 10 -1.8 6.9 -2 5.4 -3 5.2 -8.5 8.5 -4.8 6 -2.4 5 -1.2 6 0.5 14 3.6 27 5.6 31 1.3 11 0 11 -2.1 20 -2.8 15 -4.7 21 -2.5 7.1 -3.4 6.9 -2.6 3.8 -6 6.3 -5 3.1 -4 0.8 -2-0.4 -3-1.3 -5-4.3 -5.8-8 -5.8-11 -6-17 -12-43 -3.8-12 -2.2-9 -0.9-6 0.5-4 1.5-5 7.8-17 2.7-8 4-9 3.8-7 5.2-7.7 13.4-18.3 3-7 1.3-7 -0.6-11 -3.1-9 -4.9-8 -13.8-18 -5.6-12 -2-7 -0.6-4 0.1-7 1-6 3.3-9 2.5-4.2 3-3.8 9-8.3 10-6.7z"/><path fill="#05fa00" d="M782 202.3l2 0.6 2 1.4 7 7.9 19 27 10.7 12.3 2.9 4 1.7 4 1.1 5 0.8 14 -0.4 7 -1.3 9 -2 7 -2.4 6 -3.4 5 -7.7 7.1 -5.2 5.9 -3.3 6 -1 4 0 6 1.6 13 4 25 5.7 31 1.3 10 -0.1 14 -1.7 17 -2.8 15 -4.9 21 -2.6 7.1 -3 6 -3 4.3 -6 6 -4 2.4 -4 0.9 -2.7-0.7 -2.3-1.2 -5-4.8 -5-7 -6-11.7 -7.2-21.3 -13.7-49 -2-9 -0.7-5 0.5-4 1.6-5 14.3-34 3.4-6 5.8-8.3 13.6-16.7 2.2-4 1.4-5 0.8-5 -0.1-5 -0.8-7 -1.5-5 -2.8-6 -3.2-5 -9.5-12 -7.5-11 -4.9-12 -1.5-6 -0.3-5 0.5-7 1.3-6 2.6-6 3.2-5 4.5-4.6 6-4.8 10-5.7z"/><path fill="#16fb00" d="M781 205.3l2 0.3 3 1.9 8 8.4 18 24.4 11.6 14.2 2.1 4 1.1 4 0.8 5 0.5 10 -0.4 7 -1.5 9 -2.2 6.9 -2.8 6.1 -3.8 5 -7.4 6.1 -5.9 5.9 -4 6 -1.4 4 0.6 8 4.6 21 9 49 1.2 10 0 12 -2.1 20 -3 16 -5 19.1 -4 8.7 -4 5.9 -7 6.2 -3 1.6 -2 0.4 -2-0.1 -3-1.4 -5-4.7 -6-8.4 -5-9.8 -5-13.7 -7-24.8 -8-30.4 -2.4-13.6 0.5-4 1.9-6 6.4-15 3.2-9 4.3-9 3.7-6 5.4-7.3 15.4-16.7 1.8-3 0.9-3 0.8-6 0-5 -1.4-8 -1.4-5 -3.5-7 -6.9-10 -6.7-8.1 -7-9.9 -4.8-11 -2-7 -0.5-4 0.2-7 1.2-7 2.4-6 3.1-5 3.4-3.6 6-4.6 9-4.5z"/><path fill="#27fb00" d="M781 207.8l2 0.5 3 1.9 9 8.9 27.3 35.4 2.2 4 1.2 4 0.9 6 0.4 9 -0.4 7 -2 9 -2.6 6.9 -2.8 5.1 -4.2 4.7 -8 5.7 -6.5 5.6 -5.8 7 -1.4 3 0 2 1.2 5 7.3 24 5.6 25 5.5 32 0.1 13 -2 21.1 -3 15.9 -4.6 17 -3.8 8 -4.6 6.6 -6.5 5.4 -2.5 1.3 -2 0.5 -2-0.2 -3-1.6 -6-6.2 -6-9.1 -4-8.8 -4.9-13.9 -6-22 -7-29 -2.1-13 0.7-5 2.1-6 8.4-22 4.8-9.6 4-6 5-6.1 7-7.1 11.7-10.2 1.7-2 0.7-2 0.1-6 -0.4-6 -2.1-8 -2.1-6 -5.9-10 -5.9-8 -7.6-9 -6.3-9 -4.9-11 -2.5-10 0-7 1-7 2.2-6 3.3-5.4 4-4 6-4 9-3.5z"/><path fill="#39fc00" d="M778 210.2l4 0.1 3 1.5 7 6 7 7.5 21.5 28.2 2.8 5 1.6 6 0.9 9 -0.1 9 -2 9 -2.7 6.7 -4 6.3 -3 3 -3 2.1 -14 7.8 -2-0.1 -1-0.9 -6.5-12.9 -3.1-5 -9.8-13 -8.5-10 -5.7-8 -4.8-10 -3.1-10 -0.4-7 0.8-8 1.9-6 2.9-5 3.3-3.6 6-4.1zM787 339.7l2 0.6 1 1 3 5.7 6 14.5 3.8 13 3.4 14 4.5 24 1.1 9 0.1 9 -1.9 22.8 -3 16.1 -4.3 15.1 -3.9 8 -4.8 6.3 -6 4.5 -4 1.5 -2-0.2 -3-1.9 -6-6.3 -6-9.6 -5-11.9 -5-16.4 -6-24 -3.7-18 -1.6-12 1.2-7 8.7-24 5.4-10.6 5-6.8 6-6.3 9-7.1 4-2.4z"/><path fill="#4afc00" d="M770 213.8l7-1.6 4-0.1 4 1.8 7 5.6 7 7 7.3 9 11.8 16 3 5 1.8 4 1.6 9 0.4 10 -0.9 6.2 -2.6 7.8 -3.4 5.9 -4.6 5.1 -4.4 2.8 -8 3.1 -3 0.5 -3-1.8 -7.5-9.6 -20.5-23.9 -7-10.1 -5.1-12 -1.7-6 -0.4-5 0.4-8 1.4-6 2.5-5 3.1-4 4.8-3.5zM785 346.5l2 0.5 1 0.9 5 7.7 4 7.7 4 11.5 3.7 13.7 3.3 15.9 2.3 15.1 0.3 10 -1.6 23 -2.9 16 -4.1 13.8 -4 7.9 -4 5.1 -5 4 -3 1.4 -2 0.4 -2-0.4 -3-1.9 -6-6.5 -5-8.1 -5-11.9 -4.7-15.8 -5.3-22.5 -3.3-18.5 -1.2-11 0.7-5 3.5-11 5.3-15 4-7.7 5-6.8 6-5.8 7-4.9z"/><path fill="#5bfd00" d="M767 215.9l7-1.9 6-0.3 4 1.5 6 4.1 8 7.3 7 8.2 11.5 15.7 4.1 7 1.8 5 1.2 7 0.3 9 -0.5 5 -1.9 6 -3 6 -4.5 5.2 -4 2.8 -5 1.8 -5 0.8 -2-0.5 -3-1.9 -10-9.3 -16.3-17.9 -6.7-9 -2.2-4 -3.4-8 -2.6-9 -0.4-6 0.5-7 1.8-6 3.3-5.6 3-3.1zM783 352.3l2 0.3 2 1.5 5 6.2 3 5.1 4 9.7 3.8 12.4 3.2 13.9 2.7 16.1 0.5 7 -0.1 8 -1.2 19 -2.7 16 -3.7 12 -2.7 6 -4.8 6.4 -5 3.9 -3 1.2 -2 0.3 -2-0.5 -3-2 -5.6-6.3 -4.4-7 -5-12 -5.8-21 -3.1-15 -2.7-18 -1-10 0.5-5 3.1-11 4.8-14 3.2-6.6 5-6.8 4-4 6-4.1z"/><path fill="#6dfe00" d="M765 217.8l6-2.2 8-0.6 4 1.3 6 3.6 8 6.8 6 6.6 8.4 11.2 6.1 9 2.9 6 1.4 5 1.1 8 -0.2 9 -1.7 6 -3 5.8 -3 3.6 -4 3 -5 2 -5 0.4 -4-1.1 -5-3 -5-3.8 -8-7.5 -10.3-11.4 -7.1-10 -4.1-9 -2.6-8 -0.8-5 0.1-7 1-6 2.1-5 3.7-5zM782 357.3l2 0.5 2 1.3 4.4 4.4 3.1 5 4.2 9 3.3 9.8 3.3 13.2 2.9 17 0.5 6 -0.8 26 -2.6 16 -1.3 5.2 -4 10.8 -3 4.9 -5 4.8 -3 1.6 -3 0.7 -2-0.2 -3-1.6 -5-5.3 -4-6 -5.2-11.9 -5.5-20 -3.1-16 -2.7-27 0.5-5 2.5-10 4.2-13 2.3-5.2 3.2-4.8 4.8-5.3 6-3.9z"/><path fill="#7efe00" d="M764 219.1l6-2.4 7-0.6 5 1.1 5 2.7 6 4.3 7 6.7 5.6 6.6 9.8 14 3.6 7 1.6 5 1.3 8 0.1 8 -1.1 5 -2.2 5 -2.7 4 -4 3.3 -5 2.2 -5 0.4 -5-1 -6-2.9 -5-3.6 -7-6.2 -10-10.9 -6-8.4 -3.5-6.9 -3.6-10 -1-5 -0.2-6 0.6-6 1.6-5 3.1-5zM781 361.8l2 0.4 2 1 4 3.6 3 4.3 4.3 8.4 2.9 8 3.7 14 3.2 21 -0.6 27 -2.5 15.9 -1 3.9 -3.9 10.2 -3.1 4.9 -2 2.2 -3 2.1 -5 1.3 -2.2-0.5 -2.8-1.7 -5-5.6 -3-5 -4.7-10.7 -5.1-19 -2.7-16 -1.8-25 0.3-5 2.2-10 3.2-11 2.5-6 2.6-4 4.5-5 4-2.7z"/><path fill="#8fff00" d="M764 219.9l5-2.2 7-0.6 5 0.9 6 3 7 5.1 6 5.7 5 5.9 8.3 11.8 3.4 6 2.7 7 1.5 8 0.3 7 -0.7 5 -1.9 5 -2.7 4 -3.9 3.4 -5 2 -5 0.4 -6-1.2 -5-2.2 -5-3.3 -6-5 -10-10.7 -6.1-8.4 -3.2-6 -3.8-10 -1.2-5 -0.4-6 0.4-6 1.4-5 2.9-5zM780 365.9l2 0.2 2 0.8 4 3.4 4 5.9 3 5.8 3 8.2 3.2 11.3 3.3 20 -0.4 27 -3.1 18.5 -3 8.2 -3.4 6.3 -4.3 4 -4.3 1.2 -2-0.3 -2-1 -4.9-4.9 -2.7-4 -4.3-9 -3.2-10 -2.5-10 -3-20 -0.5-24 1.8-10 2.3-9 2.5-7 3.1-5 5.1-5z"/><path fill="#a1ff00" d="M764 220.7l5-2.2 6-0.5 5 0.8 5 2.2 6 3.7 7 6 6 6.7 6.6 9.1 4.2 7 3.1 7 1.7 7 0.7 6 -0.1 6 -1.4 5 -2.8 5.1 -4 3.7 -4 1.8 -6 0.6 -6-1.1 -6-2.6 -6-4.2 -4-3.4 -9.4-9.9 -5.8-8 -2.8-5 -3.7-9 -1.8-6 -0.5-6 0.4-7 1.4-5 3-5zM780 370.1l3 0.7 3.4 2.7 4.6 6.5 3 5.8 5.5 16.7 3.4 19 -0.6 26 -3.1 18 -2.2 6.1 -4 7.4 -3 2.9 -3 1 -3-0.7 -4.3-3.7 -2.7-3.8 -4.3-8.2 -3.7-10.6 -2.5-9.4 -2.8-18 0-24 3.2-16 2.7-8 2.4-4.4 4-4.3 2-1.2z"/><path fill="#b2ff00" d="M764 221.6l5-2.3 5-0.5 5 0.6 6 2.5 6 3.8 6 5 6 6.5 6.1 8.3 4.3 7 3.2 7 1.8 6 1 7 0 6 -1.2 5 -2.7 5 -3.5 3.4 -4 2 -6 0.5 -6-1 -5-2.1 -6-3.9 -5-4.2 -9-9.4 -5.3-7.3 -2.9-5 -3.4-8 -2.1-7 -0.6-6 0.2-6 1.2-5 2.8-5zM780 376.3l3 0.9 3 2.9 4 5.3 3 5.8 5 13.5 3.1 16.8 0.1 9 -0.7 12 -0.7 6 -4.1 15 -2.7 5.7 -3 4.3 -3 1.9 -3-1.1 -3-3.2 -4.4-6.6 -3.6-7.4 -4.1-11.6 -3-17 0.1-21 2.1-11 2.9-8.7 3-6.3 3-3.8z"/><path fill="#c3ff00" d="M764 222.5l5-2.4 5-0.5 5 0.7 6 2.6 6 3.8 6 5 5.3 5.8 6 8 4.3 7 3.1 7 1.8 6 1.1 7 -0.1 6 -1.3 5 -2.2 4 -4 3.8 -4 1.7 -6 0.3 -6-1.3 -5-2.4 -6-4 -4-3.5 -8.3-8.6 -5.7-8 -2.8-5 -3.2-7.7 -2-6.3 -0.7-6 0.2-6 1.3-5 2.2-4zM781 384.4l3 1.5 3 3.2 3 4.3 3 5.5 3.6 9.6 2.6 14 -0.5 14 -2.1 11 -2.9 7 -3.7 7.1 -2 2.3 -2 0.7 -2-0.8 -3-3 -4-5.6 -3-5.4 -3.2-8.3 -2.7-14 0-16 1.5-9 2.4-6.6 4-7.5 3-3.4z"/><path fill="#d4ff00" d="M765 222.7l4-1.8 5-0.5 5 0.8 6 2.5 6 3.9 5.7 4.9 5.3 5.8 6 7.9 3.7 6.3 3.1 7 1.9 6 1 6 -0.1 7 -1 4 -2 4 -3.6 3.5 -4 1.9 -5 0.4 -6-1.1 -5-2.1 -6-3.9 -4.4-3.7 -8.6-8.9 -5-7.1 -2.9-5 -3.1-7.2 -2.2-6.8 -0.8-6.7 0.2-5.3 1.3-5 2.5-4.1zM781 392.3l2 0.4 3 2.3 3 3.5 3.1 5 2.7 7 2.3 13 -0.6 11 -1 5 -1.5 4.6 -2 4.1 -3 4.2 -2 1.7 -2 0.5 -2-0.7 -3-2.6 -5-7 -2.9-7.8 -1.7-9 0-14 1.3-8 2.1-5 2.2-3.7 3-3.5z"/><path fill="#e5ff00" d="M765.2 223.5l4.6-2 4.2-0.4 5 1 6 2.5 6 3.9 5 4.3 5 5.4 6.3 8.3 4.1 7 2.9 7 1.5 5 1 6 0 6 -1.1 5 -2.3 4 -3.4 3 -4 1.7 -5 0.1 -6-1.4 -5-2.4 -5.8-4 -4.2-3.8 -7-7.2 -5-7 -3-5 -3.1-7 -2.3-7 -0.8-6 0-5 1.1-5 2.2-4zM782 398.7l2 0.5 3 2.3 4 5.8 2.1 6.2 1.7 10 -0.4 9 -2 7 -3.4 5.6 -2 1.7 -2 0.7 -2-0.4 -2-1.2 -2-1.8 -2-2.8 -2.8-6.8 -1.5-8 0.1-13 1.2-6 1.9-4 2.1-2.6 2-1.7z"/><path fill="#f6ff00" d="M766 224l4-1.7 4-0.4 5 1 6 2.5 6 4 4.6 4.1 4.6 5 6.3 8 4 7 3 7 1.8 6 0.7 5 0 6 -0.9 4 -2.1 4 -3 2.9 -4 1.8 -4 0.3 -6-1.2 -5-2.2 -5-3.3 -4-3.3 -7.9-8 -4.4-6 -3.8-6 -3.2-7 -2.3-7 -0.9-6 0.1-5 1.2-5 2.2-3.9zM782 403.5l2 0.3 2 1.4 3.2 4.3 1.8 5 1.6 9 -0.2 6 -1.4 6.1 -3 4.9 -3 1.7 -3-0.6 -3.2-3.1 -2.5-6 -1.2-6 0-11 0.8-5 1.1-2.7 1.6-2.3 1.4-1.2z"/><path fill="#fff800" d="M766 224.9l4-1.8 4-0.4 5 1 6 2.6 6 4 4.6 4.2 6.4 7.3 4.3 5.7 3.4 6 3 7 1.8 6 0.8 5 -0.1 6 -1 4 -2.2 3.9 -3 2.6 -4 1.5 -4 0.1 -5-1.2 -5-2.2 -5-3.4 -3.9-3.3 -7.1-7.2 -4.3-5.8 -3.9-6 -2.9-6 -2.7-8 -0.9-5 -0.1-5 1-5 2.2-4zM782 407.9l1-0.1 2 1 2.1 2.7 1.7 5 1.3 8 -0.4 5 -1.5 5 -2.2 2.7 -2 0.6 -2-0.8 -1.9-2.5 -1.6-4 -0.7-4 0.2-13 1.7-4z"/><path fill="#ffe900" d="M766.7 225.5l3.3-1.6 4-0.4 6 1.3 5 2.3 5.1 3.4 4.9 4.4 6.7 7.6 3.7 5 3 5 3.1 7 1.7 5 1.3 6 0 6 -0.8 4 -1.7 3.5 -3 2.9 -3 1.5 -4 0.4 -5-0.9 -5-2.1 -5-3.2 -4-3.3 -7.7-7.8 -3.7-5 -3.9-6 -3-6 -2.7-8 -0.9-5 -0.2-5 1.2-5 1.9-3.5z"/><path fill="#ffdb00" d="M767 226.3l3-1.5 4-0.5 5 0.9 5 2.1 6 4 4 3.6 7 7.8 4 5.4 3.6 6.4 2.9 7 1.5 5 0.8 5 -0.1 5 -0.9 4 -1.8 3.4 -2.9 2.6 -3.1 1.3 -4 0.1 -5-1.1 -5-2.4 -5-3.5 -10-9.8 -4.2-5.6 -3.8-6 -2.9-6 -2.3-7 -1-5 -0.2-4 1-5 1.4-3z"/><path fill="#ffcc00" d="M768 226.7l3-1.3 4-0.3 5 1.2 4.6 2.2 5.4 3.7 4 3.7 6.8 7.6 3.7 5 2.9 5 3 7 1.7 5 0.9 5 0.1 5 -0.8 4 -1.4 3 -2.9 3 -3 1.4 -4 0.2 -5-1.2 -5-2.4 -5-3.5 -10-10 -4-5.5 -3.7-6 -2.8-6 -2.2-7 -0.8-5 0-4 0.9-4 1.6-3z"/><path fill="#ffbe00" d="M768.3 227.5l2.7-1.2 4-0.3 5 1.1 4 1.8 5 3.4 4 3.5 6.9 7.7 3.8 5 2.9 5 2.7 6 1.8 5 1.2 6 0.1 4 -0.6 4 -1.8 3.8 -2.1 2.2 -2.9 1.5 -4 0.3 -4-0.8 -5-2.2 -4.2-2.8 -3.8-3.3 -6.6-6.7 -4.4-5.8 -3.9-6.2 -2.5-5 -2.3-7 -1-5 -0.2-4 0.9-4.1 2-3.7z"/><path fill="#ffaf00" d="M769 228.2l3-1.3 4 0 5 1.4 4 2.1 5 3.6 3.7 3.5 6.2 7 3.6 5 2.9 5 2.6 6 1.6 5 1 5 0.1 4 -0.8 4 -1.4 3 -2.5 2.6 -3 1.3 -4 0 -4-1.1 -5-2.5 -4.6-3.3 -6.1-6 -3.7-4 -3.6-5 -3.7-6 -2.3-5 -2-6 -0.9-5 -0.2-4 1-4 1.6-3z"/><path fill="#ffa100" d="M769 229.3l3-1.4 3-0.2 5 1 4 1.9 5 3.5 4 3.7 6.1 6.7 3.6 5 3 5 2.6 6 1.6 5 1 5 0.1 4 -0.9 4 -1.7 3 -2.2 2 -3.2 1.1 -3 0 -4-1.1 -5-2.5 -4-2.9 -6-5.8 -7-8.6 -5.8-10.2 -2.1-6 -1.2-5 -0.3-4 0.5-3 1.8-4z"/><path fill="#ff9200" d="M770 229.8l3-1.2 3 0 4 0.9 4 2 5 3.5 3.7 3.5 5.5 6 3.8 5.2 2.9 4.8 4 10 1.3 6 0 4 -0.7 3 -1.4 3 -2.1 2 -3 1.2 -3 0.1 -4-1.1 -4.4-2.2 -4.2-3 -5.2-5 -7.5-9 -5.7-10 -2-5.4 -1.3-5.6 -0.2-4 0.5-3.1 1.4-2.9z"/><path fill="#ff8400" d="M770.7 230.5l2.3-0.9 3-0.1 4 0.8 3 1.5 8 6 9 10.2 3 4.5 2.6 5 2.3 6 1.2 5 0.4 4 -0.5 3.9 -1.4 3.1 -1.8 2 -2.8 1.3 -3 0.1 -4-1.1 -4.6-2.3 -4-3 -5.4-5.3 -7-8.5 -3.2-5.2 -2.5-5 -1.7-5 -1.1-5 -0.2-4 0.6-3 1.6-3z"/><path fill="#ff7600" d="M771 231.5l2-0.9 3-0.2 4 0.8 3 1.5 7.7 5.8 8.3 9.3 3.8 5.7 2 4 2.3 6 1.2 5 0.4 4 -0.4 3 -1.3 3.2 -2 2.2 -3 1.1 -3-0.1 -4-1.4 -3.7-2 -3.3-2.5 -5.7-5.5 -6.5-8 -5.6-10 -1.8-5 -1.1-5 -0.2-3 0.4-3 1.5-3z"/><path fill="#ff6800" d="M771.5 232.5l2.5-1.1 3 0 3 0.8 3 1.5 7.6 5.8 5.7 6 5.7 8.2 2.4 4.8 2.2 6 1.1 5 0.1 4 -0.8 3 -1.1 2 -1.9 1.8 -2 0.7 -3-0.1 -4-1.4 -4-2.2 -8.6-7.8 -6.4-8 -5-9 -1.7-5 -1.1-5 -0.2-3 0.6-3 1.4-2.6z"/><path fill="#ff5a00" d="M772.1 233.5l1.9-0.9 3-0.1 3 0.7 2.5 1.3 7.5 5.6 7.6 8.4 5.4 8.8 3.2 9.2 0.7 4 -0.1 3 -1 3 -1.8 2.3 -2 1 -3 0 -3.9-1.3 -3.7-2 -8.4-7.5 -6-7.4 -5-8.9 -1.8-5.2 -1.2-7 0.4-3 0.9-2z"/><path fill="#ff4c00" d="M773 234.6l2-0.8 2 0 3 0.7 3 1.5 7 5.3 7 7.8 5 8.1 3 8.3 0.7 7 -0.9 3 -1.8 2.2 -2 0.8 -2.1 0 -3.3-1 -3.9-2 -7.7-6.8 -6-7.2 -4.6-8 -2.7-8 -0.5-4 0.3-3 0.8-2z"/><path fill="#ff3e00" d="M774 236.3l2-0.8 2 0 3 1 3 1.6 5 3.6 7 7.6 5 8.1 2.8 8.1 0.3 7 -0.8 2 -1.3 1.5 -2 0.8 -2-0.1 -6-2.4 -7-5.9 -6-7.1 -4.1-6.8 -2.7-8 -0.5-4 0.2-3 0.9-2z"/><path fill="#ff3100" d="M775.6 238.5l1.4-0.6 2 0 6 2.4 4.3 3.2 5.7 6.2 4.8 7.8 2.2 6 0.4 6 -0.4 2 -1.3 2 -1.7 0.8 -2 0.1 -5-1.7 -6.3-5.2 -6-7 -3.7-6.3 -2.2-6.7 -0.1-6 0.9-2z"/><path fill="#ff2300" d="M777 241.4l1-0.6 2-0.2 5 1.5 4 2.9 5 5.4 4 6.3 2.3 5.8 0.2 5 -1.5 3.3 -2 1 -2 0 -4-1.6 -5-4.2 -5-5.8 -3-4.8 -2.2-5.9 -0.3-5z"/><path fill="#ff1500" d="M779 243.7l3-0.6 3.9 1.4 3.6 3 3.6 4 3.6 6 1.6 4 0.3 4 -0.6 2 -1 1.2 -3 0.7 -3-1.2 -4-3.3 -5-5.7 -2.8-4.7 -1.7-5 0.2-4z"/><path fill="#ff0700" d="M781 246l2-0.3 3 1.3 3 2.6 3 3.6 3 5.1 1.3 3.2 0 3 -1.3 1.9 -2 0.2 -3-1.6 -3-2.7 -4-4.8 -2-3.5 -1.2-3.5 0-3z"/></g>
<line x1="111.7" y1="575.8" x2="300.5" y2="7.5" stroke="#868686" stroke-width="2.25"/>
<line x1="308.0" y1="575.8" x2="496.8" y2="7.5" stroke="#868686" stroke-width="2.25"/>
<line x1="504.3" y1="575.8" x2="693.1" y2="7.5" stroke="#868686" stroke-width="2.25"/>
<line x1="700.7" y1="575.8" x2="889.5" y2="7.5" stroke="#868686" stroke-width="2.25"/>
<path d="M135.2 575.8v-11M135.2 7.5v11M164.7 575.8v-5.5M164.7 7.5v5.5M194.2 575.8v-11M194.2 7.5v11M223.7 575.8v-5.5M223.7 7.5v5.5M253.2 575.8v-11M253.2 7.5v11M282.7 575.8v-5.5M282.7 7.5v5.5M111.0 505.0h8M300.2 505.0h-8M111.0 416.2h4.5M300.2 416.2h-4.5M111.0 327.5h8M300.2 327.5h-8M111.0 238.8h4.5M300.2 238.8h-4.5M111.0 150.0h8M300.2 150.0h-8M111.0 61.2h4.5M300.2 61.2h-4.5" stroke="#000" stroke-width="2" fill="none"/>
<rect x="111.0" y="7.5" width="189.2" height="568.3" fill="none" stroke="#000" stroke-width="2.2"/>
<rect x="141.5" y="26.6" width="131.4" height="38.7" fill="#fff" stroke="#444" stroke-width="1"/><text x="145.0" y="51.5" font-size="24.3" class="r">T<tspan dy="6.2" font-size="16">ann</tspan><tspan dy="-6.2"> = 830°C</tspan></text>
<text x="134.7" y="606.3" font-size="24" class="b" text-anchor="middle">5.55</text><text x="193.7" y="606.3" font-size="24" class="b" text-anchor="middle">5.60</text><text x="252.7" y="606.3" font-size="24" class="b" text-anchor="middle">5.65</text>
<path d="M331.5 575.8v-11M331.5 7.5v11M361.0 575.8v-5.5M361.0 7.5v5.5M390.5 575.8v-11M390.5 7.5v11M420.0 575.8v-5.5M420.0 7.5v5.5M449.5 575.8v-11M449.5 7.5v11M479.0 575.8v-5.5M479.0 7.5v5.5M307.3 505.0h8M496.5 505.0h-8M307.3 416.2h4.5M496.5 416.2h-4.5M307.3 327.5h8M496.5 327.5h-8M307.3 238.8h4.5M496.5 238.8h-4.5M307.3 150.0h8M496.5 150.0h-8M307.3 61.2h4.5M496.5 61.2h-4.5" stroke="#000" stroke-width="2" fill="none"/>
<rect x="307.3" y="7.5" width="189.2" height="568.3" fill="none" stroke="#000" stroke-width="2.2"/>
<rect x="337.8" y="26.6" width="131.4" height="38.7" fill="#fff" stroke="#444" stroke-width="1"/><text x="341.3" y="51.5" font-size="24.3" class="r">T<tspan dy="6.2" font-size="16">ann</tspan><tspan dy="-6.2"> = 840°C</tspan></text>
<text x="331.0" y="606.3" font-size="24" class="b" text-anchor="middle">5.55</text><text x="390.0" y="606.3" font-size="24" class="b" text-anchor="middle">5.60</text><text x="449.0" y="606.3" font-size="24" class="b" text-anchor="middle">5.65</text>
<path d="M527.8 575.8v-11M527.8 7.5v11M557.3 575.8v-5.5M557.3 7.5v5.5M586.8 575.8v-11M586.8 7.5v11M616.3 575.8v-5.5M616.3 7.5v5.5M645.8 575.8v-11M645.8 7.5v11M675.3 575.8v-5.5M675.3 7.5v5.5M503.6 505.0h8M692.8 505.0h-8M503.6 416.2h4.5M692.8 416.2h-4.5M503.6 327.5h8M692.8 327.5h-8M503.6 238.8h4.5M692.8 238.8h-4.5M503.6 150.0h8M692.8 150.0h-8M503.6 61.2h4.5M692.8 61.2h-4.5" stroke="#000" stroke-width="2" fill="none"/>
<rect x="503.6" y="7.5" width="189.2" height="568.3" fill="none" stroke="#000" stroke-width="2.2"/>
<rect x="534.1" y="26.6" width="131.4" height="38.7" fill="#fff" stroke="#444" stroke-width="1"/><text x="537.6" y="51.5" font-size="24.3" class="r">T<tspan dy="6.2" font-size="16">ann</tspan><tspan dy="-6.2"> = 850°C</tspan></text>
<text x="527.3" y="606.3" font-size="24" class="b" text-anchor="middle">5.55</text><text x="586.3" y="606.3" font-size="24" class="b" text-anchor="middle">5.60</text><text x="645.3" y="606.3" font-size="24" class="b" text-anchor="middle">5.65</text>
<path d="M724.2 575.8v-11M724.2 7.5v11M753.7 575.8v-5.5M753.7 7.5v5.5M783.2 575.8v-11M783.2 7.5v11M812.7 575.8v-5.5M812.7 7.5v5.5M842.2 575.8v-11M842.2 7.5v11M871.7 575.8v-5.5M871.7 7.5v5.5M700.0 505.0h8M889.2 505.0h-8M700.0 416.2h4.5M889.2 416.2h-4.5M700.0 327.5h8M889.2 327.5h-8M700.0 238.8h4.5M889.2 238.8h-4.5M700.0 150.0h8M889.2 150.0h-8M700.0 61.2h4.5M889.2 61.2h-4.5" stroke="#000" stroke-width="2" fill="none"/>
<rect x="700.0" y="7.5" width="189.2" height="568.3" fill="none" stroke="#000" stroke-width="2.2"/>
<rect x="730.5" y="26.6" width="131.4" height="38.7" fill="#fff" stroke="#444" stroke-width="1"/><text x="734.0" y="51.5" font-size="24.3" class="r">T<tspan dy="6.2" font-size="16">ann</tspan><tspan dy="-6.2"> = 860°C</tspan></text>
<text x="723.7" y="606.3" font-size="24" class="b" text-anchor="middle">5.55</text><text x="782.7" y="606.3" font-size="24" class="b" text-anchor="middle">5.60</text><text x="841.7" y="606.3" font-size="24" class="b" text-anchor="middle">5.65</text>
<text x="98" y="157.6" font-size="24" class="b" text-anchor="end">5.65</text>
<text x="98" y="335.1" font-size="24" class="b" text-anchor="end">5.60</text>
<text x="98" y="512.6" font-size="24" class="b" text-anchor="end">5.55</text>
<g transform="translate(39.3 339.2) rotate(-90)"><text x="0" y="0" font-size="38.5" class="r">a</text><text x="18.8" y="9.6" font-size="13.5" class="r">⊥</text><text x="39.2" y="0" font-size="38.5" class="r">[A]</text><text x="60.1" y="-30.7" font-size="38.5" class="r">.</text></g>
<text x="455.4" y="661" font-size="33.8" class="r">a</text>
<text x="471.4" y="670" font-size="19" class="r" fill="#555">∥</text>
<text x="487.6" y="662.6" font-size="40" class="r">[</text>
<text x="513.1" y="661" font-size="34.6" class="r" text-anchor="middle">A</text>
<text x="508.7" y="632.1" font-size="38.5" class="r">.</text>
<text x="525" y="662.6" font-size="40" class="r">]</text>
<text transform="translate(138.5 465.5) rotate(-71.2)" font-size="23" class="b" fill="#0a0a28">relaxation line</text>
<rect x="279" y="132" width="80.6" height="63.5" fill="#000"/>
<rect x="270.5" y="123" width="80.2" height="64.3" fill="#fff" stroke="#333" stroke-width="1"/>
<text x="310.3" y="148" font-size="24" class="r" text-anchor="middle">200 nm</text>
<text x="310.3" y="177" font-size="24" class="r" text-anchor="middle">SiGe</text>
<line x1="282.3" y1="195.0" x2="235.9" y2="264.4" stroke="#000" stroke-width="2.2"/><polygon points="226.4,278.5 233.4,260.3 240.5,265.1" fill="#000"/>
<line x1="339.5" y1="195.0" x2="390.0" y2="255.0" stroke="#000" stroke-width="2.2"/><polygon points="401.0,268.0 385.5,256.2 392.0,250.7" fill="#000"/>
<rect x="652.6" y="509" width="92.8" height="32.8" fill="#000"/>
<rect x="644" y="500.2" width="93.2" height="34" fill="#fff" stroke="#333" stroke-width="1"/>
<text x="690.6" y="525.6" font-size="24" class="r" text-anchor="middle">SiGe-VS</text>
<line x1="679.5" y1="500.0" x2="616.0" y2="419.5" stroke="#000" stroke-width="2.2"/><polygon points="605.5,406.1 620.6,418.4 613.9,423.7" fill="#000"/>
<line x1="709.1" y1="500.0" x2="770.3" y2="440.5" stroke="#000" stroke-width="2.2"/><polygon points="782.5,428.6 771.9,444.9 765.9,438.8" fill="#000"/>
<rect x="1147.9" y="92.0" width="20" height="20" fill="#000"/>
<rect x="1320.3" y="212.1" width="20" height="20" fill="#000"/>
<rect x="1406.5" y="327.4" width="20" height="20" fill="#000"/>
<rect x="1492.7" y="331.9" width="20" height="20" fill="#000"/>
<rect x="1578.9" y="406.1" width="20" height="20" fill="#000"/>
<rect x="1665.1" y="520.9" width="20" height="20" fill="#000"/>
<line x1="1072.0" y1="31.6" x2="1752.4" y2="568.4" stroke="#0000f0" stroke-width="3.6"/>
<line x1="1072.0" y1="343.1" x2="1761.5" y2="343.1" stroke="#f00" stroke-width="3.8"/>
<path d="M1157.9 567.9v-10M1157.9 13.5v10M1244.1 567.9v-5M1244.1 13.5v5M1330.3 567.9v-10M1330.3 13.5v10M1416.5 567.9v-5M1416.5 13.5v5M1502.7 567.9v-10M1502.7 13.5v10M1588.9 567.9v-5M1588.9 13.5v5M1675.1 567.9v-10M1675.1 13.5v10M1072.0 105.9h4.5M1072.0 198.3h9.5M1072.0 290.7h4.5M1072.0 383.1h9.5M1072.0 475.5h4.5M1761.5 30.4h-4.5M1761.5 134.6h-9.5M1761.5 238.8h-4.5M1761.5 343.0h-9.5M1761.5 447.2h-4.5M1761.5 551.4h-9.5" stroke="#000" stroke-width="1.9" fill="none"/>
<rect x="1072.0" y="13.5" width="689.5" height="554.4" fill="none" stroke="#000" stroke-width="2.1"/>
<text x="1058.3" y="21.3" font-size="25.2" class="b" text-anchor="end">5.63</text>
<text x="1058.3" y="206.1" font-size="25.2" class="b" text-anchor="end">5.62</text>
<text x="1058.3" y="390.9" font-size="25.2" class="b" text-anchor="end">5.61</text>
<text x="1058.3" y="575.7" font-size="25.2" class="b" text-anchor="end">5.60</text>
<text x="1157.4" y="601" font-size="25.2" class="b" text-anchor="middle">830</text>
<text x="1329.8" y="601" font-size="25.2" class="b" text-anchor="middle">840</text>
<text x="1502.2" y="601" font-size="25.2" class="b" text-anchor="middle">850</text>
<text x="1674.6" y="601" font-size="25.2" class="b" text-anchor="middle">860</text>
<text x="1773.2" y="142.6" font-size="25.2" class="b" fill="#ee0010">85</text>
<text x="1773.2" y="351.0" font-size="25.2" class="b" fill="#ee0010">80</text>
<text x="1773.2" y="559.4" font-size="25.2" class="b" fill="#ee0010">75</text>
<text x="1198" y="656.2" font-size="39" class="r">Annealing temperature [°C]</text>
<text transform="translate(1836.2 412.8) rotate(-90) scale(1.008 1)" font-size="38.5" class="r" fill="#ee0010">Ge-content [%]</text>
<text transform="translate(990 499.2) rotate(-90) scale(1.04 1)" font-size="38.5" class="r">a<tspan dy="15.5" font-size="15">∥</tspan><tspan dy="-15.5"> of 200 nm Si</tspan><tspan dy="9" font-size="24">0.2</tspan><tspan dy="-9">Ge</tspan><tspan dy="9" font-size="24">0.8</tspan><tspan dy="-9"> [A]</tspan></text>
<rect x="1397" y="213.4" width="143.6" height="41.6" fill="#000"/>
<rect x="1388.7" y="205.7" width="144.4" height="41.8" fill="#fff" stroke="#333" stroke-width="1"/>
<text x="1393.5" y="233.3" font-size="26.4" class="r">T<tspan dy="6.6" font-size="17.2">ann</tspan><tspan dy="-6.6"> = 848°C</tspan></text>
<line x1="1467.4" y1="254.0" x2="1467.4" y2="311.1" stroke="#000" stroke-width="2.6"/><polygon points="1467.4,336.6 1460.0,309.1 1474.8,309.1" fill="#000"/>
</svg>
</body></html>
